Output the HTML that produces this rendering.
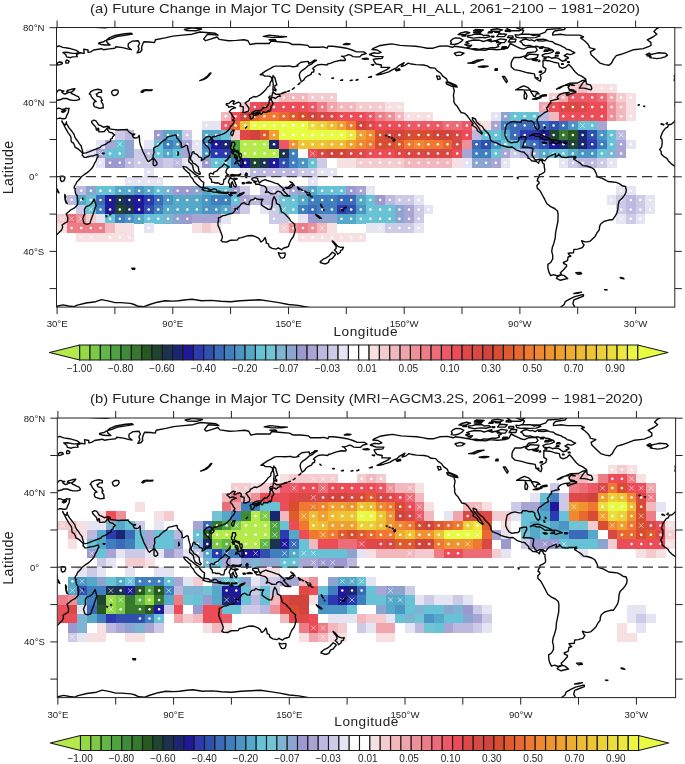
<!DOCTYPE html>
<html><head><meta charset="utf-8"><title>Future Change in Major TC Density</title>
<style>html,body{margin:0;padding:0;background:#fff}svg{display:block;font-family:"Liberation Sans",sans-serif}</style></head><body>
<svg width="685" height="764" viewBox="0 0 685 764">
<defs><clipPath id="clip"><rect x="56.5" y="27.5" width="618.3" height="279.6"/></clipPath>
<path id="coast" d="M53.2 108.6 L55.6 109.3 L58.3 108.2 L60 108.4 L61.9 109.5 L63.8 109.3 L66 108.2 L67.9 108.6 L69.1 108.2 L68.7 109.7 L68.5 111.2 L68.3 112.5 L67.7 113.6 L66.9 115.1 L66.5 116.2 L66 117.7 L65.2 118.5 L63.8 118.8 L62.1 118.8 L61 118.3 L59.4 118.1 L57.7 118.6 L55.2 119.2 L51.3 118.5M61.5 111.6 L62.9 111 L65.8 110.3 L64.8 111.6 L62.9 112.3 L61.5 111.6M56.5 92.5 L58.4 90.1 L60 89.9 L61 90.3 L61.9 90.9 L64 90.9 L61.9 92.2 L63.8 93.7 L65.2 94 L67.5 92.9 L69.6 92.4 L66.7 91.8 L67.3 90.5 L69.6 89.8 L72.5 89 L75 88.8 L73.5 90.7 L72.1 91.6 L70.6 92.4 L71.6 93.5 L74.5 94.8 L75.8 95.7 L78.3 96.6 L79.5 98.5 L79.5 99.3 L76.4 100.4 L72.5 100.4 L69.6 99.8 L66.7 98.5 L62.9 98.5 L60 99.8 L57.1 100.2 L55.2 100 L53.2 98.5 L52.7 96.6 L54.4 95.3 L54.6 94.2 L56.5 92.5M90.5 92.4 L90.8 91.6 L93.7 90.1 L97.6 89.2 L100.5 89.8 L101.5 90.1 L101.5 92.4 L98.6 92.4 L97.6 93.9 L96.2 93.9 L97.2 96.3 L98.6 96.6 L100.9 97.2 L101.3 98.9 L102.4 100.4 L101.1 100.6 L101.5 102.2 L103 104.1 L103.2 106.9 L103.4 107.8 L99.5 108.4 L96.6 107.3 L94.7 106.9 L93.7 105.4 L93.5 103.7 L94.5 101.9 L96.2 101.5 L94.7 100.4 L92.8 98.5 L91.2 96.6 L90.8 94.8 L89.3 93.9 L90.5 92.4M111.5 92 L113 90.5 L114.9 89.8 L117.8 90.1 L118.4 92 L117.5 93.9 L115.9 95.3 L113.6 95.5 L112.2 94.4 L111.5 92M141 92 L142.9 90.1 L145.8 89.8 L149.7 89.9 L152.2 89.8 L151.6 90.5 L147.7 90.5 L144.8 90.5 L142.5 92.4 L141 92M199.8 80.6 L202.7 79.9 L206.5 78 L209.4 75.2 L211 73 L209.8 73.2 L207.5 76.1 L203.7 78.8 L199.8 80.6M57.7 65 L60 64.6 L62.5 63.5 L61.9 62.2 L59 62 L57.1 63.5 L57.7 65M65.8 63.1 L68.3 63.1 L69.1 61.2 L66.7 59.9 L65.8 61.2 L65.8 63.1M60.4 176.2 L62.9 176.1 L64.8 177.2 L64.8 178.7 L63.8 180.9 L61.9 181.6 L60.6 180.5 L60.4 178.3 L60.4 176.2M55.8 183.1 L56.5 185.2 L56.3 188 L58.1 190.8 L59 193 L58.1 192.3 L56.1 188.9 L55.6 186.1 L55.8 183.1M64.8 194.5 L65.8 196.4 L65.4 199.2 L66.4 202 L67.1 203.5 L66 202.9 L65.2 200.1 L64.8 197.3 L64.8 194.5M52.3 238.7 L55.2 236.1 L58.8 232.7 L59.2 232.3 L61.7 229.9 L62.7 226.9 L62.1 225.1 L63.8 223.8 L67.5 221.5 L67.7 217.8 L67.1 215.9 L66.2 213.7 L68.7 211.8 L70.6 210 L74.5 207.9 L77.5 204.8 L77.7 201 L77.3 197.3 L77.2 196 L75.6 193.6 L75 189.8 L75.4 188.9 L74.1 188 L74.5 186.1 L75.8 184.3 L76.8 182 L78.3 180.5 L79.5 179.2 L81.4 176.8 L84.1 174.7 L86.8 172.9 L88.9 171.2 L91.4 168.8 L93.4 166 L94.5 163.4 L96.1 160.6 L97.2 157.8 L98 157 L97.8 154.8 L96.6 154.6 L93.7 155.7 L90.8 156.1 L88 156.7 L86 157.4 L84.1 157.2 L82.7 155.6 L82.2 155.2 L82.7 153.5 L82.2 152.9 L81 151.6 L78.7 149.4 L76.4 147.9 L75.2 147.5 L74.8 146 L73.5 143.2 L71.4 141.8 L71 139.5 L71 137.7 L70.4 135.8 L67.9 132.3 L66.7 130.2 L65.6 128.3 L64.6 126.5 L63.8 124.6 L62.1 121.8 L61.9 120.9 L62.9 123.1 L64 124.2 L65.2 125 L65.8 123.7 L66.5 121.8 L66.4 123.7 L67.1 124.6 L68.7 127.4 L71 130.2 L72.5 132.1 L74.1 134.3 L74.6 136.7 L76 139 L77.7 141 L79.3 143.6 L81.2 146 L81.8 148.5 L82.6 151.1 L83.1 153.1 L85.1 153.1 L86 152.9 L88.9 151.8 L91.8 150.7 L93.9 149.8 L97.6 148.5 L99.9 147.7 L101.5 145.9 L103.6 145.1 L105.9 144.2 L108.2 142.3 L110.5 141.4 L110.5 139.1 L112.1 138.6 L112.6 136.7 L114.6 134.9 L113 133.9 L112.1 132.8 L109.2 132.1 L107.8 130.2 L108 127.8 L107.2 128.3 L105.9 129.6 L104.3 131.5 L100.7 131.9 L98.8 131.7 L98.8 130.2 L98.6 128.3 L98 128.1 L97.2 129.3 L97.2 130.6 L96.2 129.3 L95.9 127.4 L94.7 125.9 L93.4 124.6 L91.8 122.7 L91.6 121.1 L92.8 120.9 L93.7 120.1 L95.7 120.7 L97.2 122.7 L98.6 124.8 L100.7 125.7 L103.4 127.2 L106.3 126.5 L107.8 126.3 L109.2 126.8 L109.7 128.9 L112.1 129.3 L114.9 129.6 L117.8 130 L120.7 129.8 L123.6 129.8 L127.5 129.5 L127.9 130.6 L129.4 132.4 L131.3 133.6 L132.3 134.3 L134.8 133.9 L134.2 134.9 L132.3 135.2 L133.3 137.3 L135 138 L137.1 137.8 L138.5 136.7 L139.2 135.4 L139.4 137.3 L139.6 141.4 L140.4 145.1 L141.6 147.9 L142.9 151.6 L144.5 154.8 L146.2 158.3 L147.5 160.8 L148.7 161.7 L150 160.4 L151.6 159.5 L153.1 157.6 L153.1 155.4 L154.1 152.4 L153.7 149.8 L153.9 147.9 L155.8 146.6 L158 145.9 L159.9 143.8 L163.2 140.8 L166 139.1 L167 137.3 L168.9 136.4 L170.9 136.2 L173.8 135.4 L175.7 134.9 L176.3 135.2 L176.7 137.7 L178.2 139.3 L179.9 141.4 L181.1 143.2 L181.5 146 L181.1 147 L183 147.3 L184.8 146 L186.3 145.1 L187.5 146 L187.8 148.8 L188.6 151.6 L189.4 154.4 L189.4 157.2 L188.8 160 L188.8 161.9 L190.2 162.8 L191.5 164.1 L192.7 165.6 L192.9 167.5 L193.4 169.3 L194.6 171.6 L196.3 172.7 L198.6 174 L199.8 174.4 L200.4 173.1 L198.8 171.2 L198.6 169 L198.3 166.9 L196.5 165.2 L195 163.9 L193.2 163.4 L192.1 161 L190.7 159.7 L190.5 157.2 L191.7 154.8 L192.1 152.6 L193 151.6 L194 152 L194 153.3 L196.3 154.1 L197.7 155.2 L198.8 157 L200.8 157.4 L201.7 158.3 L201.3 160.6 L202.3 160.2 L204.6 158.7 L205.2 157.4 L206.2 157.2 L207.5 156.7 L209.4 155.4 L209.8 153.5 L210 151.6 L209.4 149.2 L208.1 147 L206.2 145.5 L204.6 143.6 L203.3 141.8 L203.3 139.9 L204.8 138.6 L205.6 137.7 L207.5 136.7 L208.7 136.4 L210.4 136.7 L211 138.8 L212.3 139 L211.9 137.3 L213.3 136.7 L216.2 136.2 L218.1 135.4 L219.5 135.2 L222 134.3 L224.3 133.4 L226.4 132.1 L227.2 131.1 L228.7 129.8 L229.9 128.3 L230.6 126.5 L232.6 124.6 L233.7 122.7 L234.5 120.9 L232.6 120.3 L233.5 119.2 L234.3 118.1 L232.6 116.2 L231.2 113.4 L229.3 111.6 L231.2 109.5 L232.6 108.6 L235.5 107.8 L233.5 106.9 L231.6 106.3 L228.7 107.3 L228.3 106 L226.2 104.8 L226.4 103.7 L228.7 103.5 L230.3 102.2 L232.6 100.7 L234.5 101.1 L233 103.5 L233.9 104.3 L236.4 103 L238.9 102.2 L240.3 103.2 L240.7 104.7 L239.9 106 L241.8 106.5 L243.4 106.9 L243.2 108.8 L243.2 110.6 L242.8 112.3 L244.7 112.5 L247 111.7 L248.4 111.2 L249 109.7 L248.8 107.8 L247.4 106 L246.1 104.1 L245.1 103.2 L246.1 102.1 L249 100.7 L249.5 98.9 L251.3 98 L253.6 96.5 L256.1 97 L259.6 95.2 L262.5 92.9 L265.4 90.1 L267.3 87.3 L269.8 85.5 L270.2 82.7 L271.9 79.9 L271.5 77.4 L269.2 76.1 L266.3 76.1 L264.4 76.1 L263 74.8 L260.1 74.8 L264.4 71.9 L266.3 70.6 L270.2 68.7 L273.1 66.8 L275.4 66.1 L279.8 66.1 L284.6 66.3 L290 65.9 L292.4 66.8 L295.2 66.5 L298.1 65.9 L297.2 65 L301 62.2 L305.9 61.6 L308.4 61.4 L308.7 63.7 L311.6 62.2 L314.1 60.3 L316.5 60.3 L313.6 62.2 L311.4 64.2 L307.8 65.9 L304.9 68.7 L302 70.6 L300.1 72.4 L299.3 75.2 L299.9 78 L301 80.8 L301.4 81.7 L303.9 79.9 L304.9 78 L307.8 75.8 L311.1 74.3 L311.6 72.4 L313.6 72 L314.1 69.6 L312.6 68.7 L314.5 66.8 L317.4 65 L321.3 64.4 L327.1 65 L327.6 64 L330.9 63.1 L334.8 61.6 L340.6 60.3 L345 60.5 L345.4 59.4 L343.5 56.9 L341.5 56.2 L343.5 56.4 L346.3 55.6 L348.3 54.7 L350.2 54.9 L353.1 56.6 L356 56.9 L359.8 56.8 L361.8 54.7 L366.2 53.6 L363.7 51.9 L356 51.7 L352.1 50 L346.3 48.2 L340.6 47.3 L332.8 46.3 L328 46.3 L327.1 48.2 L323.2 46.9 L319.3 47.3 L309.7 47.3 L307.8 45.4 L300.1 44.5 L292.4 44.5 L288.5 42.6 L280.8 42 L271.1 41.1 L269.2 43.5 L263.4 43.5 L255.7 43.5 L249.9 44.5 L248 40.7 L244.1 39.8 L236.4 40.4 L228.7 40.7 L219.1 39.4 L217.1 37 L211.4 38.9 L205.6 40.7 L203.7 38.9 L207.5 34.2 L218.1 35.1 L215.2 33.3 L199.8 32 L192.1 34.2 L182.4 35.1 L172.8 36.1 L165.1 37.9 L155.4 39.8 L154.5 42.6 L149.7 42 L143.9 41.7 L142.9 43.5 L141.6 47.3 L141.9 50 L140 52.3 L137.1 52.8 L139.1 49.1 L138.1 46.3 L139.6 43.5 L138.1 40.7 L132.3 41.1 L128.4 43.5 L128.1 45.4 L128.4 47.3 L131.3 49.5 L128.4 49.1 L122.7 47.6 L115.9 46.7 L114.9 48.2 L109.2 48.9 L103.4 49.7 L101.5 48.7 L93.7 50 L90.8 51.9 L88 52.3 L88 50 L83.7 49.1 L84.1 51.9 L84.1 53.4 L80.2 52.8 L76.4 54.7 L77.3 56.6 L72.5 56.9 L70.6 57.7 L66.7 56.9 L65.8 54.7 L62.9 52.5 L66.7 52.3 L72.5 53.4 L76.4 53.4 L78.9 52.3 L76.4 50.4 L68.7 48.2 L62.9 47.4 L59 45.8 L57.1 46.7 L53.2 44.5 L47.5 44.5M98.6 43.5 L101.5 44.5 L105.3 45 L110.1 45 L107.2 42.6 L106.3 40.2 L109.2 37.9 L114.9 35.5 L124.6 33.8 L131.3 33.3 L132.3 34 L126.5 35.1 L116.9 36.6 L111.1 38.9 L105.3 40.7 L103.4 42 L99.5 42.6 L98.6 43.5M273.1 75.6 L275 78 L275.6 80.8 L276.9 84.9 L275 85.5 L274.6 88.3 L276 89.6 L275.8 90.9 L274 89.8 L273.1 91.1 L272.9 88.3 L273.3 85.5 L273.1 82.7 L272.5 79.9 L272.7 77.3 L273.1 75.6M269.8 99.6 L269.2 98.9 L269.8 98 L268.8 97.4 L269.8 96.1 L271.9 96.1 L272.5 93.9 L272.5 92.2 L274 92.9 L276 94.4 L279.4 94.2 L279.2 95.5 L280.4 96.1 L277.7 96.6 L275.4 98.5 L273.1 97.4 L271.1 97.6 L270.9 98.5 L271.5 98.9 L269.8 99.6M270.9 99.4 L272.1 101.3 L273.1 103.2 L272.1 105.4 L271.1 106 L271.1 107.8 L270.4 109.7 L270.8 110.3 L269.2 111.6 L268.8 110.4 L267.7 111.2 L266.9 112.3 L265.7 112.3 L263.4 112.3 L263.2 111.6 L262.5 112.9 L261.5 114.4 L261.1 114.4 L259.8 112.9 L260.1 112.1 L257.6 112.1 L255.7 112.9 L253.8 113.4 L251.9 113.4 L251.9 112.7 L253.8 111.6 L255.7 110.6 L258.6 110.4 L260.5 110.6 L261.5 109.7 L262.8 108.2 L264 106.9 L263.4 108.2 L266.3 107.3 L267.3 106 L268.8 104.1 L269.2 102.2 L269 101.1 L269.8 100 L270.9 99.4M254.8 115.3 L255.7 113.6 L258.6 113.1 L259 113.8 L258 114.7 L256.7 114.4 L255.7 115.7 L254.8 115.3M251.7 113.6 L253.2 114.2 L253.8 115.7 L252.6 118.3 L251.3 119 L250.3 118.5 L250.3 116.6 L249.5 115.8 L249.4 114.7 L250.7 114.2 L251.7 113.6M232.6 130.2 L234.3 130.2 L233.5 132.1 L233.2 133.9 L232.2 135.8 L231 134.7 L230.8 133 L232 131.1 L232.6 130.2M208.9 140.8 L210.4 139.5 L212.3 139.3 L213.3 140.3 L212.3 141.8 L210.4 142.9 L208.9 142.3 L208.9 140.8M153.1 158.7 L153.9 158.5 L155.8 161 L157 162.8 L156.8 164.7 L154.7 165.8 L153.5 165.2 L153.1 163.8 L153.3 161 L153.1 158.7M231.8 142.3 L234.5 142.3 L235.1 144.6 L233.7 147 L233.7 148.8 L234.5 150.3 L236.4 150.7 L238.4 151.1 L238.4 153.3 L237 152.2 L235.5 151.4 L233.5 151.3 L231.8 150.3 L232.4 149.6 L231 149.2 L230.5 146.6 L231.4 146 L231.4 144.2 L231.8 142.3M234.5 163.8 L235.5 161.9 L237.4 160.8 L239.3 161 L241.3 158.5 L242.8 161 L243.2 163.8 L242.6 165.1 L241.3 165.6 L241.1 166.4 L239.3 165.6 L238.4 163.8 L237 162.8 L234.5 163.8M238.9 153.5 L240.9 153.5 L241.6 155.9 L240.7 157.8 L239.9 157.8 L239.1 155.7 L238.9 153.5M234.5 154.6 L236.6 155.4 L235.9 157.2 L234.5 157.2 L234.5 154.6M237 156.5 L237.4 158.2 L236.8 159.8 L235.5 158.5 L236.2 156.7 L237 156.5M231.2 151.6 L233.3 151.8 L233.5 153.9 L232.4 153.9 L231.2 151.6M225.2 161.1 L226.8 159.7 L228.7 157.6 L229.7 155.7 L229.1 157.6 L227.4 159.7 L225.6 161.3 L225.2 161.1M209.4 174 L210.6 173.1 L213.3 174 L213.9 172.1 L217.1 170.8 L219.1 168.4 L222 166.5 L224.3 163.8 L226.2 165.2 L229.1 167.1 L227.2 168.4 L226.4 170.3 L225.8 172.1 L226.8 174 L228.7 174.9 L226.2 175.9 L225.8 178.3 L223.9 179.6 L223.5 182.4 L222.9 184.3 L220.2 184.4 L219.1 183.1 L217.1 182.8 L215.2 183.1 L214.3 182.4 L211.7 182.2 L211.4 179.6 L209.6 177.7 L209.4 175.9 L209.4 174M183 166.4 L186.3 167.1 L188.2 168.8 L189.6 169.9 L192.1 171.8 L193.6 173.1 L195.9 174.9 L197.9 175.9 L199.2 178.3 L200.8 180.2 L201.7 181.1 L203.7 182.4 L203.5 185.2 L203.3 187.6 L202.1 187.6 L200.8 187.4 L198.8 185.9 L196.5 184.1 L194 181.5 L192.7 178.7 L190.2 176.2 L189.6 173.6 L187.5 172.1 L185.3 169.9 L183.4 167.9 L183 166.4M202.1 189.5 L203.7 187.8 L205.2 188 L208.1 188.5 L208.9 189.5 L212.3 189.7 L213.3 188.7 L216.4 189.7 L217.1 191.2 L219.8 191.2 L220 193 L217.1 192.3 L213.3 192.1 L210.4 191.2 L208.5 191.3 L204.6 190.6 L202.1 189.5M221 192.1 L222.4 192.5 L221.4 193.2 L221 192.1M222.9 192.3 L224.3 192.5 L223.9 193.4 L222.9 193.2 L222.9 192.3M224.5 192.6 L226.8 192.1 L228.7 192.5 L227.8 193.2 L224.9 193.6 L224.5 192.6M230.5 192.5 L232.6 192.6 L236 192.1 L236 193 L232.6 193.4 L230.5 193.2 L230.5 192.5M228.7 194.5 L230.6 194.3 L232.2 195.4 L230.6 195.8 L228.7 194.5M237.4 196 L240.3 193.6 L244.1 192.5 L243.2 193.6 L239.3 195.8 L237.4 196M230.3 175.3 L232.2 174.4 L235.5 174.9 L238.4 174.9 L240.7 173.8 L239.3 176.1 L236.4 175.9 L233.5 175.9 L231.2 175.9 L230.6 178.3 L232.6 179.2 L234.5 178.5 L237 178.5 L237.2 178.9 L234.5 179.8 L233.9 180.3 L235.5 182.8 L235.1 183.3 L236.4 185.2 L235.5 187.1 L233.7 185.7 L232.6 183.3 L232.4 181.8 L231.2 183.3 L231.4 187.1 L229.7 187.1 L229.7 184.3 L228.3 182 L229.3 179.6 L230.3 177.2 L230.3 175.3M245.1 174.9 L246.1 172.9 L247.4 174 L246.5 175.3 L247.4 176.2 L246.1 177.7 L245.7 176.2 L245.1 174.9M246.1 182.6 L249 182 L251.5 183 L249 183.1 L246.1 183.1 L246.1 182.6M242.2 182.8 L244.1 182.6 L244.5 183.5 L242.8 183.9 L242.2 182.8M251.9 178.3 L254.8 177.5 L257.6 178.3 L258 180.5 L259.6 183 L261.5 181.1 L265 179.6 L267.3 180.5 L271.1 181.6 L275 183.1 L277.9 183.9 L280.4 186.1 L282.7 188 L284.3 189.3 L282.7 189.8 L284.6 192.1 L286.6 193.9 L288.5 195.8 L290 196 L287.5 196 L284.6 195.8 L282.7 194.5 L280.8 192.1 L277.9 191.2 L276 192.3 L275.6 193.6 L273.1 193.9 L271.1 193.8 L268.2 191.9 L265.4 192.5 L266.9 190.2 L266.3 188 L264.4 186.1 L261.5 185.4 L258.6 184.3 L255.7 184.3 L255.3 183 L253.8 182.2 L256.7 181.5 L253.8 180.9 L251.9 179.6 L251.9 178.3M285.2 187.4 L288.5 187.1 L291.4 184.6 L292.9 184.8 L292.4 186.7 L289.5 188.4 L286.6 188.5 L285.2 187.4M290 181.6 L292.4 182.8 L294.3 185.6 L293.5 184.3 L291.4 182.8 L290 181.6M297.6 187.1 L299.9 188.9 L299.1 189.7 L297.6 187.8 L297.6 187.1M301 189.3 L303 190.4 L302 190.4 L301 189.3M304.9 191 L307.4 192.5 L305.9 192.3 L304.9 191M307 194.1 L309.3 195.1 L307.8 195.3 L307 194.1M309.1 192.5 L310.3 194.5 L309.3 193.6 L309.1 192.5M310.3 196 L312.2 196.9 L311.2 196.9 L310.3 196M320.5 204.2 L321.7 205.7 L320.9 205.9 L320.5 204.2M321.7 206.6 L322.8 207.6 L322 207.6 L321.7 206.6M323.6 209.6 L324.2 210 L323.6 210.2 L323.6 209.6M315.5 214.3 L318.4 215.9 L321.3 218.4 L319.9 218.4 L317 216.3 L315.5 214.3M341.1 209.4 L343.6 209.6 L343.5 210.7 L341.3 210.5 L341.1 209.4M343.8 208.1 L346.3 207 L346 207.9 L343.8 208.1M393 140.1 L394.4 139.1 L394.9 140.5 L393.4 141.4 L393 140.1M391.3 137.8 L392.6 138 L392 138.4 L391.3 137.8M388.4 136.7 L389.3 136.7 L389 137.1 L388.4 136.7M385.5 135.6 L386.3 135.4 L385.9 136 L385.5 135.6M218.5 217.8 L220.2 217.4 L222.9 215.6 L225.8 215.2 L228.7 214.1 L232.6 213.3 L235.1 210.4 L234.9 208.5 L237.4 209 L237.6 207.6 L239.3 206.6 L241.3 203.8 L244.1 202.7 L246.5 204.4 L249 204.6 L249.4 202 L251.1 199.9 L253.8 199.5 L254.9 197.9 L256.7 199 L259.6 199.5 L263 199.2 L261.5 201.6 L261.3 204.8 L263.4 206.4 L266.3 208.1 L268.2 209.4 L270.8 209.4 L272.1 205.7 L272.3 202 L272.7 200.1 L274 196.7 L276 200.1 L276.5 203.5 L279.4 204.8 L280.8 208.5 L281.4 211.8 L283.7 213 L285.6 214.5 L287 216.3 L289.5 218.7 L290.4 220.8 L293.3 223 L294.7 224.3 L294.5 227.1 L295.4 229.9 L294.3 233.7 L293.3 236.8 L291 239.8 L289.5 243 L288.5 246.3 L286.6 247.3 L283.7 248 L281.6 249.7 L278.9 248.4 L278.3 247.8 L276 249.1 L272.1 248.4 L269.2 246.7 L268.4 243.9 L266.3 243.2 L266.3 241.7 L265.4 238.3 L265 237.6 L263.4 240.2 L261.5 241.7 L260.7 241.9 L259.6 239.2 L257.6 237.6 L254.8 236.4 L251.9 235.5 L248 235.7 L244.1 236.8 L241.3 237.6 L238.4 238.3 L237.4 240 L230.6 240.2 L226.8 242 L222.9 241.9 L221 240.7 L222.2 238.3 L222.4 236.4 L221.4 233.7 L220.2 230.5 L219.1 227.7 L218.1 225.6 L217.9 223 L218.5 220.6 L218.5 217.8M278.3 252.7 L280.8 253.4 L285 252.9 L285.2 255.1 L284.4 257.3 L282.7 258.1 L280.8 257.9 L279.4 255.6 L278.3 252.7M332.3 240.9 L333.8 242 L335.7 243.9 L336.7 245.4 L338.4 246.7 L340.6 247.4 L343.5 247.1 L342.3 249.9 L340.6 250.4 L340.4 252.3 L337.7 254.3 L336.7 252.3 L334.4 250.1 L336.1 248.6 L336.1 246.3 L334.8 244.5 L332.8 242 L332.3 240.9M332.3 252.3 L334.8 253.6 L335.4 254.7 L333.8 256.6 L332.5 258.3 L329.6 259.6 L328.4 262.4 L326.1 263.7 L323.8 263.7 L320.3 262.5 L320.3 261.6 L323.2 259.2 L326.1 257.9 L329 256 L330.5 254.2 L332.3 252.3M94.3 199.2 L96.1 205.7 L95.3 207.6 L94.3 210.4 L92.8 215 L90.8 220.6 L89.9 223.4 L87 224.3 L84.1 223.4 L82.7 218.7 L83.7 215.9 L84.7 214.1 L84.5 209.4 L86 206.6 L88.9 205.7 L91.4 203.8 L92.8 201.6 L94.3 199.2M343.5 44.5 L346.3 43.5 L350.2 43.9 L348.3 44.6 L343.5 44.5M263.4 36.4 L269.2 35.1 L278.9 36.1 L286.6 36.6 L280.8 37.4 L271.1 37.4 L263.4 36.4M269.2 39.8 L275 39.4 L276 40.4 L271.1 40.4 L269.2 39.8M184.4 29.5 L192.1 27.7 L201.7 29 L195.9 30.8 L186.3 30.5 L184.4 29.5M89.9 27.1 L99.5 26.2 L111.1 26.7 L105.3 27.7 L89.9 27.1M369.5 54.5 L373.3 52.8 L378.2 53.4 L381.1 52.3 L377.2 50 L372 49.5 L373.3 48.4 L379.1 45.8 L384.9 44.8 L391.7 43.9 L400.3 45.4 L408.1 45.9 L415.8 46.3 L421.5 47.1 L427.3 48.2 L433.1 48.2 L438.9 46.3 L446.6 45.9 L452.4 47.3 L454.3 46.3 L462 47.3 L471.7 49.1 L475.5 50 L481.3 50 L485.2 50.4 L489 49.1 L496.8 49.7 L504.5 49.1 L508.3 47.3 L510.3 43.5 L516 46.3 L519.9 48.2 L523.7 49.1 L527.6 47.3 L535.3 46.7 L537.2 50 L535.3 51.9 L527.6 52.8 L525.7 55.6 L519.9 57.5 L514.1 57.5 L512.2 60.3 L511.2 63.1 L511.2 66.8 L514.1 69.6 L519.9 70.6 L527.6 72.8 L534.4 73.9 L535.3 78 L539.2 80.8 L540.1 81.2 L541.1 78 L540.1 74.8 L545 72 L545.9 68.7 L543 66.8 L543 63.1 L543 60.3 L548.8 60.7 L553.6 62.2 L558.5 63.1 L559.4 66.8 L562.3 68.3 L566.2 66.8 L568.7 64.2 L572 67.8 L574.8 71.5 L577.7 74.3 L581.6 76.1 L585.5 78.9 L586 79.9 L581.6 80.8 L577.7 83 L570 83.2 L565.2 85.1 L560.4 86.8 L556.5 89.2 L559.4 88.3 L564.2 85.5 L569.1 85.1 L569.4 85.8 L568.1 87.3 L569.1 89.2 L570 90.7 L573.9 91.4 L575.8 91.1 L575.8 92.4 L571 93.7 L567.1 95.5 L566.2 93.9 L569.1 92.4 L564.2 92.9 L560.4 94.2 L558.5 95.3 L557.1 97.6 L558.5 99.1 L554.6 99.8 L550.7 100.9 L550.7 103.2 L548.8 104.5 L547.9 106.9 L546.5 107.8 L547.9 111 L545 112.3 L543 113.8 L541.1 115.3 L538.2 117.2 L536.9 119.9 L538.2 123.7 L539.2 126.5 L538.8 128.7 L537.2 129.8 L535.9 128.3 L534 125 L534 122.7 L531.5 120.9 L528.6 121.3 L525.7 120.1 L521.8 120.3 L520.9 122.4 L518 122.4 L514.1 121.4 L510.6 122.2 L506.4 124.6 L505.6 128.3 L505 132.1 L504.9 135.2 L506.4 138.6 L508.3 141.4 L511.2 142.9 L514.1 142.3 L517 142.1 L518.9 140.5 L518.9 137.7 L522.8 136.7 L525.7 136.7 L526.1 138.6 L524.7 141.4 L523.7 143.2 L523.4 145.1 L522.2 147 L523.7 147.3 L527.6 147.2 L531.5 147.9 L533 148.8 L532.4 152.6 L532 155.4 L533.4 157.2 L534.4 159.1 L536.3 160 L539.2 159.1 L542.1 159.1 L544.4 161 L545 160.6 L547.9 156.9 L550.4 155.9 L553.6 154.4 L555.2 153.7 L555.6 155.4 L555.2 157.2 L558.5 155.4 L558.5 154.1 L561.4 157 L566.2 157.6 L568.1 157 L572.9 156.9 L573.9 156.9 L573.9 159.1 L576.8 161 L579.7 162.8 L582.6 165.6 L586.4 166 L591.2 167.5 L594.1 169.3 L596.1 173.1 L597 175.9 L597 176.8 L599.9 177.7 L601.8 178.1 L604.7 179.6 L608 181.5 L612.5 182 L616.3 182.4 L619.2 183.7 L622.1 185.7 L625.4 186.5 L626.3 189.8 L625.9 192.6 L624.4 195.4 L622.1 198.2 L619.2 201 L618.2 204.8 L617.8 209.4 L616.9 213.1 L615.3 215.9 L613.4 218.7 L612.5 219.7 L610.1 219.7 L606.7 220.6 L603.8 221.5 L600.5 224.3 L599.5 227.1 L599.3 229.9 L597 232.7 L595.1 236.4 L592.2 239.2 L590.3 241.1 L587.4 241.9 L585.1 241.9 L581.6 240.7 L583.1 243.9 L584.1 244.8 L582.4 247.6 L577.7 249.1 L573.9 249.5 L573.5 252.7 L568.1 253.2 L569.4 255.1 L571 256 L568.1 257 L567.5 260.7 L563.3 262.5 L563.7 263.5 L566.6 264.8 L566.6 266.3 L563.3 270 L560.4 272.8 L561.4 274.3 L557.5 276 L553.6 274.7 L550.7 275.6 L548.8 271.9 L547.9 268.1 L547.9 264.4 L550.7 262.5 L552.7 258.8 L552.7 255.1 L551.7 251.4 L552.3 247.6 L553.6 243.9 L555.2 238.3 L555.6 232.7 L556.5 228.1 L557.9 221.5 L558.1 214.1 L557.5 211.1 L554.6 208.5 L550.7 206.6 L546.9 203.8 L544.6 199.2 L542.1 194.5 L540.1 190.8 L537.2 188 L536.9 185.4 L539.2 183.1 L538.6 181.5 L537.2 180.9 L537.8 178.7 L539.2 176.4 L539.2 174.9 L541.7 173.8 L544.6 172 L544.8 169.5 L544.2 166.5 L544.2 164.1 L542.6 163.2 L542.1 161 L540.1 160 L539.2 161 L538.6 163.2 L536.3 161.5 L533.8 161 L532 161.1 L529.1 158.2 L528 158.2 L528 156.3 L524.7 152.9 L524.3 152.2 L520.9 151.6 L516 149.8 L512.2 147 L508.3 147.3 L503.5 146 L500.6 145.1 L496.8 143.2 L491.9 141.4 L490 138.8 L490 136.7 L488.3 133.6 L484.2 129.6 L482.3 126.5 L479.6 124.8 L476.5 121.8 L475.5 119 L472.3 117.7 L472.6 119.9 L475.5 123.7 L478.4 127.4 L480.4 130.6 L482.3 133 L481.9 134.1 L480.4 133 L477.5 130.8 L476.5 128.3 L474.2 126.5 L471.7 125 L473.2 123.7 L471.7 121.8 L469.8 119.4 L468.2 117.2 L467.4 116 L464.9 113.4 L461.1 112.5 L459.2 109.7 L457.2 106.3 L454.9 104.1 L453.8 101.5 L453.9 98.5 L453.4 95.7 L454.3 90.7 L453 86.6 L457.2 87 L456.3 85.5 L452.4 83.6 L447.6 81.7 L446.6 78.9 L442.8 76.1 L440.8 73.3 L437 70.6 L435 68.1 L430.2 67.8 L427.3 65.9 L423.5 65 L415.8 64.6 L410 63.7 L408.1 63.1 L405.2 65.3 L401.3 66.5 L404.2 62.7 L398.4 65.9 L396.5 67.8 L392.6 69.6 L388.8 71.9 L383 73.7 L378.2 74.7 L376.2 74.8 L381.1 72.4 L386.8 69.6 L389.7 67.4 L386.8 67.4 L381.1 67.4 L381.4 65 L376.2 64 L374.3 61.8 L373.3 59.4 L375.3 59 L382 58.4 L383 56.6 L375.3 56.6 L369.5 54.5M561.4 274.8 L564.2 275.6 L567.7 278.6 L564.2 279.3 L560.4 280.3 L556.5 278.4 L557.5 276.5 L561.4 274.8M575.8 272.8 L580.6 272.4 L581.6 273.7 L577.7 274.3 L575.8 272.8M446 82.1 L449.5 83.2 L453.4 85.5 L455.5 86.6 L451.4 86.2 L446.6 84 L446 82.1M436.6 76 L439.5 76.1 L440.4 78.9 L437.9 79.5 L436.6 76M395.5 70 L399.4 68.7 L400 70 L396.5 70.9 L395.5 70M362.3 58.8 L366.6 58.2 L368.5 59 L364.7 59.4 L362.3 58.8M371.4 64.6 L373.9 64.4 L373.3 65.3 L371.4 64.6M537.2 39.4 L545 39.4 L548.8 41.1 L552.7 41.7 L554.6 43.5 L560.4 45.4 L562.3 46.7 L564.2 47.3 L566.2 49.1 L570 50 L572 51.4 L574.8 52.7 L572 54.1 L570 54.7 L567.1 53.8 L564.2 55.6 L568.1 57.5 L568.1 58.4 L565.2 59.4 L566.2 60.3 L562.3 61.2 L560.4 59.9 L558.5 58.4 L554.6 57.5 L551.7 58.2 L548.8 56.8 L545.9 57.3 L543 56.6 L542.1 55.1 L545 53.8 L548.8 53.4 L550.7 52.8 L553.6 51.4 L552.7 50 L549.8 48.9 L548.8 48.2 L545 47.8 L543 46.7 L539.2 47.1 L537.2 46.3 L533.4 46.7 L529.5 45.4 L525.7 45.8 L522.8 44.5 L521.8 42.6 L519.9 41.7 L522.8 39.8 L525.7 39.2 L529.5 40.4 L531.5 39.8 L534.4 41.1 L537.2 39.4M466.9 47.8 L469.8 48.9 L475.5 48.7 L479.4 49.5 L483.3 48.4 L487.1 48.7 L491 47.6 L494.8 47.8 L498.7 46.5 L497.7 44.8 L500.6 43.5 L498.7 41.7 L494.8 40.7 L491 41.7 L487.1 40.4 L483.3 41.5 L479.4 40.2 L473.6 40 L468.8 41.1 L465.9 42.2 L468.8 43.5 L464.9 44.5 L467.8 45.8 L471.7 45.2 L469.8 47.1 L466.9 47.8M450.5 44.1 L454.3 44.5 L458.2 43.5 L461.1 41.7 L463 39.8 L460.1 38.3 L455.3 37.9 L452.4 39.2 L450.5 41.1 L451.4 42.6 L450.5 44.1M467.8 37 L473.6 38.1 L479.4 37.4 L485.2 37.7 L490 36.6 L488.1 35.1 L483.3 35.5 L481.3 34.2 L475.5 34 L471.7 35.1 L467.8 35.5 L467.8 37M496.8 42.6 L504.5 42.6 L506.4 39.8 L500.6 38.9 L495.8 40.7 L496.8 42.6M508.3 42 L515.1 42 L516 39.2 L510.3 38.9 L508.3 42M501.6 48.2 L507.4 48.2 L506.4 46.7 L502.5 46.7 L501.6 48.2M516 37 L519.9 37.9 L523.7 37.6 L529.5 37.9 L535.3 37.6 L540.1 35.9 L537.2 34.8 L533.4 35.5 L529.5 34.2 L521.8 34 L518 35.1 L515.1 34.6 L516 37M521.8 34.2 L539.2 34.4 L545 32.3 L546.9 29.5 L558.5 28.6 L568.1 25.8 L577.7 23 L558.5 22.1 L529.5 24 L516 27.7 L523.7 30.5 L521.8 34.2M510.3 30.8 L519.9 30.8 L523.7 27.7 L514.1 25.8 L506.4 27.7 L510.3 30.8M496.8 36.6 L504.5 36.6 L506.4 34.2 L498.7 33.8 L496.8 36.6M524.7 57.5 L529.5 54.1 L538.2 54.7 L537.2 57.5 L533.4 58.8 L527.6 59.4 L524.7 57.5M586 80.6 L586.4 83.6 L588.3 84.5 L590.3 84.9 L591.2 86.4 L591.8 88.3 L591.2 89.8 L588.3 89.2 L586.4 88.6 L583.5 88.1 L579.3 88.1 L580.6 86.4 L581.6 84.5 L583.5 82.1 L586 80.6M569.1 83.8 L574.5 85.3 L572 85.3 L569.1 83.8M570 89.4 L573.9 90.3 L572 91.1 L570 89.4M529.5 136 L533.4 133.9 L537.2 133.6 L541.1 134.9 L545 136.7 L548.8 138.2 L550.4 139.1 L547.9 139.7 L544 139.7 L542.1 138.2 L539.2 136.5 L535.3 136.4 L534.4 135.4 L531.5 135.4 L529.5 136M549.8 139.9 L551.7 139.7 L555.6 139.9 L558.5 140.8 L561.5 142.3 L558.5 142.7 L555.6 143.8 L552.7 142.9 L549.8 142.7 L553.6 142.1 L553.3 140.8 L549.8 139.9M542.3 142.5 L545 142.3 L546.5 143.2 L544 143.6 L542.3 142.5M563.9 142.3 L566.9 142.5 L566.6 143.2 L563.9 143.2 L563.9 142.3M574.3 156.7 L575.8 156.7 L575.8 158 L574.3 158 L574.3 156.7M543 130 L544.2 131.5 L543.4 131.7 L543 130M544.4 126.8 L545.3 127.6 L544.6 128.3 L544.4 126.8M552.7 35.1 L560.4 34.2 L566.2 35.1 L579.7 35.1 L583.5 37 L580.6 37.9 L584.5 40.7 L587.4 43.5 L589.3 46.3 L589.3 47.6 L595.1 49.1 L590.3 51.9 L591.2 54.7 L594.1 57.5 L597 60.3 L599.9 63.1 L604.7 64.6 L609 65.3 L611.5 63.1 L613.4 59.4 L616.3 55.6 L621.1 54.3 L627.9 51.9 L633.7 49.7 L643.3 48.6 L649.1 46.3 L651 45.4 L651 42.6 L647.2 39.8 L652.9 37 L656.8 34.2 L653.9 31.4 L656.8 28.6 L660.7 26.7 L635.6 22.1 L597 22.1 L568.1 24.9 L564.2 29.5 L554.6 31 L552.7 33.3 L552.7 35.1M646.2 54.7 L649.1 53 L651 54.5 L654.9 53.6 L658.7 52.8 L661.6 53 L665.5 53.2 L667.4 55.1 L665.1 56.9 L660.7 58.1 L656.8 58.6 L652 57.9 L649.7 57.5 L651 56.6 L647.2 55.8 L650.4 55.3 L646.2 54.7M678 118.1 L674.7 120.9 L674.2 121.8 L671.3 124.2 L668.6 124.8 L667.4 127.4 L665.5 128.1 L662.6 132.1 L660.7 137.1 L660.7 138 L662 139.5 L662.2 143.2 L661.6 147 L659.7 149.4 L661.2 151.6 L661.2 153.9 L663.6 156.3 L666.4 158.2 L667.4 159.1 L668.4 161 L671.3 163.8 L673.2 165.1 L675.1 166.5 L678 168.2M674.2 80.6 L677 80.8 L679.9 79.9 L681.9 77.1 L680.9 74.3 L678 73.7 L674.2 75.8 L674.7 77.3 L674.2 80.6M676.1 96.1 L675.5 96.6 L676.1 98.5 L676.7 100.4 L675.1 104.7 L676.1 107.8 L679.9 107.8M661 124 L662.2 123.7 L661.8 124.6 L661 124M663.2 124.4 L663.9 124.6 L663.4 125 L663.2 124.4M666.1 123.7 L667.4 122.6 L667 124.2 L666.1 123.7M643.7 106.3 L644.8 106.3 L644.3 106.5 L643.7 106.3M638.1 105 L639.4 104.8 L638.9 105.2 L638.1 105M454.3 53.2 L459.2 51.9 L464 53.2 L461.1 55.1 L456.3 55.6 L454.3 53.2M467.8 63.1 L471.7 62.5 L476.5 60.3 L483.3 59.7 L477.5 61.6 L473.6 63.3 L467.8 63.1M502.5 76.5 L504.5 76.5 L507.4 80.8 L506.4 82.7 L504.5 79.9 L502.5 76.5M478.4 66.8 L483.3 65.9 L488.1 66.3 L483.3 67.2 L478.4 66.8M515.8 89.8 L519.9 87.5 L523.7 85.8 L527.6 87.3 L530.5 90.1 L525.7 90.1 L521.8 89.6 L518 89.8 L515.8 89.8M524.3 91.2 L525.7 92.9 L527 95.7 L526.1 99.1 L524.3 98.5 L524.1 95.7 L524.7 92.9 L524.3 91.2M530.5 91.1 L533.4 91.2 L537.2 92 L539.2 93.9 L536.3 93.7 L535.3 96.6 L533.8 96.3 L532.4 94.2 L530.5 91.1M532.4 99.1 L536.3 98 L541.1 97 L541.1 97.6 L536.3 99.4 L532.4 99.1M539.8 96.1 L543 95 L546.3 94.8 L546.3 95.7 L542.1 96.3 L539.8 96.1M-0.7 306.3 L18.5 307.3 L37.8 307.3 L51.3 307.3 L57.1 306.3 L62.9 304.9 L68.7 306 L74.5 306.7 L76.4 305.4 L86 303 L95.7 301.7 L101.5 299.6 L109.2 301.1 L114.9 302.6 L120.7 302.6 L130.4 303.4 L134.2 304.5 L138.1 306.3 L143.9 306.7 L149.7 304.5 L157.4 302.2 L165.1 300.8 L172.8 301.1 L178.6 300.8 L186.3 299.8 L192.1 299.3 L201.7 300.8 L211.4 300.4 L221 301.3 L230.6 301.7 L240.3 300.8 L249.9 300.2 L259.6 299.8 L269.2 301.1 L278.9 302.6 L288.5 304.5 L298.1 305.4 L307.8 307.3 L317.4 308.6 L327.1 310.1M575.8 309.1 L572.9 303.6 L573.9 299.8 L578.7 298 L583.5 296.1 L583.5 294.6 L581.6 294.8 L574.8 296.7 L570 298.9 L565.2 301.7 L564.2 304.5 L560.4 307.3 L554.6 311M620.2 277.5 L623.1 278 L624 278.9 L621.1 278.4 L620.2 277.5M131.9 268.1 L134.8 268.3 L134.6 269.4 L132.3 269.3 L131.9 268.1M102.2 153.3 L104.3 153.3 L103.4 153.9 L102.2 153.3M178 151.6 L178.6 154.4 L177.8 155.2 L178 151.6M105.9 215.8 L106.9 216.1 L106.3 216.7 L105.9 215.8M109.9 214.1 L110.7 214.5 L110.1 215 L109.9 214.1M82.6 198.2 L83.1 198.8 L82.7 199.2 L82.6 198.2M245.5 128.1 L246.7 126.8 L245.9 127.8 L245.5 128.1M280.8 93.9 L283.7 92.4 L286.2 92 L283.7 92.9 L280.8 93.9M287.5 91.4 L289.5 90.7 L288.5 91.4 L287.5 91.4M292.4 89.2 L294.3 87.7 L293.3 88.8 L292.4 89.2M298.1 84.5 L300.1 82.7 L299.1 84 L298.1 84.5M371.4 77.1 L368.5 77.4 L371.4 76.3 L371.4 77.1M357.9 79.9 L356 80.2 L357.9 79.3 L357.9 79.9M352.1 80.4 L350.2 80.6 L352.1 79.9 L352.1 80.4M342.5 80.2 L340.6 80.4 L342.5 79.7 L342.5 80.2M332.8 78.4 L331.9 78.2 L333.6 78 L332.8 78.4M319.3 73.9 L320.3 74.7 L319 73.7 L319.3 73.9M517.2 177.4 L518.3 177.5 L518 178.7 L517.2 177.4M604.7 289.6 L607.1 289.8 L605.9 290.1 L604.7 289.6M573.9 293.5 L577.7 292.7 L581.6 292.2 L577.7 293.3 L573.9 293.5M458.2 34.6 L464 34.8 L469.8 32.7 L465.9 31.8 L460.1 33.3 L458.2 34.6M491 31 L498.7 31.4 L502.5 29.9 L496.8 28.8 L491 29.7 L491 31M505.4 31.4 L510.3 31.6 L510.3 29.9 L505.4 30.3 L505.4 31.4M473.6 30.8 L481.3 31.2 L483.3 29.9 L475.5 29.5 L473.6 30.8M507.7 37.6 L513.1 37.6 L512.8 35.9 L508.3 35.9 L507.7 37.6M537.8 40.7 L543 41.1 L546.9 40.2 L543 39.1 L538.2 39.4 L537.8 40.7M544 51.4 L547.9 51.2 L547.5 50 L544.6 50 L544 51.4M532.4 60.1 L536.3 60.9 L537.8 59.7 L534.4 59.2 L532.4 60.1M538.4 61.6 L539.9 61.2 L539.6 60.3 L538.4 61.6M535.3 78 L538.2 78.4 L537.8 77.6 L535.3 78M539.2 72.2 L541.1 72.4 L541.7 71.1 L539.8 71.3 L539.2 72.2M494.8 32.2 L499.6 32.2 L498.7 31.6 L494.8 32.2M487.1 40.2 L491 40.4 L491 39.2 L487.1 40.2M488.1 32.9 L491.9 32.9 L492.5 31.8 L489 31.8 L488.1 32.9M473.6 32.5 L480.4 32.7 L481.3 31.4 L475.5 31.2 L473.6 32.5M462 35.9 L465.9 36.1 L465.9 35.1 L463 35.1 L462 35.9M491.5 37 L493.9 37 L493.9 36.1 L491.5 36.3 L491.5 37M547.9 50.4 L550.7 50.6 L550.7 49.7 L547.9 49.7 L547.9 50.4M539.8 48.2 L542.6 48.2 L542.1 47.3 L539.8 47.4 L539.8 48.2M544 58.6 L545.9 58.8 L545.9 58.1 L544 58.1 L544 58.6M561.7 64.4 L563.3 64.4 L563.1 63.7 L561.7 63.8 L561.7 64.4M567.5 62.4 L569.4 62.4 L569.1 61.6 L567.5 61.8 L567.5 62.4M494.8 70.2 L497.3 70.2 L497.3 68.7 L495.4 68.7 L494.8 70.2M555.6 53.4 L559.4 53.2 L559 52.3 L556.5 52.3 L555.6 53.4M555.2 56 L558.1 56 L558.1 55.3 L555.6 55.3 L555.2 56" fill="none" stroke="#0a0a0a" stroke-width="1.4" stroke-linejoin="round" stroke-linecap="round"/></defs>
<rect width="685" height="764" fill="#fff"/>
<g transform="translate(0,0)">
<g clip-path="url(#clip)">
<g shape-rendering="crispEdges"><rect x="568.1" y="83.6" width="9.8" height="9.5" fill="#F4CCD0"/><rect x="577.7" y="83.6" width="9.8" height="9.5" fill="#F2B8BE"/><rect x="587.4" y="83.6" width="9.8" height="9.5" fill="#F6E0E2"/><rect x="597" y="83.6" width="9.8" height="9.5" fill="#F6E0E2"/><rect x="606.7" y="83.6" width="9.8" height="9.5" fill="#F6E0E2"/><rect x="269.2" y="92.9" width="9.8" height="9.5" fill="#F6E0E2"/><rect x="278.9" y="92.9" width="9.8" height="9.5" fill="#F2B8BE"/><rect x="288.5" y="92.9" width="9.8" height="9.5" fill="#F2B8BE"/><rect x="298.1" y="92.9" width="9.8" height="9.5" fill="#F2B8BE"/><rect x="307.8" y="92.9" width="9.8" height="9.5" fill="#F4CCD0"/><rect x="317.4" y="92.9" width="9.8" height="9.5" fill="#F4CCD0"/><rect x="327.1" y="92.9" width="9.8" height="9.5" fill="#F4CCD0"/><rect x="548.8" y="92.9" width="9.8" height="9.5" fill="#F4CCD0"/><rect x="558.5" y="92.9" width="9.8" height="9.5" fill="#F0A4AC"/><rect x="568.1" y="92.9" width="9.8" height="9.5" fill="#EC5866"/><rect x="577.7" y="92.9" width="9.8" height="9.5" fill="#EC5866"/><rect x="587.4" y="92.9" width="9.8" height="9.5" fill="#EC5866"/><rect x="597" y="92.9" width="9.8" height="9.5" fill="#EC6C78"/><rect x="606.7" y="92.9" width="9.8" height="9.5" fill="#F0A4AC"/><rect x="616.3" y="92.9" width="9.8" height="9.5" fill="#F4CCD0"/><rect x="625.9" y="92.9" width="9.8" height="9.5" fill="#F6E0E2"/><rect x="240.3" y="102.2" width="9.8" height="9.5" fill="#F4CCD0"/><rect x="249.9" y="102.2" width="9.8" height="9.5" fill="#EC4C58"/><rect x="259.6" y="102.2" width="9.8" height="9.5" fill="#E04848"/><rect x="269.2" y="102.2" width="9.8" height="9.5" fill="#EC4C58"/><rect x="278.9" y="102.2" width="9.8" height="9.5" fill="#EC4C58"/><rect x="288.5" y="102.2" width="9.8" height="9.5" fill="#EC4C58"/><rect x="298.1" y="102.2" width="9.8" height="9.5" fill="#EC4C58"/><rect x="307.8" y="102.2" width="9.8" height="9.5" fill="#EC5866"/><rect x="317.4" y="102.2" width="9.8" height="9.5" fill="#EE7C86"/><rect x="327.1" y="102.2" width="9.8" height="9.5" fill="#F0A4AC"/><rect x="336.7" y="102.2" width="9.8" height="9.5" fill="#F2B8BE"/><rect x="346.3" y="102.2" width="9.8" height="9.5" fill="#F2B8BE"/><rect x="356" y="102.2" width="9.8" height="9.5" fill="#F4CCD0"/><rect x="365.6" y="102.2" width="9.8" height="9.5" fill="#F4CCD0"/><rect x="375.3" y="102.2" width="9.8" height="9.5" fill="#F4CCD0"/><rect x="384.9" y="102.2" width="9.8" height="9.5" fill="#F6E0E2"/><rect x="394.6" y="102.2" width="9.8" height="9.5" fill="#F6E0E2"/><rect x="539.2" y="102.2" width="9.8" height="9.5" fill="#F0A4AC"/><rect x="548.8" y="102.2" width="9.8" height="9.5" fill="#EC4C58"/><rect x="558.5" y="102.2" width="9.8" height="9.5" fill="#E04848"/><rect x="568.1" y="102.2" width="9.8" height="9.5" fill="#D84844"/><rect x="577.7" y="102.2" width="9.8" height="9.5" fill="#E04848"/><rect x="587.4" y="102.2" width="9.8" height="9.5" fill="#EC4C58"/><rect x="597" y="102.2" width="9.8" height="9.5" fill="#EC4C58"/><rect x="606.7" y="102.2" width="9.8" height="9.5" fill="#EE9098"/><rect x="616.3" y="102.2" width="9.8" height="9.5" fill="#F2B8BE"/><rect x="625.9" y="102.2" width="9.8" height="9.5" fill="#F6E0E2"/><rect x="221" y="111.6" width="9.8" height="9.5" fill="#F2B8BE"/><rect x="230.6" y="111.6" width="9.8" height="9.5" fill="#EC4C58"/><rect x="240.3" y="111.6" width="9.8" height="9.5" fill="#D0443C"/><rect x="249.9" y="111.6" width="9.8" height="9.5" fill="#E86830"/><rect x="259.6" y="111.6" width="9.8" height="9.5" fill="#F07830"/><rect x="269.2" y="111.6" width="9.8" height="9.5" fill="#F07830"/><rect x="278.9" y="111.6" width="9.8" height="9.5" fill="#E86830"/><rect x="288.5" y="111.6" width="9.8" height="9.5" fill="#E05A30"/><rect x="298.1" y="111.6" width="9.8" height="9.5" fill="#D84C30"/><rect x="307.8" y="111.6" width="9.8" height="9.5" fill="#D0443C"/><rect x="317.4" y="111.6" width="9.8" height="9.5" fill="#D84844"/><rect x="327.1" y="111.6" width="9.8" height="9.5" fill="#E04848"/><rect x="336.7" y="111.6" width="9.8" height="9.5" fill="#EC4C58"/><rect x="346.3" y="111.6" width="9.8" height="9.5" fill="#EC4C58"/><rect x="356" y="111.6" width="9.8" height="9.5" fill="#EC4C58"/><rect x="365.6" y="111.6" width="9.8" height="9.5" fill="#EC5866"/><rect x="375.3" y="111.6" width="9.8" height="9.5" fill="#EE7C86"/><rect x="384.9" y="111.6" width="9.8" height="9.5" fill="#EE9098"/><rect x="394.6" y="111.6" width="9.8" height="9.5" fill="#F2B8BE"/><rect x="404.2" y="111.6" width="9.8" height="9.5" fill="#F6E0E2"/><rect x="413.8" y="111.6" width="9.8" height="9.5" fill="#F6E0E2"/><rect x="423.5" y="111.6" width="9.8" height="9.5" fill="#F6E0E2"/><rect x="491" y="111.6" width="9.8" height="9.5" fill="#E4E4F2"/><rect x="500.6" y="111.6" width="9.8" height="9.5" fill="#8CA4D0"/><rect x="510.3" y="111.6" width="9.8" height="9.5" fill="#66C2D4"/><rect x="519.9" y="111.6" width="9.8" height="9.5" fill="#66C2D4"/><rect x="529.5" y="111.6" width="9.8" height="9.5" fill="#66C2D4"/><rect x="539.2" y="111.6" width="9.8" height="9.5" fill="#BCB8E0"/><rect x="548.8" y="111.6" width="9.8" height="9.5" fill="#F2B8BE"/><rect x="558.5" y="111.6" width="9.8" height="9.5" fill="#EC4C58"/><rect x="568.1" y="111.6" width="9.8" height="9.5" fill="#EC4C58"/><rect x="577.7" y="111.6" width="9.8" height="9.5" fill="#EC4C58"/><rect x="587.4" y="111.6" width="9.8" height="9.5" fill="#EC4C58"/><rect x="597" y="111.6" width="9.8" height="9.5" fill="#EC4C58"/><rect x="606.7" y="111.6" width="9.8" height="9.5" fill="#EE9098"/><rect x="616.3" y="111.6" width="9.8" height="9.5" fill="#F2B8BE"/><rect x="625.9" y="111.6" width="9.8" height="9.5" fill="#F6E0E2"/><rect x="201.7" y="120.9" width="9.8" height="9.5" fill="#E4E4F2"/><rect x="211.4" y="120.9" width="9.8" height="9.5" fill="#E4E4F2"/><rect x="221" y="120.9" width="9.8" height="9.5" fill="#EC5866"/><rect x="230.6" y="120.9" width="9.8" height="9.5" fill="#E86830"/><rect x="240.3" y="120.9" width="9.8" height="9.5" fill="#ECC434"/><rect x="249.9" y="120.9" width="9.8" height="9.5" fill="#E8FC44"/><rect x="259.6" y="120.9" width="9.8" height="9.5" fill="#E8FC44"/><rect x="269.2" y="120.9" width="9.8" height="9.5" fill="#E8FC44"/><rect x="278.9" y="120.9" width="9.8" height="9.5" fill="#E8FC44"/><rect x="288.5" y="120.9" width="9.8" height="9.5" fill="#E8FC44"/><rect x="298.1" y="120.9" width="9.8" height="9.5" fill="#E8FC44"/><rect x="307.8" y="120.9" width="9.8" height="9.5" fill="#ECDC3C"/><rect x="317.4" y="120.9" width="9.8" height="9.5" fill="#ECD038"/><rect x="327.1" y="120.9" width="9.8" height="9.5" fill="#EEBC34"/><rect x="336.7" y="120.9" width="9.8" height="9.5" fill="#F0A030"/><rect x="346.3" y="120.9" width="9.8" height="9.5" fill="#F07830"/><rect x="356" y="120.9" width="9.8" height="9.5" fill="#D0443C"/><rect x="365.6" y="120.9" width="9.8" height="9.5" fill="#E04848"/><rect x="375.3" y="120.9" width="9.8" height="9.5" fill="#EC4C58"/><rect x="384.9" y="120.9" width="9.8" height="9.5" fill="#EC4C58"/><rect x="394.6" y="120.9" width="9.8" height="9.5" fill="#EC4C58"/><rect x="404.2" y="120.9" width="9.8" height="9.5" fill="#EC5866"/><rect x="413.8" y="120.9" width="9.8" height="9.5" fill="#EC5866"/><rect x="423.5" y="120.9" width="9.8" height="9.5" fill="#EC5866"/><rect x="433.1" y="120.9" width="9.8" height="9.5" fill="#EC5866"/><rect x="442.8" y="120.9" width="9.8" height="9.5" fill="#EC6C78"/><rect x="452.4" y="120.9" width="9.8" height="9.5" fill="#EC6C78"/><rect x="462" y="120.9" width="9.8" height="9.5" fill="#EC5866"/><rect x="471.7" y="120.9" width="9.8" height="9.5" fill="#F4CCD0"/><rect x="481.3" y="120.9" width="9.8" height="9.5" fill="#F6E0E2"/><rect x="491" y="120.9" width="9.8" height="9.5" fill="#A8A4D4"/><rect x="500.6" y="120.9" width="9.8" height="9.5" fill="#3F7FBE"/><rect x="510.3" y="120.9" width="9.8" height="9.5" fill="#3A6AB8"/><rect x="519.9" y="120.9" width="9.8" height="9.5" fill="#3A6AB8"/><rect x="529.5" y="120.9" width="9.8" height="9.5" fill="#3A6AB8"/><rect x="539.2" y="120.9" width="9.8" height="9.5" fill="#3A6AB8"/><rect x="548.8" y="120.9" width="9.8" height="9.5" fill="#2F50AE"/><rect x="558.5" y="120.9" width="9.8" height="9.5" fill="#3A6AB8"/><rect x="568.1" y="120.9" width="9.8" height="9.5" fill="#4A95C4"/><rect x="577.7" y="120.9" width="9.8" height="9.5" fill="#66C2D4"/><rect x="587.4" y="120.9" width="9.8" height="9.5" fill="#66C2D4"/><rect x="597" y="120.9" width="9.8" height="9.5" fill="#A8A4D4"/><rect x="114.9" y="130.2" width="9.8" height="9.5" fill="#CCCAE6"/><rect x="124.6" y="130.2" width="9.8" height="9.5" fill="#BCB8E0"/><rect x="153.5" y="130.2" width="9.8" height="9.5" fill="#9C98D0"/><rect x="163.2" y="130.2" width="9.8" height="9.5" fill="#55A8C8"/><rect x="172.8" y="130.2" width="9.8" height="9.5" fill="#55A8C8"/><rect x="182.4" y="130.2" width="9.8" height="9.5" fill="#CCCAE6"/><rect x="201.7" y="130.2" width="9.8" height="9.5" fill="#55A8C8"/><rect x="211.4" y="130.2" width="9.8" height="9.5" fill="#55A8C8"/><rect x="221" y="130.2" width="9.8" height="9.5" fill="#66C2D4"/><rect x="230.6" y="130.2" width="9.8" height="9.5" fill="#F4CCD0"/><rect x="240.3" y="130.2" width="9.8" height="9.5" fill="#E04848"/><rect x="249.9" y="130.2" width="9.8" height="9.5" fill="#D0443C"/><rect x="259.6" y="130.2" width="9.8" height="9.5" fill="#E05A30"/><rect x="269.2" y="130.2" width="9.8" height="9.5" fill="#F0A030"/><rect x="278.9" y="130.2" width="9.8" height="9.5" fill="#E8FC44"/><rect x="288.5" y="130.2" width="9.8" height="9.5" fill="#E8FC44"/><rect x="298.1" y="130.2" width="9.8" height="9.5" fill="#E8FC44"/><rect x="307.8" y="130.2" width="9.8" height="9.5" fill="#E8FC44"/><rect x="317.4" y="130.2" width="9.8" height="9.5" fill="#E8FC44"/><rect x="327.1" y="130.2" width="9.8" height="9.5" fill="#E8FC44"/><rect x="336.7" y="130.2" width="9.8" height="9.5" fill="#E8FC44"/><rect x="346.3" y="130.2" width="9.8" height="9.5" fill="#ECE840"/><rect x="356" y="130.2" width="9.8" height="9.5" fill="#F0A030"/><rect x="365.6" y="130.2" width="9.8" height="9.5" fill="#F08830"/><rect x="375.3" y="130.2" width="9.8" height="9.5" fill="#D84C30"/><rect x="384.9" y="130.2" width="9.8" height="9.5" fill="#D0443C"/><rect x="394.6" y="130.2" width="9.8" height="9.5" fill="#D0443C"/><rect x="404.2" y="130.2" width="9.8" height="9.5" fill="#D84C30"/><rect x="413.8" y="130.2" width="9.8" height="9.5" fill="#D84C30"/><rect x="423.5" y="130.2" width="9.8" height="9.5" fill="#D84C30"/><rect x="433.1" y="130.2" width="9.8" height="9.5" fill="#D0443C"/><rect x="442.8" y="130.2" width="9.8" height="9.5" fill="#D0443C"/><rect x="452.4" y="130.2" width="9.8" height="9.5" fill="#D84844"/><rect x="462" y="130.2" width="9.8" height="9.5" fill="#EC4C58"/><rect x="471.7" y="130.2" width="9.8" height="9.5" fill="#BCB8E0"/><rect x="481.3" y="130.2" width="9.8" height="9.5" fill="#66C2D4"/><rect x="491" y="130.2" width="9.8" height="9.5" fill="#66C2D4"/><rect x="500.6" y="130.2" width="9.8" height="9.5" fill="#55A8C8"/><rect x="510.3" y="130.2" width="9.8" height="9.5" fill="#3A6AB8"/><rect x="519.9" y="130.2" width="9.8" height="9.5" fill="#2B3AB0"/><rect x="529.5" y="130.2" width="9.8" height="9.5" fill="#2B3AB0"/><rect x="539.2" y="130.2" width="9.8" height="9.5" fill="#1F189A"/><rect x="548.8" y="130.2" width="9.8" height="9.5" fill="#1F4432"/><rect x="558.5" y="130.2" width="9.8" height="9.5" fill="#36782E"/><rect x="568.1" y="130.2" width="9.8" height="9.5" fill="#27581F"/><rect x="577.7" y="130.2" width="9.8" height="9.5" fill="#1B2672"/><rect x="587.4" y="130.2" width="9.8" height="9.5" fill="#2F50AE"/><rect x="597" y="130.2" width="9.8" height="9.5" fill="#4A95C4"/><rect x="606.7" y="130.2" width="9.8" height="9.5" fill="#66C2D4"/><rect x="616.3" y="130.2" width="9.8" height="9.5" fill="#BCB8E0"/><rect x="95.7" y="139.5" width="9.8" height="9.5" fill="#E4E4F2"/><rect x="105.3" y="139.5" width="9.8" height="9.5" fill="#A8A4D4"/><rect x="114.9" y="139.5" width="9.8" height="9.5" fill="#66C2D4"/><rect x="124.6" y="139.5" width="9.8" height="9.5" fill="#8CA4D0"/><rect x="143.9" y="139.5" width="9.8" height="9.5" fill="#E4E4F2"/><rect x="153.5" y="139.5" width="9.8" height="9.5" fill="#66C2D4"/><rect x="163.2" y="139.5" width="9.8" height="9.5" fill="#3F7FBE"/><rect x="172.8" y="139.5" width="9.8" height="9.5" fill="#4A95C4"/><rect x="182.4" y="139.5" width="9.8" height="9.5" fill="#A8A4D4"/><rect x="192.1" y="139.5" width="9.8" height="9.5" fill="#E4E4F2"/><rect x="201.7" y="139.5" width="9.8" height="9.5" fill="#3F7FBE"/><rect x="211.4" y="139.5" width="9.8" height="9.5" fill="#1F189A"/><rect x="221" y="139.5" width="9.8" height="9.5" fill="#1B2672"/><rect x="230.6" y="139.5" width="9.8" height="9.5" fill="#4FA240"/><rect x="240.3" y="139.5" width="9.8" height="9.5" fill="#B5EA4D"/><rect x="249.9" y="139.5" width="9.8" height="9.5" fill="#B5EA4D"/><rect x="259.6" y="139.5" width="9.8" height="9.5" fill="#B5EA4D"/><rect x="269.2" y="139.5" width="9.8" height="9.5" fill="#1B2672"/><rect x="278.9" y="139.5" width="9.8" height="9.5" fill="#EC5866"/><rect x="288.5" y="139.5" width="9.8" height="9.5" fill="#EE9430"/><rect x="298.1" y="139.5" width="9.8" height="9.5" fill="#ECC434"/><rect x="307.8" y="139.5" width="9.8" height="9.5" fill="#ECC434"/><rect x="317.4" y="139.5" width="9.8" height="9.5" fill="#ECC434"/><rect x="327.1" y="139.5" width="9.8" height="9.5" fill="#EEBC34"/><rect x="336.7" y="139.5" width="9.8" height="9.5" fill="#EEBC34"/><rect x="346.3" y="139.5" width="9.8" height="9.5" fill="#F0A030"/><rect x="356" y="139.5" width="9.8" height="9.5" fill="#F08830"/><rect x="365.6" y="139.5" width="9.8" height="9.5" fill="#F07830"/><rect x="375.3" y="139.5" width="9.8" height="9.5" fill="#D84C30"/><rect x="384.9" y="139.5" width="9.8" height="9.5" fill="#D84C30"/><rect x="394.6" y="139.5" width="9.8" height="9.5" fill="#E05A30"/><rect x="404.2" y="139.5" width="9.8" height="9.5" fill="#F07830"/><rect x="413.8" y="139.5" width="9.8" height="9.5" fill="#F08830"/><rect x="423.5" y="139.5" width="9.8" height="9.5" fill="#F07830"/><rect x="433.1" y="139.5" width="9.8" height="9.5" fill="#F07830"/><rect x="442.8" y="139.5" width="9.8" height="9.5" fill="#E86830"/><rect x="452.4" y="139.5" width="9.8" height="9.5" fill="#D84844"/><rect x="462" y="139.5" width="9.8" height="9.5" fill="#EE9098"/><rect x="471.7" y="139.5" width="9.8" height="9.5" fill="#3A6AB8"/><rect x="481.3" y="139.5" width="9.8" height="9.5" fill="#2F50AE"/><rect x="491" y="139.5" width="9.8" height="9.5" fill="#4A95C4"/><rect x="500.6" y="139.5" width="9.8" height="9.5" fill="#66C2D4"/><rect x="510.3" y="139.5" width="9.8" height="9.5" fill="#66C2D4"/><rect x="519.9" y="139.5" width="9.8" height="9.5" fill="#3F7FBE"/><rect x="529.5" y="139.5" width="9.8" height="9.5" fill="#3A6AB8"/><rect x="539.2" y="139.5" width="9.8" height="9.5" fill="#2F50AE"/><rect x="548.8" y="139.5" width="9.8" height="9.5" fill="#1F189A"/><rect x="558.5" y="139.5" width="9.8" height="9.5" fill="#1B2672"/><rect x="568.1" y="139.5" width="9.8" height="9.5" fill="#1F4432"/><rect x="577.7" y="139.5" width="9.8" height="9.5" fill="#1B2672"/><rect x="587.4" y="139.5" width="9.8" height="9.5" fill="#2B3AB0"/><rect x="597" y="139.5" width="9.8" height="9.5" fill="#3F7FBE"/><rect x="606.7" y="139.5" width="9.8" height="9.5" fill="#66C2D4"/><rect x="616.3" y="139.5" width="9.8" height="9.5" fill="#A8A4D4"/><rect x="625.9" y="139.5" width="9.8" height="9.5" fill="#E4E4F2"/><rect x="86" y="148.8" width="9.8" height="9.5" fill="#E4E4F2"/><rect x="95.7" y="148.8" width="9.8" height="9.5" fill="#A8A4D4"/><rect x="105.3" y="148.8" width="9.8" height="9.5" fill="#66C2D4"/><rect x="114.9" y="148.8" width="9.8" height="9.5" fill="#66C2D4"/><rect x="124.6" y="148.8" width="9.8" height="9.5" fill="#8CA4D0"/><rect x="134.2" y="148.8" width="9.8" height="9.5" fill="#CCCAE6"/><rect x="143.9" y="148.8" width="9.8" height="9.5" fill="#BCB8E0"/><rect x="153.5" y="148.8" width="9.8" height="9.5" fill="#66C2D4"/><rect x="163.2" y="148.8" width="9.8" height="9.5" fill="#55A8C8"/><rect x="172.8" y="148.8" width="9.8" height="9.5" fill="#66C2D4"/><rect x="182.4" y="148.8" width="9.8" height="9.5" fill="#A8A4D4"/><rect x="192.1" y="148.8" width="9.8" height="9.5" fill="#E4E4F2"/><rect x="201.7" y="148.8" width="9.8" height="9.5" fill="#4A95C4"/><rect x="211.4" y="148.8" width="9.8" height="9.5" fill="#2B3AB0"/><rect x="221" y="148.8" width="9.8" height="9.5" fill="#2B3AB0"/><rect x="230.6" y="148.8" width="9.8" height="9.5" fill="#3F8B3A"/><rect x="240.3" y="148.8" width="9.8" height="9.5" fill="#B5EA4D"/><rect x="249.9" y="148.8" width="9.8" height="9.5" fill="#B5EA4D"/><rect x="259.6" y="148.8" width="9.8" height="9.5" fill="#B5EA4D"/><rect x="269.2" y="148.8" width="9.8" height="9.5" fill="#B5EA4D"/><rect x="278.9" y="148.8" width="9.8" height="9.5" fill="#1B3350"/><rect x="288.5" y="148.8" width="9.8" height="9.5" fill="#3F7FBE"/><rect x="307.8" y="148.8" width="9.8" height="9.5" fill="#EC4C58"/><rect x="317.4" y="148.8" width="9.8" height="9.5" fill="#D84844"/><rect x="327.1" y="148.8" width="9.8" height="9.5" fill="#D0443C"/><rect x="336.7" y="148.8" width="9.8" height="9.5" fill="#D0443C"/><rect x="346.3" y="148.8" width="9.8" height="9.5" fill="#D84844"/><rect x="356" y="148.8" width="9.8" height="9.5" fill="#E04848"/><rect x="365.6" y="148.8" width="9.8" height="9.5" fill="#EC4C58"/><rect x="375.3" y="148.8" width="9.8" height="9.5" fill="#EC4C58"/><rect x="384.9" y="148.8" width="9.8" height="9.5" fill="#EC4C58"/><rect x="394.6" y="148.8" width="9.8" height="9.5" fill="#E04848"/><rect x="404.2" y="148.8" width="9.8" height="9.5" fill="#D84844"/><rect x="413.8" y="148.8" width="9.8" height="9.5" fill="#D84844"/><rect x="423.5" y="148.8" width="9.8" height="9.5" fill="#D84844"/><rect x="433.1" y="148.8" width="9.8" height="9.5" fill="#D84844"/><rect x="442.8" y="148.8" width="9.8" height="9.5" fill="#D84844"/><rect x="452.4" y="148.8" width="9.8" height="9.5" fill="#EC4C58"/><rect x="462" y="148.8" width="9.8" height="9.5" fill="#A8A4D4"/><rect x="471.7" y="148.8" width="9.8" height="9.5" fill="#3F7FBE"/><rect x="481.3" y="148.8" width="9.8" height="9.5" fill="#3F7FBE"/><rect x="491" y="148.8" width="9.8" height="9.5" fill="#66C2D4"/><rect x="500.6" y="148.8" width="9.8" height="9.5" fill="#A8A4D4"/><rect x="510.3" y="148.8" width="9.8" height="9.5" fill="#CCCAE6"/><rect x="519.9" y="148.8" width="9.8" height="9.5" fill="#BCB8E0"/><rect x="529.5" y="148.8" width="9.8" height="9.5" fill="#8CA4D0"/><rect x="539.2" y="148.8" width="9.8" height="9.5" fill="#55A8C8"/><rect x="548.8" y="148.8" width="9.8" height="9.5" fill="#66C2D4"/><rect x="558.5" y="148.8" width="9.8" height="9.5" fill="#66C2D4"/><rect x="568.1" y="148.8" width="9.8" height="9.5" fill="#55A8C8"/><rect x="577.7" y="148.8" width="9.8" height="9.5" fill="#4A95C4"/><rect x="587.4" y="148.8" width="9.8" height="9.5" fill="#4A95C4"/><rect x="597" y="148.8" width="9.8" height="9.5" fill="#66C2D4"/><rect x="606.7" y="148.8" width="9.8" height="9.5" fill="#7CB4D2"/><rect x="616.3" y="148.8" width="9.8" height="9.5" fill="#A8A4D4"/><rect x="95.7" y="158.2" width="9.8" height="9.5" fill="#E4E4F2"/><rect x="105.3" y="158.2" width="9.8" height="9.5" fill="#9C98D0"/><rect x="114.9" y="158.2" width="9.8" height="9.5" fill="#9C98D0"/><rect x="124.6" y="158.2" width="9.8" height="9.5" fill="#BCB8E0"/><rect x="134.2" y="158.2" width="9.8" height="9.5" fill="#CCCAE6"/><rect x="143.9" y="158.2" width="9.8" height="9.5" fill="#CCCAE6"/><rect x="153.5" y="158.2" width="9.8" height="9.5" fill="#BCB8E0"/><rect x="163.2" y="158.2" width="9.8" height="9.5" fill="#CCCAE6"/><rect x="172.8" y="158.2" width="9.8" height="9.5" fill="#BCB8E0"/><rect x="182.4" y="158.2" width="9.8" height="9.5" fill="#E4E4F2"/><rect x="192.1" y="158.2" width="9.8" height="9.5" fill="#E4E4F2"/><rect x="201.7" y="158.2" width="9.8" height="9.5" fill="#9C98D0"/><rect x="211.4" y="158.2" width="9.8" height="9.5" fill="#66C2D4"/><rect x="221" y="158.2" width="9.8" height="9.5" fill="#66C2D4"/><rect x="230.6" y="158.2" width="9.8" height="9.5" fill="#3F7FBE"/><rect x="240.3" y="158.2" width="9.8" height="9.5" fill="#1F189A"/><rect x="249.9" y="158.2" width="9.8" height="9.5" fill="#1F4432"/><rect x="259.6" y="158.2" width="9.8" height="9.5" fill="#1B3350"/><rect x="269.2" y="158.2" width="9.8" height="9.5" fill="#1F189A"/><rect x="278.9" y="158.2" width="9.8" height="9.5" fill="#2F50AE"/><rect x="288.5" y="158.2" width="9.8" height="9.5" fill="#3F7FBE"/><rect x="298.1" y="158.2" width="9.8" height="9.5" fill="#4A95C4"/><rect x="307.8" y="158.2" width="9.8" height="9.5" fill="#66C2D4"/><rect x="317.4" y="158.2" width="9.8" height="9.5" fill="#CCCAE6"/><rect x="336.7" y="158.2" width="9.8" height="9.5" fill="#F6E0E2"/><rect x="346.3" y="158.2" width="9.8" height="9.5" fill="#F6E0E2"/><rect x="356" y="158.2" width="9.8" height="9.5" fill="#F4CCD0"/><rect x="365.6" y="158.2" width="9.8" height="9.5" fill="#F4CCD0"/><rect x="375.3" y="158.2" width="9.8" height="9.5" fill="#F4CCD0"/><rect x="384.9" y="158.2" width="9.8" height="9.5" fill="#F4CCD0"/><rect x="394.6" y="158.2" width="9.8" height="9.5" fill="#F4CCD0"/><rect x="404.2" y="158.2" width="9.8" height="9.5" fill="#F2B8BE"/><rect x="413.8" y="158.2" width="9.8" height="9.5" fill="#F2B8BE"/><rect x="423.5" y="158.2" width="9.8" height="9.5" fill="#F2B8BE"/><rect x="433.1" y="158.2" width="9.8" height="9.5" fill="#F2B8BE"/><rect x="442.8" y="158.2" width="9.8" height="9.5" fill="#F2B8BE"/><rect x="452.4" y="158.2" width="9.8" height="9.5" fill="#F6E0E2"/><rect x="462" y="158.2" width="9.8" height="9.5" fill="#E4E4F2"/><rect x="471.7" y="158.2" width="9.8" height="9.5" fill="#8CA4D0"/><rect x="481.3" y="158.2" width="9.8" height="9.5" fill="#8CA4D0"/><rect x="491" y="158.2" width="9.8" height="9.5" fill="#A8A4D4"/><rect x="500.6" y="158.2" width="9.8" height="9.5" fill="#E4E4F2"/><rect x="558.5" y="158.2" width="9.8" height="9.5" fill="#E4E4F2"/><rect x="568.1" y="158.2" width="9.8" height="9.5" fill="#CCCAE6"/><rect x="577.7" y="158.2" width="9.8" height="9.5" fill="#BCB8E0"/><rect x="587.4" y="158.2" width="9.8" height="9.5" fill="#BCB8E0"/><rect x="597" y="158.2" width="9.8" height="9.5" fill="#CCCAE6"/><rect x="606.7" y="158.2" width="9.8" height="9.5" fill="#E4E4F2"/><rect x="143.9" y="167.5" width="9.8" height="9.5" fill="#E4E4F2"/><rect x="240.3" y="167.5" width="9.8" height="9.5" fill="#E4E4F2"/><rect x="249.9" y="167.5" width="9.8" height="9.5" fill="#BCB8E0"/><rect x="259.6" y="167.5" width="9.8" height="9.5" fill="#BCB8E0"/><rect x="269.2" y="167.5" width="9.8" height="9.5" fill="#BCB8E0"/><rect x="278.9" y="167.5" width="9.8" height="9.5" fill="#BCB8E0"/><rect x="288.5" y="167.5" width="9.8" height="9.5" fill="#BCB8E0"/><rect x="298.1" y="167.5" width="9.8" height="9.5" fill="#CCCAE6"/><rect x="307.8" y="167.5" width="9.8" height="9.5" fill="#CCCAE6"/><rect x="317.4" y="167.5" width="9.8" height="9.5" fill="#E4E4F2"/><rect x="327.1" y="167.5" width="9.8" height="9.5" fill="#E4E4F2"/><rect x="124.6" y="176.8" width="9.8" height="9.5" fill="#E4E4F2"/><rect x="134.2" y="176.8" width="9.8" height="9.5" fill="#E4E4F2"/><rect x="143.9" y="176.8" width="9.8" height="9.5" fill="#E4E4F2"/><rect x="153.5" y="176.8" width="9.8" height="9.5" fill="#E4E4F2"/><rect x="307.8" y="176.8" width="9.8" height="9.5" fill="#E4E4F2"/><rect x="76.4" y="186.1" width="9.8" height="9.5" fill="#BCB8E0"/><rect x="86" y="186.1" width="9.8" height="9.5" fill="#8CA4D0"/><rect x="95.7" y="186.1" width="9.8" height="9.5" fill="#66C2D4"/><rect x="105.3" y="186.1" width="9.8" height="9.5" fill="#66C2D4"/><rect x="114.9" y="186.1" width="9.8" height="9.5" fill="#55A8C8"/><rect x="124.6" y="186.1" width="9.8" height="9.5" fill="#55A8C8"/><rect x="134.2" y="186.1" width="9.8" height="9.5" fill="#4A95C4"/><rect x="143.9" y="186.1" width="9.8" height="9.5" fill="#55A8C8"/><rect x="153.5" y="186.1" width="9.8" height="9.5" fill="#66C2D4"/><rect x="163.2" y="186.1" width="9.8" height="9.5" fill="#7CB4D2"/><rect x="172.8" y="186.1" width="9.8" height="9.5" fill="#9C98D0"/><rect x="182.4" y="186.1" width="9.8" height="9.5" fill="#9C98D0"/><rect x="192.1" y="186.1" width="9.8" height="9.5" fill="#8CA4D0"/><rect x="201.7" y="186.1" width="9.8" height="9.5" fill="#55A8C8"/><rect x="211.4" y="186.1" width="9.8" height="9.5" fill="#66C2D4"/><rect x="221" y="186.1" width="9.8" height="9.5" fill="#66C2D4"/><rect x="230.6" y="186.1" width="9.8" height="9.5" fill="#9C98D0"/><rect x="240.3" y="186.1" width="9.8" height="9.5" fill="#CCCAE6"/><rect x="259.6" y="186.1" width="9.8" height="9.5" fill="#CCCAE6"/><rect x="269.2" y="186.1" width="9.8" height="9.5" fill="#CCCAE6"/><rect x="278.9" y="186.1" width="9.8" height="9.5" fill="#CCCAE6"/><rect x="288.5" y="186.1" width="9.8" height="9.5" fill="#A8A4D4"/><rect x="298.1" y="186.1" width="9.8" height="9.5" fill="#8CA4D0"/><rect x="307.8" y="186.1" width="9.8" height="9.5" fill="#55A8C8"/><rect x="317.4" y="186.1" width="9.8" height="9.5" fill="#66C2D4"/><rect x="327.1" y="186.1" width="9.8" height="9.5" fill="#66C2D4"/><rect x="336.7" y="186.1" width="9.8" height="9.5" fill="#66C2D4"/><rect x="346.3" y="186.1" width="9.8" height="9.5" fill="#9C98D0"/><rect x="356" y="186.1" width="9.8" height="9.5" fill="#A8A4D4"/><rect x="365.6" y="186.1" width="9.8" height="9.5" fill="#E4E4F2"/><rect x="616.3" y="186.1" width="9.8" height="9.5" fill="#E4E4F2"/><rect x="625.9" y="186.1" width="9.8" height="9.5" fill="#E4E4F2"/><rect x="66.7" y="195.4" width="9.8" height="9.5" fill="#BCB8E0"/><rect x="76.4" y="195.4" width="9.8" height="9.5" fill="#55A8C8"/><rect x="86" y="195.4" width="9.8" height="9.5" fill="#66C2D4"/><rect x="95.7" y="195.4" width="9.8" height="9.5" fill="#3A6AB8"/><rect x="105.3" y="195.4" width="9.8" height="9.5" fill="#1F189A"/><rect x="114.9" y="195.4" width="9.8" height="9.5" fill="#1B3350"/><rect x="124.6" y="195.4" width="9.8" height="9.5" fill="#1B2672"/><rect x="134.2" y="195.4" width="9.8" height="9.5" fill="#1F189A"/><rect x="143.9" y="195.4" width="9.8" height="9.5" fill="#2B3AB0"/><rect x="153.5" y="195.4" width="9.8" height="9.5" fill="#3A6AB8"/><rect x="163.2" y="195.4" width="9.8" height="9.5" fill="#4A95C4"/><rect x="172.8" y="195.4" width="9.8" height="9.5" fill="#55A8C8"/><rect x="182.4" y="195.4" width="9.8" height="9.5" fill="#55A8C8"/><rect x="192.1" y="195.4" width="9.8" height="9.5" fill="#55A8C8"/><rect x="201.7" y="195.4" width="9.8" height="9.5" fill="#4A95C4"/><rect x="211.4" y="195.4" width="9.8" height="9.5" fill="#3F7FBE"/><rect x="221" y="195.4" width="9.8" height="9.5" fill="#3F7FBE"/><rect x="230.6" y="195.4" width="9.8" height="9.5" fill="#66C2D4"/><rect x="240.3" y="195.4" width="9.8" height="9.5" fill="#A8A4D4"/><rect x="249.9" y="195.4" width="9.8" height="9.5" fill="#BCB8E0"/><rect x="259.6" y="195.4" width="9.8" height="9.5" fill="#BCB8E0"/><rect x="269.2" y="195.4" width="9.8" height="9.5" fill="#BCB8E0"/><rect x="278.9" y="195.4" width="9.8" height="9.5" fill="#70C4D4"/><rect x="288.5" y="195.4" width="9.8" height="9.5" fill="#66C2D4"/><rect x="298.1" y="195.4" width="9.8" height="9.5" fill="#55A8C8"/><rect x="307.8" y="195.4" width="9.8" height="9.5" fill="#3F7FBE"/><rect x="317.4" y="195.4" width="9.8" height="9.5" fill="#3F7FBE"/><rect x="327.1" y="195.4" width="9.8" height="9.5" fill="#3F7FBE"/><rect x="336.7" y="195.4" width="9.8" height="9.5" fill="#3A6AB8"/><rect x="346.3" y="195.4" width="9.8" height="9.5" fill="#3A6AB8"/><rect x="356" y="195.4" width="9.8" height="9.5" fill="#55A8C8"/><rect x="365.6" y="195.4" width="9.8" height="9.5" fill="#66C2D4"/><rect x="375.3" y="195.4" width="9.8" height="9.5" fill="#9C98D0"/><rect x="384.9" y="195.4" width="9.8" height="9.5" fill="#BCB8E0"/><rect x="394.6" y="195.4" width="9.8" height="9.5" fill="#CCCAE6"/><rect x="404.2" y="195.4" width="9.8" height="9.5" fill="#CCCAE6"/><rect x="413.8" y="195.4" width="9.8" height="9.5" fill="#E4E4F2"/><rect x="606.7" y="195.4" width="9.8" height="9.5" fill="#E4E4F2"/><rect x="616.3" y="195.4" width="9.8" height="9.5" fill="#CCCAE6"/><rect x="625.9" y="195.4" width="9.8" height="9.5" fill="#BCB8E0"/><rect x="635.6" y="195.4" width="9.8" height="9.5" fill="#CCCAE6"/><rect x="645.2" y="195.4" width="9.8" height="9.5" fill="#E4E4F2"/><rect x="76.4" y="204.8" width="9.8" height="9.5" fill="#CCCAE6"/><rect x="86" y="204.8" width="9.8" height="9.5" fill="#66C2D4"/><rect x="95.7" y="204.8" width="9.8" height="9.5" fill="#3F7FBE"/><rect x="105.3" y="204.8" width="9.8" height="9.5" fill="#1F189A"/><rect x="114.9" y="204.8" width="9.8" height="9.5" fill="#1F4432"/><rect x="124.6" y="204.8" width="9.8" height="9.5" fill="#1B3350"/><rect x="134.2" y="204.8" width="9.8" height="9.5" fill="#1F189A"/><rect x="143.9" y="204.8" width="9.8" height="9.5" fill="#2F50AE"/><rect x="153.5" y="204.8" width="9.8" height="9.5" fill="#3F7FBE"/><rect x="163.2" y="204.8" width="9.8" height="9.5" fill="#55A8C8"/><rect x="172.8" y="204.8" width="9.8" height="9.5" fill="#55A8C8"/><rect x="182.4" y="204.8" width="9.8" height="9.5" fill="#55A8C8"/><rect x="192.1" y="204.8" width="9.8" height="9.5" fill="#55A8C8"/><rect x="201.7" y="204.8" width="9.8" height="9.5" fill="#4A95C4"/><rect x="211.4" y="204.8" width="9.8" height="9.5" fill="#4A95C4"/><rect x="221" y="204.8" width="9.8" height="9.5" fill="#55A8C8"/><rect x="230.6" y="204.8" width="9.8" height="9.5" fill="#9C98D0"/><rect x="240.3" y="204.8" width="9.8" height="9.5" fill="#CCCAE6"/><rect x="259.6" y="204.8" width="9.8" height="9.5" fill="#E4E4F2"/><rect x="269.2" y="204.8" width="9.8" height="9.5" fill="#CCCAE6"/><rect x="278.9" y="204.8" width="9.8" height="9.5" fill="#70C4D4"/><rect x="288.5" y="204.8" width="9.8" height="9.5" fill="#66C2D4"/><rect x="298.1" y="204.8" width="9.8" height="9.5" fill="#3F7FBE"/><rect x="307.8" y="204.8" width="9.8" height="9.5" fill="#3A6AB8"/><rect x="317.4" y="204.8" width="9.8" height="9.5" fill="#3F7FBE"/><rect x="327.1" y="204.8" width="9.8" height="9.5" fill="#3F7FBE"/><rect x="336.7" y="204.8" width="9.8" height="9.5" fill="#2B3AB0"/><rect x="346.3" y="204.8" width="9.8" height="9.5" fill="#2F50AE"/><rect x="356" y="204.8" width="9.8" height="9.5" fill="#4A95C4"/><rect x="365.6" y="204.8" width="9.8" height="9.5" fill="#66C2D4"/><rect x="375.3" y="204.8" width="9.8" height="9.5" fill="#66C2D4"/><rect x="384.9" y="204.8" width="9.8" height="9.5" fill="#66C2D4"/><rect x="394.6" y="204.8" width="9.8" height="9.5" fill="#8CA4D0"/><rect x="404.2" y="204.8" width="9.8" height="9.5" fill="#A8A4D4"/><rect x="413.8" y="204.8" width="9.8" height="9.5" fill="#CCCAE6"/><rect x="423.5" y="204.8" width="9.8" height="9.5" fill="#E4E4F2"/><rect x="616.3" y="204.8" width="9.8" height="9.5" fill="#CCCAE6"/><rect x="625.9" y="204.8" width="9.8" height="9.5" fill="#BCB8E0"/><rect x="635.6" y="204.8" width="9.8" height="9.5" fill="#CCCAE6"/><rect x="645.2" y="204.8" width="9.8" height="9.5" fill="#E4E4F2"/><rect x="57.1" y="214.1" width="9.8" height="9.5" fill="#F4CCD0"/><rect x="66.7" y="214.1" width="9.8" height="9.5" fill="#EC6C78"/><rect x="76.4" y="214.1" width="9.8" height="9.5" fill="#EE9098"/><rect x="86" y="214.1" width="9.8" height="9.5" fill="#F4CCD0"/><rect x="95.7" y="214.1" width="9.8" height="9.5" fill="#E4E4F2"/><rect x="105.3" y="214.1" width="9.8" height="9.5" fill="#66C2D4"/><rect x="114.9" y="214.1" width="9.8" height="9.5" fill="#3F7FBE"/><rect x="124.6" y="214.1" width="9.8" height="9.5" fill="#4A95C4"/><rect x="134.2" y="214.1" width="9.8" height="9.5" fill="#55A8C8"/><rect x="143.9" y="214.1" width="9.8" height="9.5" fill="#66C2D4"/><rect x="153.5" y="214.1" width="9.8" height="9.5" fill="#66C2D4"/><rect x="163.2" y="214.1" width="9.8" height="9.5" fill="#7CB4D2"/><rect x="172.8" y="214.1" width="9.8" height="9.5" fill="#8CA4D0"/><rect x="182.4" y="214.1" width="9.8" height="9.5" fill="#9C98D0"/><rect x="192.1" y="214.1" width="9.8" height="9.5" fill="#A8A4D4"/><rect x="201.7" y="214.1" width="9.8" height="9.5" fill="#A8A4D4"/><rect x="211.4" y="214.1" width="9.8" height="9.5" fill="#A8A4D4"/><rect x="221" y="214.1" width="9.8" height="9.5" fill="#E4E4F2"/><rect x="269.2" y="214.1" width="9.8" height="9.5" fill="#CCCAE6"/><rect x="278.9" y="214.1" width="9.8" height="9.5" fill="#CCCAE6"/><rect x="298.1" y="214.1" width="9.8" height="9.5" fill="#E4E4F2"/><rect x="307.8" y="214.1" width="9.8" height="9.5" fill="#9C98D0"/><rect x="317.4" y="214.1" width="9.8" height="9.5" fill="#8CA4D0"/><rect x="327.1" y="214.1" width="9.8" height="9.5" fill="#8CA4D0"/><rect x="336.7" y="214.1" width="9.8" height="9.5" fill="#55A8C8"/><rect x="346.3" y="214.1" width="9.8" height="9.5" fill="#55A8C8"/><rect x="356" y="214.1" width="9.8" height="9.5" fill="#66C2D4"/><rect x="365.6" y="214.1" width="9.8" height="9.5" fill="#66C2D4"/><rect x="375.3" y="214.1" width="9.8" height="9.5" fill="#66C2D4"/><rect x="384.9" y="214.1" width="9.8" height="9.5" fill="#66C2D4"/><rect x="394.6" y="214.1" width="9.8" height="9.5" fill="#8CA4D0"/><rect x="404.2" y="214.1" width="9.8" height="9.5" fill="#A8A4D4"/><rect x="413.8" y="214.1" width="9.8" height="9.5" fill="#CCCAE6"/><rect x="616.3" y="214.1" width="9.8" height="9.5" fill="#E4E4F2"/><rect x="625.9" y="214.1" width="9.8" height="9.5" fill="#CCCAE6"/><rect x="635.6" y="214.1" width="9.8" height="9.5" fill="#E4E4F2"/><rect x="57.1" y="223.4" width="9.8" height="9.5" fill="#F6E0E2"/><rect x="66.7" y="223.4" width="9.8" height="9.5" fill="#EE7C86"/><rect x="76.4" y="223.4" width="9.8" height="9.5" fill="#EE7C86"/><rect x="86" y="223.4" width="9.8" height="9.5" fill="#EE7C86"/><rect x="95.7" y="223.4" width="9.8" height="9.5" fill="#EE7C86"/><rect x="105.3" y="223.4" width="9.8" height="9.5" fill="#F2B8BE"/><rect x="114.9" y="223.4" width="9.8" height="9.5" fill="#F6E0E2"/><rect x="124.6" y="223.4" width="9.8" height="9.5" fill="#F6E0E2"/><rect x="143.9" y="223.4" width="9.8" height="9.5" fill="#E4E4F2"/><rect x="192.1" y="223.4" width="9.8" height="9.5" fill="#F6E0E2"/><rect x="201.7" y="223.4" width="9.8" height="9.5" fill="#F4CCD0"/><rect x="211.4" y="223.4" width="9.8" height="9.5" fill="#F6E0E2"/><rect x="278.9" y="223.4" width="9.8" height="9.5" fill="#F4CCD0"/><rect x="288.5" y="223.4" width="9.8" height="9.5" fill="#EE9098"/><rect x="298.1" y="223.4" width="9.8" height="9.5" fill="#EE7C86"/><rect x="307.8" y="223.4" width="9.8" height="9.5" fill="#EE9098"/><rect x="317.4" y="223.4" width="9.8" height="9.5" fill="#F2B8BE"/><rect x="327.1" y="223.4" width="9.8" height="9.5" fill="#F6E0E2"/><rect x="365.6" y="223.4" width="9.8" height="9.5" fill="#E4E4F2"/><rect x="375.3" y="223.4" width="9.8" height="9.5" fill="#E4E4F2"/><rect x="384.9" y="223.4" width="9.8" height="9.5" fill="#CCCAE6"/><rect x="394.6" y="223.4" width="9.8" height="9.5" fill="#CCCAE6"/><rect x="404.2" y="223.4" width="9.8" height="9.5" fill="#CCCAE6"/><rect x="413.8" y="223.4" width="9.8" height="9.5" fill="#E4E4F2"/><rect x="76.4" y="232.7" width="9.8" height="9.5" fill="#F6E0E2"/><rect x="86" y="232.7" width="9.8" height="9.5" fill="#F6E0E2"/><rect x="95.7" y="232.7" width="9.8" height="9.5" fill="#F6E0E2"/><rect x="105.3" y="232.7" width="9.8" height="9.5" fill="#F6E0E2"/><rect x="114.9" y="232.7" width="9.8" height="9.5" fill="#F6E0E2"/><rect x="124.6" y="232.7" width="9.8" height="9.5" fill="#F6E0E2"/><rect x="298.1" y="232.7" width="9.8" height="9.5" fill="#F6E0E2"/><rect x="307.8" y="232.7" width="9.8" height="9.5" fill="#F6E0E2"/><rect x="317.4" y="232.7" width="9.8" height="9.5" fill="#F6E0E2"/><rect x="327.1" y="232.7" width="9.8" height="9.5" fill="#F6E0E2"/><rect x="336.7" y="232.7" width="9.8" height="9.5" fill="#F6E0E2"/><rect x="346.3" y="232.7" width="9.8" height="9.5" fill="#F6E0E2"/><rect x="356" y="232.7" width="9.8" height="9.5" fill="#F6E0E2"/></g>
<g fill="#fff"><circle cx="601.8" cy="88.3" r="1.25"/><circle cx="611.5" cy="88.3" r="1.25"/><circle cx="283.7" cy="97.6" r="1.25"/><circle cx="293.3" cy="97.6" r="1.25"/><circle cx="303" cy="97.6" r="1.25"/><circle cx="312.6" cy="97.6" r="1.25"/><circle cx="322.2" cy="97.6" r="1.25"/><circle cx="331.9" cy="97.6" r="1.25"/><circle cx="553.6" cy="97.6" r="1.25"/><circle cx="563.3" cy="97.6" r="1.25"/><circle cx="572.9" cy="97.6" r="1.25"/><circle cx="582.6" cy="97.6" r="1.25"/><circle cx="592.2" cy="97.6" r="1.25"/><circle cx="601.8" cy="97.6" r="1.25"/><circle cx="611.5" cy="97.6" r="1.25"/><circle cx="621.1" cy="97.6" r="1.25"/><circle cx="630.8" cy="97.6" r="1.25"/><circle cx="254.8" cy="106.9" r="1.25"/><circle cx="264.4" cy="106.9" r="1.25"/><circle cx="274" cy="106.9" r="1.25"/><circle cx="283.7" cy="106.9" r="1.25"/><circle cx="293.3" cy="106.9" r="1.25"/><circle cx="303" cy="106.9" r="1.25"/><circle cx="312.6" cy="106.9" r="1.25"/><circle cx="322.2" cy="106.9" r="1.25"/><circle cx="331.9" cy="106.9" r="1.25"/><circle cx="341.5" cy="106.9" r="1.25"/><circle cx="351.2" cy="106.9" r="1.25"/><circle cx="360.8" cy="106.9" r="1.25"/><circle cx="370.4" cy="106.9" r="1.25"/><circle cx="380.1" cy="106.9" r="1.25"/><circle cx="389.7" cy="106.9" r="1.25"/><circle cx="399.4" cy="106.9" r="1.25"/><circle cx="553.6" cy="106.9" r="1.25"/><circle cx="563.3" cy="106.9" r="1.25"/><circle cx="572.9" cy="106.9" r="1.25"/><circle cx="582.6" cy="106.9" r="1.25"/><circle cx="592.2" cy="106.9" r="1.25"/><circle cx="601.8" cy="106.9" r="1.25"/><circle cx="611.5" cy="106.9" r="1.25"/><circle cx="621.1" cy="106.9" r="1.25"/><circle cx="225.8" cy="116.2" r="1.25"/><circle cx="235.5" cy="116.2" r="1.25"/><circle cx="245.1" cy="116.2" r="1.25"/><circle cx="254.8" cy="116.2" r="1.25"/><circle cx="264.4" cy="116.2" r="1.25"/><circle cx="274" cy="116.2" r="1.25"/><circle cx="283.7" cy="116.2" r="1.25"/><circle cx="293.3" cy="116.2" r="1.25"/><circle cx="303" cy="116.2" r="1.25"/><circle cx="312.6" cy="116.2" r="1.25"/><circle cx="322.2" cy="116.2" r="1.25"/><circle cx="331.9" cy="116.2" r="1.25"/><circle cx="341.5" cy="116.2" r="1.25"/><circle cx="351.2" cy="116.2" r="1.25"/><circle cx="360.8" cy="116.2" r="1.25"/><circle cx="370.4" cy="116.2" r="1.25"/><circle cx="380.1" cy="116.2" r="1.25"/><circle cx="389.7" cy="116.2" r="1.25"/><circle cx="399.4" cy="116.2" r="1.25"/><circle cx="409" cy="116.2" r="1.25"/><circle cx="418.7" cy="116.2" r="1.25"/><circle cx="428.3" cy="116.2" r="1.25"/><circle cx="495.8" cy="116.2" r="1.25"/><circle cx="505.4" cy="116.2" r="1.25"/><circle cx="515.1" cy="116.2" r="1.25"/><circle cx="524.7" cy="116.2" r="1.25"/><circle cx="534.4" cy="116.2" r="1.25"/><circle cx="563.3" cy="116.2" r="1.25"/><circle cx="572.9" cy="116.2" r="1.25"/><circle cx="582.6" cy="116.2" r="1.25"/><circle cx="592.2" cy="116.2" r="1.25"/><circle cx="601.8" cy="116.2" r="1.25"/><circle cx="611.5" cy="116.2" r="1.25"/><circle cx="621.1" cy="116.2" r="1.25"/><circle cx="630.8" cy="116.2" r="1.25"/><circle cx="206.5" cy="125.5" r="1.25"/><circle cx="225.8" cy="125.5" r="1.25"/><circle cx="235.5" cy="125.5" r="1.25"/><circle cx="245.1" cy="125.5" r="1.25"/><circle cx="254.8" cy="125.5" r="1.25"/><circle cx="264.4" cy="125.5" r="1.25"/><circle cx="274" cy="125.5" r="1.25"/><circle cx="283.7" cy="125.5" r="1.25"/><circle cx="293.3" cy="125.5" r="1.25"/><circle cx="303" cy="125.5" r="1.25"/><circle cx="312.6" cy="125.5" r="1.25"/><circle cx="322.2" cy="125.5" r="1.25"/><circle cx="331.9" cy="125.5" r="1.25"/><circle cx="341.5" cy="125.5" r="1.25"/><circle cx="351.2" cy="125.5" r="1.25"/><circle cx="360.8" cy="125.5" r="1.25"/><circle cx="370.4" cy="125.5" r="1.25"/><circle cx="380.1" cy="125.5" r="1.25"/><circle cx="389.7" cy="125.5" r="1.25"/><circle cx="399.4" cy="125.5" r="1.25"/><circle cx="409" cy="125.5" r="1.25"/><circle cx="418.7" cy="125.5" r="1.25"/><circle cx="428.3" cy="125.5" r="1.25"/><circle cx="437.9" cy="125.5" r="1.25"/><circle cx="447.6" cy="125.5" r="1.25"/><circle cx="457.2" cy="125.5" r="1.25"/><circle cx="466.9" cy="125.5" r="1.25"/><circle cx="495.8" cy="125.5" r="1.25"/><circle cx="505.4" cy="125.5" r="1.25"/><circle cx="515.1" cy="125.5" r="1.25"/><circle cx="524.7" cy="125.5" r="1.25"/><circle cx="534.4" cy="125.5" r="1.25"/><circle cx="544" cy="125.5" r="1.25"/><circle cx="553.6" cy="125.5" r="1.25"/><circle cx="563.3" cy="125.5" r="1.25"/><circle cx="572.9" cy="125.5" r="1.25"/><circle cx="592.2" cy="125.5" r="1.25"/><circle cx="158.3" cy="134.9" r="1.25"/><circle cx="168" cy="134.9" r="1.25"/><circle cx="177.6" cy="134.9" r="1.25"/><circle cx="187.3" cy="134.9" r="1.25"/><circle cx="206.5" cy="134.9" r="1.25"/><circle cx="216.2" cy="134.9" r="1.25"/><circle cx="264.4" cy="134.9" r="1.25"/><circle cx="274" cy="134.9" r="1.25"/><circle cx="283.7" cy="134.9" r="1.25"/><circle cx="293.3" cy="134.9" r="1.25"/><circle cx="303" cy="134.9" r="1.25"/><circle cx="312.6" cy="134.9" r="1.25"/><circle cx="322.2" cy="134.9" r="1.25"/><circle cx="331.9" cy="134.9" r="1.25"/><circle cx="341.5" cy="134.9" r="1.25"/><circle cx="351.2" cy="134.9" r="1.25"/><circle cx="360.8" cy="134.9" r="1.25"/><circle cx="370.4" cy="134.9" r="1.25"/><circle cx="380.1" cy="134.9" r="1.25"/><circle cx="389.7" cy="134.9" r="1.25"/><circle cx="399.4" cy="134.9" r="1.25"/><circle cx="409" cy="134.9" r="1.25"/><circle cx="418.7" cy="134.9" r="1.25"/><circle cx="428.3" cy="134.9" r="1.25"/><circle cx="437.9" cy="134.9" r="1.25"/><circle cx="447.6" cy="134.9" r="1.25"/><circle cx="457.2" cy="134.9" r="1.25"/><circle cx="466.9" cy="134.9" r="1.25"/><circle cx="486.1" cy="134.9" r="1.25"/><circle cx="495.8" cy="134.9" r="1.25"/><circle cx="505.4" cy="134.9" r="1.25"/><circle cx="515.1" cy="134.9" r="1.25"/><circle cx="524.7" cy="134.9" r="1.25"/><circle cx="544" cy="134.9" r="1.25"/><circle cx="553.6" cy="134.9" r="1.25"/><circle cx="563.3" cy="134.9" r="1.25"/><circle cx="572.9" cy="134.9" r="1.25"/><circle cx="582.6" cy="134.9" r="1.25"/><circle cx="592.2" cy="134.9" r="1.25"/><circle cx="601.8" cy="134.9" r="1.25"/><circle cx="611.5" cy="134.9" r="1.25"/><circle cx="158.3" cy="144.2" r="1.25"/><circle cx="168" cy="144.2" r="1.25"/><circle cx="177.6" cy="144.2" r="1.25"/><circle cx="187.3" cy="144.2" r="1.25"/><circle cx="196.9" cy="144.2" r="1.25"/><circle cx="206.5" cy="144.2" r="1.25"/><circle cx="216.2" cy="144.2" r="1.25"/><circle cx="225.8" cy="144.2" r="1.25"/><circle cx="245.1" cy="144.2" r="1.25"/><circle cx="254.8" cy="144.2" r="1.25"/><circle cx="264.4" cy="144.2" r="1.25"/><circle cx="274" cy="144.2" r="1.25"/><circle cx="293.3" cy="144.2" r="1.25"/><circle cx="303" cy="144.2" r="1.25"/><circle cx="312.6" cy="144.2" r="1.25"/><circle cx="322.2" cy="144.2" r="1.25"/><circle cx="331.9" cy="144.2" r="1.25"/><circle cx="341.5" cy="144.2" r="1.25"/><circle cx="351.2" cy="144.2" r="1.25"/><circle cx="360.8" cy="144.2" r="1.25"/><circle cx="370.4" cy="144.2" r="1.25"/><circle cx="380.1" cy="144.2" r="1.25"/><circle cx="389.7" cy="144.2" r="1.25"/><circle cx="399.4" cy="144.2" r="1.25"/><circle cx="409" cy="144.2" r="1.25"/><circle cx="418.7" cy="144.2" r="1.25"/><circle cx="428.3" cy="144.2" r="1.25"/><circle cx="437.9" cy="144.2" r="1.25"/><circle cx="447.6" cy="144.2" r="1.25"/><circle cx="457.2" cy="144.2" r="1.25"/><circle cx="476.5" cy="144.2" r="1.25"/><circle cx="486.1" cy="144.2" r="1.25"/><circle cx="495.8" cy="144.2" r="1.25"/><circle cx="505.4" cy="144.2" r="1.25"/><circle cx="524.7" cy="144.2" r="1.25"/><circle cx="534.4" cy="144.2" r="1.25"/><circle cx="544" cy="144.2" r="1.25"/><circle cx="553.6" cy="144.2" r="1.25"/><circle cx="563.3" cy="144.2" r="1.25"/><circle cx="572.9" cy="144.2" r="1.25"/><circle cx="582.6" cy="144.2" r="1.25"/><circle cx="592.2" cy="144.2" r="1.25"/><circle cx="601.8" cy="144.2" r="1.25"/><circle cx="611.5" cy="144.2" r="1.25"/><circle cx="621.1" cy="144.2" r="1.25"/><circle cx="630.8" cy="144.2" r="1.25"/><circle cx="110.1" cy="153.5" r="1.25"/><circle cx="119.8" cy="153.5" r="1.25"/><circle cx="148.7" cy="153.5" r="1.25"/><circle cx="158.3" cy="153.5" r="1.25"/><circle cx="168" cy="153.5" r="1.25"/><circle cx="177.6" cy="153.5" r="1.25"/><circle cx="206.5" cy="153.5" r="1.25"/><circle cx="216.2" cy="153.5" r="1.25"/><circle cx="225.8" cy="153.5" r="1.25"/><circle cx="245.1" cy="153.5" r="1.25"/><circle cx="254.8" cy="153.5" r="1.25"/><circle cx="264.4" cy="153.5" r="1.25"/><circle cx="274" cy="153.5" r="1.25"/><circle cx="283.7" cy="153.5" r="1.25"/><circle cx="293.3" cy="153.5" r="1.25"/><circle cx="322.2" cy="153.5" r="1.25"/><circle cx="331.9" cy="153.5" r="1.25"/><circle cx="341.5" cy="153.5" r="1.25"/><circle cx="351.2" cy="153.5" r="1.25"/><circle cx="360.8" cy="153.5" r="1.25"/><circle cx="370.4" cy="153.5" r="1.25"/><circle cx="380.1" cy="153.5" r="1.25"/><circle cx="389.7" cy="153.5" r="1.25"/><circle cx="399.4" cy="153.5" r="1.25"/><circle cx="409" cy="153.5" r="1.25"/><circle cx="418.7" cy="153.5" r="1.25"/><circle cx="428.3" cy="153.5" r="1.25"/><circle cx="437.9" cy="153.5" r="1.25"/><circle cx="447.6" cy="153.5" r="1.25"/><circle cx="457.2" cy="153.5" r="1.25"/><circle cx="476.5" cy="153.5" r="1.25"/><circle cx="486.1" cy="153.5" r="1.25"/><circle cx="495.8" cy="153.5" r="1.25"/><circle cx="505.4" cy="153.5" r="1.25"/><circle cx="515.1" cy="153.5" r="1.25"/><circle cx="534.4" cy="153.5" r="1.25"/><circle cx="544" cy="153.5" r="1.25"/><circle cx="553.6" cy="153.5" r="1.25"/><circle cx="563.3" cy="153.5" r="1.25"/><circle cx="572.9" cy="153.5" r="1.25"/><circle cx="582.6" cy="153.5" r="1.25"/><circle cx="592.2" cy="153.5" r="1.25"/><circle cx="601.8" cy="153.5" r="1.25"/><circle cx="611.5" cy="153.5" r="1.25"/><circle cx="621.1" cy="153.5" r="1.25"/><circle cx="100.5" cy="162.8" r="1.25"/><circle cx="110.1" cy="162.8" r="1.25"/><circle cx="119.8" cy="162.8" r="1.25"/><circle cx="129.4" cy="162.8" r="1.25"/><circle cx="139.1" cy="162.8" r="1.25"/><circle cx="148.7" cy="162.8" r="1.25"/><circle cx="187.3" cy="162.8" r="1.25"/><circle cx="206.5" cy="162.8" r="1.25"/><circle cx="216.2" cy="162.8" r="1.25"/><circle cx="225.8" cy="162.8" r="1.25"/><circle cx="235.5" cy="162.8" r="1.25"/><circle cx="245.1" cy="162.8" r="1.25"/><circle cx="254.8" cy="162.8" r="1.25"/><circle cx="264.4" cy="162.8" r="1.25"/><circle cx="274" cy="162.8" r="1.25"/><circle cx="283.7" cy="162.8" r="1.25"/><circle cx="293.3" cy="162.8" r="1.25"/><circle cx="303" cy="162.8" r="1.25"/><circle cx="312.6" cy="162.8" r="1.25"/><circle cx="360.8" cy="162.8" r="1.25"/><circle cx="370.4" cy="162.8" r="1.25"/><circle cx="380.1" cy="162.8" r="1.25"/><circle cx="389.7" cy="162.8" r="1.25"/><circle cx="399.4" cy="162.8" r="1.25"/><circle cx="409" cy="162.8" r="1.25"/><circle cx="418.7" cy="162.8" r="1.25"/><circle cx="428.3" cy="162.8" r="1.25"/><circle cx="437.9" cy="162.8" r="1.25"/><circle cx="447.6" cy="162.8" r="1.25"/><circle cx="466.9" cy="162.8" r="1.25"/><circle cx="476.5" cy="162.8" r="1.25"/><circle cx="486.1" cy="162.8" r="1.25"/><circle cx="495.8" cy="162.8" r="1.25"/><circle cx="505.4" cy="162.8" r="1.25"/><circle cx="563.3" cy="162.8" r="1.25"/><circle cx="572.9" cy="162.8" r="1.25"/><circle cx="582.6" cy="162.8" r="1.25"/><circle cx="592.2" cy="162.8" r="1.25"/><circle cx="601.8" cy="162.8" r="1.25"/><circle cx="611.5" cy="162.8" r="1.25"/><circle cx="148.7" cy="172.1" r="1.25"/><circle cx="245.1" cy="172.1" r="1.25"/><circle cx="254.8" cy="172.1" r="1.25"/><circle cx="264.4" cy="172.1" r="1.25"/><circle cx="274" cy="172.1" r="1.25"/><circle cx="283.7" cy="172.1" r="1.25"/><circle cx="293.3" cy="172.1" r="1.25"/><circle cx="303" cy="172.1" r="1.25"/><circle cx="312.6" cy="172.1" r="1.25"/><circle cx="322.2" cy="172.1" r="1.25"/><circle cx="331.9" cy="172.1" r="1.25"/><circle cx="129.4" cy="181.5" r="1.25"/><circle cx="139.1" cy="181.5" r="1.25"/><circle cx="148.7" cy="181.5" r="1.25"/><circle cx="158.3" cy="181.5" r="1.25"/><circle cx="312.6" cy="181.5" r="1.25"/><circle cx="81.2" cy="190.8" r="1.25"/><circle cx="90.8" cy="190.8" r="1.25"/><circle cx="100.5" cy="190.8" r="1.25"/><circle cx="110.1" cy="190.8" r="1.25"/><circle cx="119.8" cy="190.8" r="1.25"/><circle cx="129.4" cy="190.8" r="1.25"/><circle cx="139.1" cy="190.8" r="1.25"/><circle cx="148.7" cy="190.8" r="1.25"/><circle cx="158.3" cy="190.8" r="1.25"/><circle cx="168" cy="190.8" r="1.25"/><circle cx="177.6" cy="190.8" r="1.25"/><circle cx="187.3" cy="190.8" r="1.25"/><circle cx="196.9" cy="190.8" r="1.25"/><circle cx="206.5" cy="190.8" r="1.25"/><circle cx="225.8" cy="190.8" r="1.25"/><circle cx="235.5" cy="190.8" r="1.25"/><circle cx="274" cy="190.8" r="1.25"/><circle cx="293.3" cy="190.8" r="1.25"/><circle cx="303" cy="190.8" r="1.25"/><circle cx="312.6" cy="190.8" r="1.25"/><circle cx="322.2" cy="190.8" r="1.25"/><circle cx="331.9" cy="190.8" r="1.25"/><circle cx="341.5" cy="190.8" r="1.25"/><circle cx="351.2" cy="190.8" r="1.25"/><circle cx="360.8" cy="190.8" r="1.25"/><circle cx="621.1" cy="190.8" r="1.25"/><circle cx="630.8" cy="190.8" r="1.25"/><circle cx="71.6" cy="200.1" r="1.25"/><circle cx="81.2" cy="200.1" r="1.25"/><circle cx="90.8" cy="200.1" r="1.25"/><circle cx="100.5" cy="200.1" r="1.25"/><circle cx="110.1" cy="200.1" r="1.25"/><circle cx="119.8" cy="200.1" r="1.25"/><circle cx="129.4" cy="200.1" r="1.25"/><circle cx="139.1" cy="200.1" r="1.25"/><circle cx="148.7" cy="200.1" r="1.25"/><circle cx="158.3" cy="200.1" r="1.25"/><circle cx="168" cy="200.1" r="1.25"/><circle cx="177.6" cy="200.1" r="1.25"/><circle cx="187.3" cy="200.1" r="1.25"/><circle cx="196.9" cy="200.1" r="1.25"/><circle cx="206.5" cy="200.1" r="1.25"/><circle cx="216.2" cy="200.1" r="1.25"/><circle cx="225.8" cy="200.1" r="1.25"/><circle cx="235.5" cy="200.1" r="1.25"/><circle cx="245.1" cy="200.1" r="1.25"/><circle cx="254.8" cy="200.1" r="1.25"/><circle cx="283.7" cy="200.1" r="1.25"/><circle cx="293.3" cy="200.1" r="1.25"/><circle cx="303" cy="200.1" r="1.25"/><circle cx="312.6" cy="200.1" r="1.25"/><circle cx="322.2" cy="200.1" r="1.25"/><circle cx="331.9" cy="200.1" r="1.25"/><circle cx="341.5" cy="200.1" r="1.25"/><circle cx="351.2" cy="200.1" r="1.25"/><circle cx="360.8" cy="200.1" r="1.25"/><circle cx="370.4" cy="200.1" r="1.25"/><circle cx="380.1" cy="200.1" r="1.25"/><circle cx="389.7" cy="200.1" r="1.25"/><circle cx="399.4" cy="200.1" r="1.25"/><circle cx="409" cy="200.1" r="1.25"/><circle cx="418.7" cy="200.1" r="1.25"/><circle cx="611.5" cy="200.1" r="1.25"/><circle cx="621.1" cy="200.1" r="1.25"/><circle cx="630.8" cy="200.1" r="1.25"/><circle cx="640.4" cy="200.1" r="1.25"/><circle cx="650.1" cy="200.1" r="1.25"/><circle cx="100.5" cy="209.4" r="1.25"/><circle cx="110.1" cy="209.4" r="1.25"/><circle cx="119.8" cy="209.4" r="1.25"/><circle cx="129.4" cy="209.4" r="1.25"/><circle cx="139.1" cy="209.4" r="1.25"/><circle cx="148.7" cy="209.4" r="1.25"/><circle cx="158.3" cy="209.4" r="1.25"/><circle cx="168" cy="209.4" r="1.25"/><circle cx="177.6" cy="209.4" r="1.25"/><circle cx="187.3" cy="209.4" r="1.25"/><circle cx="196.9" cy="209.4" r="1.25"/><circle cx="206.5" cy="209.4" r="1.25"/><circle cx="216.2" cy="209.4" r="1.25"/><circle cx="225.8" cy="209.4" r="1.25"/><circle cx="274" cy="209.4" r="1.25"/><circle cx="293.3" cy="209.4" r="1.25"/><circle cx="303" cy="209.4" r="1.25"/><circle cx="312.6" cy="209.4" r="1.25"/><circle cx="322.2" cy="209.4" r="1.25"/><circle cx="331.9" cy="209.4" r="1.25"/><circle cx="341.5" cy="209.4" r="1.25"/><circle cx="351.2" cy="209.4" r="1.25"/><circle cx="360.8" cy="209.4" r="1.25"/><circle cx="370.4" cy="209.4" r="1.25"/><circle cx="380.1" cy="209.4" r="1.25"/><circle cx="389.7" cy="209.4" r="1.25"/><circle cx="399.4" cy="209.4" r="1.25"/><circle cx="409" cy="209.4" r="1.25"/><circle cx="418.7" cy="209.4" r="1.25"/><circle cx="428.3" cy="209.4" r="1.25"/><circle cx="621.1" cy="209.4" r="1.25"/><circle cx="630.8" cy="209.4" r="1.25"/><circle cx="640.4" cy="209.4" r="1.25"/><circle cx="650.1" cy="209.4" r="1.25"/><circle cx="110.1" cy="218.7" r="1.25"/><circle cx="119.8" cy="218.7" r="1.25"/><circle cx="129.4" cy="218.7" r="1.25"/><circle cx="139.1" cy="218.7" r="1.25"/><circle cx="148.7" cy="218.7" r="1.25"/><circle cx="158.3" cy="218.7" r="1.25"/><circle cx="168" cy="218.7" r="1.25"/><circle cx="177.6" cy="218.7" r="1.25"/><circle cx="187.3" cy="218.7" r="1.25"/><circle cx="274" cy="218.7" r="1.25"/><circle cx="341.5" cy="218.7" r="1.25"/><circle cx="351.2" cy="218.7" r="1.25"/><circle cx="360.8" cy="218.7" r="1.25"/><circle cx="370.4" cy="218.7" r="1.25"/><circle cx="380.1" cy="218.7" r="1.25"/><circle cx="389.7" cy="218.7" r="1.25"/><circle cx="399.4" cy="218.7" r="1.25"/><circle cx="409" cy="218.7" r="1.25"/><circle cx="418.7" cy="218.7" r="1.25"/><circle cx="630.8" cy="218.7" r="1.25"/><circle cx="640.4" cy="218.7" r="1.25"/><circle cx="71.6" cy="228.1" r="1.25"/><circle cx="81.2" cy="228.1" r="1.25"/><circle cx="90.8" cy="228.1" r="1.25"/><circle cx="100.5" cy="228.1" r="1.25"/><circle cx="148.7" cy="228.1" r="1.25"/><circle cx="293.3" cy="228.1" r="1.25"/><circle cx="303" cy="228.1" r="1.25"/><circle cx="312.6" cy="228.1" r="1.25"/><circle cx="389.7" cy="228.1" r="1.25"/><circle cx="399.4" cy="228.1" r="1.25"/><circle cx="409" cy="228.1" r="1.25"/><circle cx="418.7" cy="228.1" r="1.25"/><circle cx="110.1" cy="237.4" r="1.25"/><circle cx="119.8" cy="237.4" r="1.25"/><circle cx="129.4" cy="237.4" r="1.25"/><circle cx="303" cy="237.4" r="1.25"/><circle cx="312.6" cy="237.4" r="1.25"/><circle cx="322.2" cy="237.4" r="1.25"/><circle cx="331.9" cy="237.4" r="1.25"/><circle cx="341.5" cy="237.4" r="1.25"/><circle cx="351.2" cy="237.4" r="1.25"/><circle cx="360.8" cy="237.4" r="1.25"/></g>
<path d="M580.3 86l4.6 4.6M580.3 90.6l4.6 -4.6M541.7 104.6l4.6 4.6M541.7 109.2l4.6 -4.6M580.3 123.2l4.6 4.6M580.3 127.8l4.6 -4.6M618.8 132.6l4.6 4.6M618.8 137.2l4.6 -4.6M117.5 141.9l4.6 4.6M117.5 146.5l4.6 -4.6M98.2 151.2l4.6 4.6M98.2 155.8l4.6 -4.6M310.3 151.2l4.6 4.6M310.3 155.8l4.6 -4.6M175.3 160.5l4.6 4.6M175.3 165.1l4.6 -4.6M368.1 188.5l4.6 4.6M368.1 193.1l4.6 -4.6M88.5 207.1l4.6 4.6M88.5 211.7l4.6 -4.6M233.2 207.1l4.6 4.6M233.2 211.7l4.6 -4.6M281.4 207.1l4.6 4.6M281.4 211.7l4.6 -4.6M59.6 216.4l4.6 4.6M59.6 221l4.6 -4.6M69.3 216.4l4.6 4.6M69.3 221l4.6 -4.6M78.9 216.4l4.6 4.6M78.9 221l4.6 -4.6M618.8 216.4l4.6 4.6M618.8 221l4.6 -4.6M281.4 225.8l4.6 4.6M281.4 230.4l4.6 -4.6M319.9 225.8l4.6 4.6M319.9 230.4l4.6 -4.6M377.8 225.8l4.6 4.6M377.8 230.4l4.6 -4.6M78.9 235.1l4.6 4.6M78.9 239.7l4.6 -4.6M88.5 235.1l4.6 4.6M88.5 239.7l4.6 -4.6" stroke="#fff" stroke-width="0.7" fill="none" opacity="0.85"/>
<use href="#coast"/>
<path d="M54.85 176.6H674.8" stroke="#333" stroke-width="1.35" stroke-dasharray="10.3 5.15" fill="none"/>
</g>
<rect x="56.5" y="27.5" width="618.3" height="279.6" fill="none" stroke="#222" stroke-width="1"/>
<path d="M57.1 27.5v-7M57.1 307.1v7M114.9 27.5v-7M114.9 307.1v7M172.8 27.5v-7M172.8 307.1v7M230.6 27.5v-7M230.6 307.1v7M288.5 27.5v-7M288.5 307.1v7M346.3 27.5v-7M346.3 307.1v7M404.2 27.5v-7M404.2 307.1v7M462 27.5v-7M462 307.1v7M519.9 27.5v-7M519.9 307.1v7M577.7 27.5v-7M577.7 307.1v7M635.6 27.5v-7M635.6 307.1v7M56.5 288.6h-7M674.8 288.6h7M56.5 251.4h-7M674.8 251.4h7M56.5 214.1h-7M674.8 214.1h7M56.5 176.8h-7M674.8 176.8h7M56.5 139.5h-7M674.8 139.5h7M56.5 102.2h-7M674.8 102.2h7M56.5 65h-7M674.8 65h7M56.5 27.7h-7M674.8 27.7h7" stroke="#222" stroke-width="1" fill="none"/>
<g font-size="9.6" text-anchor="middle" fill="#222">
<text x="57.1" y="327.3">30°E</text>
<text x="172.8" y="327.3">90°E</text>
<text x="288.5" y="327.3">150°E</text>
<text x="404.2" y="327.3">150°W</text>
<text x="519.9" y="327.3">90°W</text>
<text x="635.6" y="327.3">30°W</text>
<text x="33.7" y="31.1">80°N</text>
<text x="33.7" y="105.6">40°N</text>
<text x="33.7" y="180.2">0°</text>
<text x="33.7" y="254.8">40°S</text>
</g>
<text x="365.5" y="335.7" font-size="13.6" text-anchor="middle" fill="#222" textLength="64" lengthAdjust="spacing">Longitude</text>
<text transform="translate(12.6,167.5) rotate(-90)" font-size="14.2" text-anchor="middle" fill="#222" textLength="53.4" lengthAdjust="spacing">Latitude</text>
<text x="365" y="12.9" font-size="12.6" text-anchor="middle" fill="#222" textLength="550" lengthAdjust="spacingAndGlyphs">(a) Future Change in Major TC Density (SPEAR_HI_ALL, 2061−2100 − 1981−2020)</text>
<g stroke="#1a1a1a" stroke-width="1.1" stroke-linejoin="round">
<path d="M79.7 345L49.5 352.5L79.7 360Z" fill="#B5EA4D"/>
<rect x="79.7" y="345" width="10.3" height="15" fill="#95D944"/>
<rect x="90" y="345" width="10.3" height="15" fill="#7CC946"/>
<rect x="100.4" y="345" width="10.3" height="15" fill="#62B646"/>
<rect x="110.7" y="345" width="10.3" height="15" fill="#4FA240"/>
<rect x="121" y="345" width="10.3" height="15" fill="#3F8B3A"/>
<rect x="131.4" y="345" width="10.3" height="15" fill="#36782E"/>
<rect x="141.7" y="345" width="10.3" height="15" fill="#27581F"/>
<rect x="152" y="345" width="10.3" height="15" fill="#1F4432"/>
<rect x="162.4" y="345" width="10.3" height="15" fill="#1B3350"/>
<rect x="172.7" y="345" width="10.3" height="15" fill="#1B2672"/>
<rect x="183.1" y="345" width="10.3" height="15" fill="#1F189A"/>
<rect x="193.4" y="345" width="10.3" height="15" fill="#2B3AB0"/>
<rect x="203.7" y="345" width="10.3" height="15" fill="#2F50AE"/>
<rect x="214.1" y="345" width="10.3" height="15" fill="#3A6AB8"/>
<rect x="224.4" y="345" width="10.3" height="15" fill="#3F7FBE"/>
<rect x="234.7" y="345" width="10.3" height="15" fill="#4A95C4"/>
<rect x="245.1" y="345" width="10.3" height="15" fill="#55A8C8"/>
<rect x="255.4" y="345" width="10.3" height="15" fill="#66C2D4"/>
<rect x="265.7" y="345" width="10.3" height="15" fill="#70C4D4"/>
<rect x="276.1" y="345" width="10.3" height="15" fill="#7CB4D2"/>
<rect x="286.4" y="345" width="10.3" height="15" fill="#8CA4D0"/>
<rect x="296.7" y="345" width="10.3" height="15" fill="#9C98D0"/>
<rect x="307.1" y="345" width="10.3" height="15" fill="#A8A4D4"/>
<rect x="317.4" y="345" width="10.3" height="15" fill="#BCB8E0"/>
<rect x="327.7" y="345" width="10.3" height="15" fill="#CCCAE6"/>
<rect x="338.1" y="345" width="10.3" height="15" fill="#E4E4F2"/>
<rect x="348.4" y="345" width="10.3" height="15" fill="#FFFFFF"/>
<rect x="358.7" y="345" width="10.3" height="15" fill="#FFFFFF"/>
<rect x="369.1" y="345" width="10.3" height="15" fill="#F6E0E2"/>
<rect x="379.4" y="345" width="10.3" height="15" fill="#F4CCD0"/>
<rect x="389.8" y="345" width="10.3" height="15" fill="#F2B8BE"/>
<rect x="400.1" y="345" width="10.3" height="15" fill="#F0A4AC"/>
<rect x="410.4" y="345" width="10.3" height="15" fill="#EE9098"/>
<rect x="420.8" y="345" width="10.3" height="15" fill="#EE7C86"/>
<rect x="431.1" y="345" width="10.3" height="15" fill="#EC6C78"/>
<rect x="441.4" y="345" width="10.3" height="15" fill="#EC5866"/>
<rect x="451.8" y="345" width="10.3" height="15" fill="#EC4C58"/>
<rect x="462.1" y="345" width="10.3" height="15" fill="#E04848"/>
<rect x="472.4" y="345" width="10.3" height="15" fill="#D84844"/>
<rect x="482.8" y="345" width="10.3" height="15" fill="#D0443C"/>
<rect x="493.1" y="345" width="10.3" height="15" fill="#D84C30"/>
<rect x="503.4" y="345" width="10.3" height="15" fill="#E05A30"/>
<rect x="513.8" y="345" width="10.3" height="15" fill="#E86830"/>
<rect x="524.1" y="345" width="10.3" height="15" fill="#F07830"/>
<rect x="534.4" y="345" width="10.3" height="15" fill="#F08830"/>
<rect x="544.8" y="345" width="10.3" height="15" fill="#EE9430"/>
<rect x="555.1" y="345" width="10.3" height="15" fill="#F0A030"/>
<rect x="565.5" y="345" width="10.3" height="15" fill="#EEAC30"/>
<rect x="575.8" y="345" width="10.3" height="15" fill="#EEBC34"/>
<rect x="586.1" y="345" width="10.3" height="15" fill="#ECC434"/>
<rect x="596.5" y="345" width="10.3" height="15" fill="#ECD038"/>
<rect x="606.8" y="345" width="10.3" height="15" fill="#ECDC3C"/>
<rect x="617.1" y="345" width="10.3" height="15" fill="#ECE840"/>
<rect x="627.5" y="345" width="10.3" height="15" fill="#ECF444"/>
<path d="M637.8 345L667.9 352.5L637.8 360Z" fill="#E8FC44"/>
</g>
<g font-size="10" text-anchor="middle" fill="#222">
<text x="79.3" y="371.6">−1.00</text>
<text x="120.6" y="371.6">−0.80</text>
<text x="162" y="371.6">−0.60</text>
<text x="203.3" y="371.6">−0.40</text>
<text x="244.7" y="371.6">−0.20</text>
<text x="286" y="371.6">−0.07</text>
<text x="327.3" y="371.6">−0.03</text>
<text x="367" y="371.6">0.01</text>
<text x="408.3" y="371.6">0.05</text>
<text x="449.7" y="371.6">0.10</text>
<text x="491" y="371.6">0.30</text>
<text x="532.3" y="371.6">0.50</text>
<text x="573.7" y="371.6">0.70</text>
<text x="615" y="371.6">0.90</text>
</g>
</g>
<g transform="translate(0.8,390.5)">
<g clip-path="url(#clip)">
<g shape-rendering="crispEdges"><rect x="606.7" y="74.3" width="9.8" height="9.5" fill="#F6E0E2"/><rect x="616.3" y="74.3" width="9.8" height="9.5" fill="#F4CCD0"/><rect x="625.9" y="74.3" width="9.8" height="9.5" fill="#F6E0E2"/><rect x="278.9" y="83.6" width="9.8" height="9.5" fill="#F6E0E2"/><rect x="288.5" y="83.6" width="9.8" height="9.5" fill="#F4CCD0"/><rect x="298.1" y="83.6" width="9.8" height="9.5" fill="#F4CCD0"/><rect x="307.8" y="83.6" width="9.8" height="9.5" fill="#F4CCD0"/><rect x="317.4" y="83.6" width="9.8" height="9.5" fill="#F4CCD0"/><rect x="327.1" y="83.6" width="9.8" height="9.5" fill="#F4CCD0"/><rect x="356" y="83.6" width="9.8" height="9.5" fill="#F4CCD0"/><rect x="365.6" y="83.6" width="9.8" height="9.5" fill="#F2B8BE"/><rect x="375.3" y="83.6" width="9.8" height="9.5" fill="#F4CCD0"/><rect x="568.1" y="83.6" width="9.8" height="9.5" fill="#F2B8BE"/><rect x="577.7" y="83.6" width="9.8" height="9.5" fill="#F2B8BE"/><rect x="587.4" y="83.6" width="9.8" height="9.5" fill="#F6E0E2"/><rect x="597" y="83.6" width="9.8" height="9.5" fill="#EE7C86"/><rect x="606.7" y="83.6" width="9.8" height="9.5" fill="#EC4C58"/><rect x="616.3" y="83.6" width="9.8" height="9.5" fill="#EC4C58"/><rect x="625.9" y="83.6" width="9.8" height="9.5" fill="#EE7C86"/><rect x="635.6" y="83.6" width="9.8" height="9.5" fill="#F6E0E2"/><rect x="230.6" y="92.9" width="9.8" height="9.5" fill="#F4CCD0"/><rect x="240.3" y="92.9" width="9.8" height="9.5" fill="#F4CCD0"/><rect x="249.9" y="92.9" width="9.8" height="9.5" fill="#F6E0E2"/><rect x="259.6" y="92.9" width="9.8" height="9.5" fill="#F4CCD0"/><rect x="269.2" y="92.9" width="9.8" height="9.5" fill="#F0A4AC"/><rect x="278.9" y="92.9" width="9.8" height="9.5" fill="#EC5866"/><rect x="288.5" y="92.9" width="9.8" height="9.5" fill="#EC5866"/><rect x="298.1" y="92.9" width="9.8" height="9.5" fill="#EC4C58"/><rect x="307.8" y="92.9" width="9.8" height="9.5" fill="#EC4C58"/><rect x="317.4" y="92.9" width="9.8" height="9.5" fill="#EC6C78"/><rect x="327.1" y="92.9" width="9.8" height="9.5" fill="#EC4C58"/><rect x="336.7" y="92.9" width="9.8" height="9.5" fill="#EC4C58"/><rect x="346.3" y="92.9" width="9.8" height="9.5" fill="#EC4C58"/><rect x="356" y="92.9" width="9.8" height="9.5" fill="#EC4C58"/><rect x="365.6" y="92.9" width="9.8" height="9.5" fill="#EC4C58"/><rect x="375.3" y="92.9" width="9.8" height="9.5" fill="#EC5866"/><rect x="384.9" y="92.9" width="9.8" height="9.5" fill="#EE9098"/><rect x="394.6" y="92.9" width="9.8" height="9.5" fill="#F2B8BE"/><rect x="404.2" y="92.9" width="9.8" height="9.5" fill="#F2B8BE"/><rect x="413.8" y="92.9" width="9.8" height="9.5" fill="#F6E0E2"/><rect x="548.8" y="92.9" width="9.8" height="9.5" fill="#CCCAE6"/><rect x="568.1" y="92.9" width="9.8" height="9.5" fill="#EE7C86"/><rect x="577.7" y="92.9" width="9.8" height="9.5" fill="#EC6C78"/><rect x="587.4" y="92.9" width="9.8" height="9.5" fill="#EC5866"/><rect x="597" y="92.9" width="9.8" height="9.5" fill="#D84844"/><rect x="606.7" y="92.9" width="9.8" height="9.5" fill="#F07830"/><rect x="616.3" y="92.9" width="9.8" height="9.5" fill="#D84C30"/><rect x="625.9" y="92.9" width="9.8" height="9.5" fill="#EC4C58"/><rect x="635.6" y="92.9" width="9.8" height="9.5" fill="#EC4C58"/><rect x="645.2" y="92.9" width="9.8" height="9.5" fill="#F0A4AC"/><rect x="221" y="102.2" width="9.8" height="9.5" fill="#F2B8BE"/><rect x="230.6" y="102.2" width="9.8" height="9.5" fill="#EE7C86"/><rect x="240.3" y="102.2" width="9.8" height="9.5" fill="#F2B8BE"/><rect x="249.9" y="102.2" width="9.8" height="9.5" fill="#EE9098"/><rect x="259.6" y="102.2" width="9.8" height="9.5" fill="#EC4C58"/><rect x="269.2" y="102.2" width="9.8" height="9.5" fill="#EC4C58"/><rect x="278.9" y="102.2" width="9.8" height="9.5" fill="#EC4C58"/><rect x="288.5" y="102.2" width="9.8" height="9.5" fill="#E04848"/><rect x="298.1" y="102.2" width="9.8" height="9.5" fill="#D84844"/><rect x="307.8" y="102.2" width="9.8" height="9.5" fill="#E04848"/><rect x="317.4" y="102.2" width="9.8" height="9.5" fill="#D84844"/><rect x="327.1" y="102.2" width="9.8" height="9.5" fill="#D0443C"/><rect x="336.7" y="102.2" width="9.8" height="9.5" fill="#D0443C"/><rect x="346.3" y="102.2" width="9.8" height="9.5" fill="#D84844"/><rect x="356" y="102.2" width="9.8" height="9.5" fill="#D84C30"/><rect x="365.6" y="102.2" width="9.8" height="9.5" fill="#E05A30"/><rect x="375.3" y="102.2" width="9.8" height="9.5" fill="#D84844"/><rect x="384.9" y="102.2" width="9.8" height="9.5" fill="#E04848"/><rect x="394.6" y="102.2" width="9.8" height="9.5" fill="#EC4C58"/><rect x="404.2" y="102.2" width="9.8" height="9.5" fill="#EC6C78"/><rect x="413.8" y="102.2" width="9.8" height="9.5" fill="#F2B8BE"/><rect x="529.5" y="102.2" width="9.8" height="9.5" fill="#E4E4F2"/><rect x="539.2" y="102.2" width="9.8" height="9.5" fill="#66C2D4"/><rect x="548.8" y="102.2" width="9.8" height="9.5" fill="#3F7FBE"/><rect x="558.5" y="102.2" width="9.8" height="9.5" fill="#CCCAE6"/><rect x="568.1" y="102.2" width="9.8" height="9.5" fill="#E04848"/><rect x="577.7" y="102.2" width="9.8" height="9.5" fill="#D84844"/><rect x="587.4" y="102.2" width="9.8" height="9.5" fill="#D0443C"/><rect x="597" y="102.2" width="9.8" height="9.5" fill="#F0A030"/><rect x="606.7" y="102.2" width="9.8" height="9.5" fill="#ECD038"/><rect x="616.3" y="102.2" width="9.8" height="9.5" fill="#ECC434"/><rect x="625.9" y="102.2" width="9.8" height="9.5" fill="#F08830"/><rect x="635.6" y="102.2" width="9.8" height="9.5" fill="#D84844"/><rect x="645.2" y="102.2" width="9.8" height="9.5" fill="#EE7C86"/><rect x="134.2" y="111.6" width="9.8" height="9.5" fill="#F6E0E2"/><rect x="221" y="111.6" width="9.8" height="9.5" fill="#EC6C78"/><rect x="230.6" y="111.6" width="9.8" height="9.5" fill="#F0A4AC"/><rect x="240.3" y="111.6" width="9.8" height="9.5" fill="#3F7FBE"/><rect x="249.9" y="111.6" width="9.8" height="9.5" fill="#3F7FBE"/><rect x="259.6" y="111.6" width="9.8" height="9.5" fill="#66C2D4"/><rect x="269.2" y="111.6" width="9.8" height="9.5" fill="#66C2D4"/><rect x="278.9" y="111.6" width="9.8" height="9.5" fill="#EC4C58"/><rect x="288.5" y="111.6" width="9.8" height="9.5" fill="#D84C30"/><rect x="298.1" y="111.6" width="9.8" height="9.5" fill="#F07830"/><rect x="307.8" y="111.6" width="9.8" height="9.5" fill="#F07830"/><rect x="317.4" y="111.6" width="9.8" height="9.5" fill="#F08830"/><rect x="327.1" y="111.6" width="9.8" height="9.5" fill="#F0A030"/><rect x="336.7" y="111.6" width="9.8" height="9.5" fill="#F0A030"/><rect x="346.3" y="111.6" width="9.8" height="9.5" fill="#EE9430"/><rect x="356" y="111.6" width="9.8" height="9.5" fill="#ECC434"/><rect x="365.6" y="111.6" width="9.8" height="9.5" fill="#EEBC34"/><rect x="375.3" y="111.6" width="9.8" height="9.5" fill="#F08830"/><rect x="384.9" y="111.6" width="9.8" height="9.5" fill="#F07830"/><rect x="394.6" y="111.6" width="9.8" height="9.5" fill="#D84C30"/><rect x="404.2" y="111.6" width="9.8" height="9.5" fill="#EC4C58"/><rect x="413.8" y="111.6" width="9.8" height="9.5" fill="#EE7C86"/><rect x="423.5" y="111.6" width="9.8" height="9.5" fill="#F6E0E2"/><rect x="462" y="111.6" width="9.8" height="9.5" fill="#F2B8BE"/><rect x="471.7" y="111.6" width="9.8" height="9.5" fill="#F2B8BE"/><rect x="481.3" y="111.6" width="9.8" height="9.5" fill="#F6E0E2"/><rect x="510.3" y="111.6" width="9.8" height="9.5" fill="#CCCAE6"/><rect x="519.9" y="111.6" width="9.8" height="9.5" fill="#A8A4D4"/><rect x="529.5" y="111.6" width="9.8" height="9.5" fill="#A8A4D4"/><rect x="539.2" y="111.6" width="9.8" height="9.5" fill="#4A95C4"/><rect x="548.8" y="111.6" width="9.8" height="9.5" fill="#1F189A"/><rect x="558.5" y="111.6" width="9.8" height="9.5" fill="#CCCAE6"/><rect x="568.1" y="111.6" width="9.8" height="9.5" fill="#F0A030"/><rect x="577.7" y="111.6" width="9.8" height="9.5" fill="#EE9430"/><rect x="587.4" y="111.6" width="9.8" height="9.5" fill="#F07830"/><rect x="597" y="111.6" width="9.8" height="9.5" fill="#ECDC3C"/><rect x="606.7" y="111.6" width="9.8" height="9.5" fill="#E8FC44"/><rect x="616.3" y="111.6" width="9.8" height="9.5" fill="#E8FC44"/><rect x="625.9" y="111.6" width="9.8" height="9.5" fill="#EEBC34"/><rect x="635.6" y="111.6" width="9.8" height="9.5" fill="#D84C30"/><rect x="645.2" y="111.6" width="9.8" height="9.5" fill="#F2B8BE"/><rect x="654.9" y="111.6" width="9.8" height="9.5" fill="#E4E4F2"/><rect x="95.7" y="120.9" width="9.8" height="9.5" fill="#F6E0E2"/><rect x="105.3" y="120.9" width="9.8" height="9.5" fill="#EC4C58"/><rect x="114.9" y="120.9" width="9.8" height="9.5" fill="#EE9098"/><rect x="153.5" y="120.9" width="9.8" height="9.5" fill="#F6E0E2"/><rect x="163.2" y="120.9" width="9.8" height="9.5" fill="#F4CCD0"/><rect x="211.4" y="120.9" width="9.8" height="9.5" fill="#70C4D4"/><rect x="221" y="120.9" width="9.8" height="9.5" fill="#55A8C8"/><rect x="230.6" y="120.9" width="9.8" height="9.5" fill="#3F7FBE"/><rect x="240.3" y="120.9" width="9.8" height="9.5" fill="#3F8B3A"/><rect x="249.9" y="120.9" width="9.8" height="9.5" fill="#B5EA4D"/><rect x="259.6" y="120.9" width="9.8" height="9.5" fill="#7CC946"/><rect x="269.2" y="120.9" width="9.8" height="9.5" fill="#1B2672"/><rect x="278.9" y="120.9" width="9.8" height="9.5" fill="#F2B8BE"/><rect x="288.5" y="120.9" width="9.8" height="9.5" fill="#E05A30"/><rect x="298.1" y="120.9" width="9.8" height="9.5" fill="#EE9430"/><rect x="307.8" y="120.9" width="9.8" height="9.5" fill="#EEBC34"/><rect x="317.4" y="120.9" width="9.8" height="9.5" fill="#F0A030"/><rect x="327.1" y="120.9" width="9.8" height="9.5" fill="#EEBC34"/><rect x="336.7" y="120.9" width="9.8" height="9.5" fill="#ECC434"/><rect x="346.3" y="120.9" width="9.8" height="9.5" fill="#ECC434"/><rect x="356" y="120.9" width="9.8" height="9.5" fill="#E8FC44"/><rect x="365.6" y="120.9" width="9.8" height="9.5" fill="#ECF444"/><rect x="375.3" y="120.9" width="9.8" height="9.5" fill="#ECC434"/><rect x="384.9" y="120.9" width="9.8" height="9.5" fill="#EE9430"/><rect x="394.6" y="120.9" width="9.8" height="9.5" fill="#D0443C"/><rect x="404.2" y="120.9" width="9.8" height="9.5" fill="#D84844"/><rect x="413.8" y="120.9" width="9.8" height="9.5" fill="#EC5866"/><rect x="423.5" y="120.9" width="9.8" height="9.5" fill="#F2B8BE"/><rect x="442.8" y="120.9" width="9.8" height="9.5" fill="#E4E4F2"/><rect x="452.4" y="120.9" width="9.8" height="9.5" fill="#F0A4AC"/><rect x="462" y="120.9" width="9.8" height="9.5" fill="#D84844"/><rect x="471.7" y="120.9" width="9.8" height="9.5" fill="#D84844"/><rect x="481.3" y="120.9" width="9.8" height="9.5" fill="#E04848"/><rect x="491" y="120.9" width="9.8" height="9.5" fill="#F4CCD0"/><rect x="500.6" y="120.9" width="9.8" height="9.5" fill="#F4CCD0"/><rect x="510.3" y="120.9" width="9.8" height="9.5" fill="#E4E4F2"/><rect x="519.9" y="120.9" width="9.8" height="9.5" fill="#66C2D4"/><rect x="529.5" y="120.9" width="9.8" height="9.5" fill="#66C2D4"/><rect x="539.2" y="120.9" width="9.8" height="9.5" fill="#55A8C8"/><rect x="548.8" y="120.9" width="9.8" height="9.5" fill="#2B3AB0"/><rect x="558.5" y="120.9" width="9.8" height="9.5" fill="#66C2D4"/><rect x="568.1" y="120.9" width="9.8" height="9.5" fill="#F08830"/><rect x="577.7" y="120.9" width="9.8" height="9.5" fill="#E86830"/><rect x="587.4" y="120.9" width="9.8" height="9.5" fill="#D84C30"/><rect x="597" y="120.9" width="9.8" height="9.5" fill="#F0A030"/><rect x="606.7" y="120.9" width="9.8" height="9.5" fill="#ECDC3C"/><rect x="616.3" y="120.9" width="9.8" height="9.5" fill="#ECD038"/><rect x="625.9" y="120.9" width="9.8" height="9.5" fill="#EE9430"/><rect x="635.6" y="120.9" width="9.8" height="9.5" fill="#D84C30"/><rect x="645.2" y="120.9" width="9.8" height="9.5" fill="#EE7C86"/><rect x="57.1" y="130.2" width="9.8" height="9.5" fill="#F4CCD0"/><rect x="66.7" y="130.2" width="9.8" height="9.5" fill="#F4CCD0"/><rect x="76.4" y="130.2" width="9.8" height="9.5" fill="#F6E0E2"/><rect x="86" y="130.2" width="9.8" height="9.5" fill="#E4E4F2"/><rect x="95.7" y="130.2" width="9.8" height="9.5" fill="#E4E4F2"/><rect x="105.3" y="130.2" width="9.8" height="9.5" fill="#7CB4D2"/><rect x="114.9" y="130.2" width="9.8" height="9.5" fill="#55A8C8"/><rect x="124.6" y="130.2" width="9.8" height="9.5" fill="#66C2D4"/><rect x="134.2" y="130.2" width="9.8" height="9.5" fill="#CCCAE6"/><rect x="153.5" y="130.2" width="9.8" height="9.5" fill="#E4E4F2"/><rect x="192.1" y="130.2" width="9.8" height="9.5" fill="#A8A4D4"/><rect x="201.7" y="130.2" width="9.8" height="9.5" fill="#3A6AB8"/><rect x="211.4" y="130.2" width="9.8" height="9.5" fill="#36782E"/><rect x="221" y="130.2" width="9.8" height="9.5" fill="#4FA240"/><rect x="230.6" y="130.2" width="9.8" height="9.5" fill="#7CC946"/><rect x="240.3" y="130.2" width="9.8" height="9.5" fill="#B5EA4D"/><rect x="249.9" y="130.2" width="9.8" height="9.5" fill="#B5EA4D"/><rect x="259.6" y="130.2" width="9.8" height="9.5" fill="#B5EA4D"/><rect x="269.2" y="130.2" width="9.8" height="9.5" fill="#4FA240"/><rect x="278.9" y="130.2" width="9.8" height="9.5" fill="#66C2D4"/><rect x="288.5" y="130.2" width="9.8" height="9.5" fill="#EC4C58"/><rect x="298.1" y="130.2" width="9.8" height="9.5" fill="#F07830"/><rect x="307.8" y="130.2" width="9.8" height="9.5" fill="#ECC434"/><rect x="317.4" y="130.2" width="9.8" height="9.5" fill="#EEBC34"/><rect x="327.1" y="130.2" width="9.8" height="9.5" fill="#F0A030"/><rect x="336.7" y="130.2" width="9.8" height="9.5" fill="#F0A030"/><rect x="346.3" y="130.2" width="9.8" height="9.5" fill="#F0A030"/><rect x="356" y="130.2" width="9.8" height="9.5" fill="#ECD038"/><rect x="365.6" y="130.2" width="9.8" height="9.5" fill="#ECD038"/><rect x="375.3" y="130.2" width="9.8" height="9.5" fill="#EEBC34"/><rect x="384.9" y="130.2" width="9.8" height="9.5" fill="#EE9430"/><rect x="394.6" y="130.2" width="9.8" height="9.5" fill="#F08830"/><rect x="404.2" y="130.2" width="9.8" height="9.5" fill="#F07830"/><rect x="413.8" y="130.2" width="9.8" height="9.5" fill="#D84C30"/><rect x="423.5" y="130.2" width="9.8" height="9.5" fill="#D0443C"/><rect x="433.1" y="130.2" width="9.8" height="9.5" fill="#E05A30"/><rect x="442.8" y="130.2" width="9.8" height="9.5" fill="#E86830"/><rect x="452.4" y="130.2" width="9.8" height="9.5" fill="#F07830"/><rect x="462" y="130.2" width="9.8" height="9.5" fill="#ECD038"/><rect x="471.7" y="130.2" width="9.8" height="9.5" fill="#ECE840"/><rect x="481.3" y="130.2" width="9.8" height="9.5" fill="#E05A30"/><rect x="500.6" y="130.2" width="9.8" height="9.5" fill="#F6E0E2"/><rect x="519.9" y="130.2" width="9.8" height="9.5" fill="#66C2D4"/><rect x="529.5" y="130.2" width="9.8" height="9.5" fill="#55A8C8"/><rect x="539.2" y="130.2" width="9.8" height="9.5" fill="#66C2D4"/><rect x="548.8" y="130.2" width="9.8" height="9.5" fill="#55A8C8"/><rect x="558.5" y="130.2" width="9.8" height="9.5" fill="#4A95C4"/><rect x="568.1" y="130.2" width="9.8" height="9.5" fill="#70C4D4"/><rect x="577.7" y="130.2" width="9.8" height="9.5" fill="#70C4D4"/><rect x="587.4" y="130.2" width="9.8" height="9.5" fill="#F4CCD0"/><rect x="597" y="130.2" width="9.8" height="9.5" fill="#D84C30"/><rect x="606.7" y="130.2" width="9.8" height="9.5" fill="#F08830"/><rect x="616.3" y="130.2" width="9.8" height="9.5" fill="#F0A030"/><rect x="625.9" y="130.2" width="9.8" height="9.5" fill="#F07830"/><rect x="635.6" y="130.2" width="9.8" height="9.5" fill="#D84C30"/><rect x="645.2" y="130.2" width="9.8" height="9.5" fill="#D84844"/><rect x="654.9" y="130.2" width="9.8" height="9.5" fill="#EC4C58"/><rect x="664.5" y="130.2" width="9.8" height="9.5" fill="#F6E0E2"/><rect x="66.7" y="139.5" width="9.8" height="9.5" fill="#F2B8BE"/><rect x="76.4" y="139.5" width="9.8" height="9.5" fill="#F6E0E2"/><rect x="86" y="139.5" width="9.8" height="9.5" fill="#BCB8E0"/><rect x="95.7" y="139.5" width="9.8" height="9.5" fill="#55A8C8"/><rect x="105.3" y="139.5" width="9.8" height="9.5" fill="#2B3AB0"/><rect x="114.9" y="139.5" width="9.8" height="9.5" fill="#1B2672"/><rect x="124.6" y="139.5" width="9.8" height="9.5" fill="#3A6AB8"/><rect x="134.2" y="139.5" width="9.8" height="9.5" fill="#66C2D4"/><rect x="143.9" y="139.5" width="9.8" height="9.5" fill="#A8A4D4"/><rect x="153.5" y="139.5" width="9.8" height="9.5" fill="#66C2D4"/><rect x="163.2" y="139.5" width="9.8" height="9.5" fill="#66C2D4"/><rect x="172.8" y="139.5" width="9.8" height="9.5" fill="#BCB8E0"/><rect x="192.1" y="139.5" width="9.8" height="9.5" fill="#66C2D4"/><rect x="201.7" y="139.5" width="9.8" height="9.5" fill="#27581F"/><rect x="211.4" y="139.5" width="9.8" height="9.5" fill="#B5EA4D"/><rect x="221" y="139.5" width="9.8" height="9.5" fill="#B5EA4D"/><rect x="230.6" y="139.5" width="9.8" height="9.5" fill="#B5EA4D"/><rect x="240.3" y="139.5" width="9.8" height="9.5" fill="#B5EA4D"/><rect x="249.9" y="139.5" width="9.8" height="9.5" fill="#B5EA4D"/><rect x="259.6" y="139.5" width="9.8" height="9.5" fill="#B5EA4D"/><rect x="269.2" y="139.5" width="9.8" height="9.5" fill="#4FA240"/><rect x="278.9" y="139.5" width="9.8" height="9.5" fill="#2B3AB0"/><rect x="288.5" y="139.5" width="9.8" height="9.5" fill="#55A8C8"/><rect x="298.1" y="139.5" width="9.8" height="9.5" fill="#EC4C58"/><rect x="307.8" y="139.5" width="9.8" height="9.5" fill="#F07830"/><rect x="317.4" y="139.5" width="9.8" height="9.5" fill="#F08830"/><rect x="327.1" y="139.5" width="9.8" height="9.5" fill="#F07830"/><rect x="336.7" y="139.5" width="9.8" height="9.5" fill="#E05A30"/><rect x="346.3" y="139.5" width="9.8" height="9.5" fill="#D84C30"/><rect x="356" y="139.5" width="9.8" height="9.5" fill="#E05A30"/><rect x="365.6" y="139.5" width="9.8" height="9.5" fill="#E86830"/><rect x="375.3" y="139.5" width="9.8" height="9.5" fill="#F07830"/><rect x="384.9" y="139.5" width="9.8" height="9.5" fill="#F07830"/><rect x="394.6" y="139.5" width="9.8" height="9.5" fill="#EEAC30"/><rect x="404.2" y="139.5" width="9.8" height="9.5" fill="#ECC434"/><rect x="413.8" y="139.5" width="9.8" height="9.5" fill="#EE9430"/><rect x="423.5" y="139.5" width="9.8" height="9.5" fill="#EE9430"/><rect x="433.1" y="139.5" width="9.8" height="9.5" fill="#ECC434"/><rect x="442.8" y="139.5" width="9.8" height="9.5" fill="#E8FC44"/><rect x="452.4" y="139.5" width="9.8" height="9.5" fill="#E8FC44"/><rect x="462" y="139.5" width="9.8" height="9.5" fill="#E8FC44"/><rect x="471.7" y="139.5" width="9.8" height="9.5" fill="#ECF444"/><rect x="481.3" y="139.5" width="9.8" height="9.5" fill="#E86830"/><rect x="491" y="139.5" width="9.8" height="9.5" fill="#A8A4D4"/><rect x="500.6" y="139.5" width="9.8" height="9.5" fill="#E4E4F2"/><rect x="519.9" y="139.5" width="9.8" height="9.5" fill="#70C4D4"/><rect x="529.5" y="139.5" width="9.8" height="9.5" fill="#55A8C8"/><rect x="539.2" y="139.5" width="9.8" height="9.5" fill="#66C2D4"/><rect x="548.8" y="139.5" width="9.8" height="9.5" fill="#55A8C8"/><rect x="558.5" y="139.5" width="9.8" height="9.5" fill="#55A8C8"/><rect x="568.1" y="139.5" width="9.8" height="9.5" fill="#3A6AB8"/><rect x="577.7" y="139.5" width="9.8" height="9.5" fill="#3A6AB8"/><rect x="587.4" y="139.5" width="9.8" height="9.5" fill="#55A8C8"/><rect x="606.7" y="139.5" width="9.8" height="9.5" fill="#D84844"/><rect x="616.3" y="139.5" width="9.8" height="9.5" fill="#E86830"/><rect x="625.9" y="139.5" width="9.8" height="9.5" fill="#E86830"/><rect x="635.6" y="139.5" width="9.8" height="9.5" fill="#D84C30"/><rect x="645.2" y="139.5" width="9.8" height="9.5" fill="#E05A30"/><rect x="654.9" y="139.5" width="9.8" height="9.5" fill="#E04848"/><rect x="664.5" y="139.5" width="9.8" height="9.5" fill="#F4CCD0"/><rect x="66.7" y="148.8" width="9.8" height="9.5" fill="#F6E0E2"/><rect x="86" y="148.8" width="9.8" height="9.5" fill="#66C2D4"/><rect x="95.7" y="148.8" width="9.8" height="9.5" fill="#55A8C8"/><rect x="105.3" y="148.8" width="9.8" height="9.5" fill="#3F7FBE"/><rect x="114.9" y="148.8" width="9.8" height="9.5" fill="#3A6AB8"/><rect x="124.6" y="148.8" width="9.8" height="9.5" fill="#3F7FBE"/><rect x="134.2" y="148.8" width="9.8" height="9.5" fill="#66C2D4"/><rect x="143.9" y="148.8" width="9.8" height="9.5" fill="#A8A4D4"/><rect x="153.5" y="148.8" width="9.8" height="9.5" fill="#66C2D4"/><rect x="163.2" y="148.8" width="9.8" height="9.5" fill="#66C2D4"/><rect x="172.8" y="148.8" width="9.8" height="9.5" fill="#8CA4D0"/><rect x="192.1" y="148.8" width="9.8" height="9.5" fill="#7CB4D2"/><rect x="201.7" y="148.8" width="9.8" height="9.5" fill="#1B2672"/><rect x="211.4" y="148.8" width="9.8" height="9.5" fill="#7CC946"/><rect x="221" y="148.8" width="9.8" height="9.5" fill="#62B646"/><rect x="230.6" y="148.8" width="9.8" height="9.5" fill="#B5EA4D"/><rect x="240.3" y="148.8" width="9.8" height="9.5" fill="#B5EA4D"/><rect x="249.9" y="148.8" width="9.8" height="9.5" fill="#B5EA4D"/><rect x="259.6" y="148.8" width="9.8" height="9.5" fill="#62B646"/><rect x="269.2" y="148.8" width="9.8" height="9.5" fill="#1B3350"/><rect x="278.9" y="148.8" width="9.8" height="9.5" fill="#1F189A"/><rect x="288.5" y="148.8" width="9.8" height="9.5" fill="#3A6AB8"/><rect x="298.1" y="148.8" width="9.8" height="9.5" fill="#66C2D4"/><rect x="307.8" y="148.8" width="9.8" height="9.5" fill="#F2B8BE"/><rect x="317.4" y="148.8" width="9.8" height="9.5" fill="#EC4C58"/><rect x="327.1" y="148.8" width="9.8" height="9.5" fill="#EC4C58"/><rect x="336.7" y="148.8" width="9.8" height="9.5" fill="#EC6C78"/><rect x="346.3" y="148.8" width="9.8" height="9.5" fill="#EC6C78"/><rect x="356" y="148.8" width="9.8" height="9.5" fill="#EC4C58"/><rect x="365.6" y="148.8" width="9.8" height="9.5" fill="#E04848"/><rect x="375.3" y="148.8" width="9.8" height="9.5" fill="#E04848"/><rect x="384.9" y="148.8" width="9.8" height="9.5" fill="#D84844"/><rect x="394.6" y="148.8" width="9.8" height="9.5" fill="#E05A30"/><rect x="404.2" y="148.8" width="9.8" height="9.5" fill="#E05A30"/><rect x="413.8" y="148.8" width="9.8" height="9.5" fill="#D0443C"/><rect x="423.5" y="148.8" width="9.8" height="9.5" fill="#D0443C"/><rect x="433.1" y="148.8" width="9.8" height="9.5" fill="#F07830"/><rect x="442.8" y="148.8" width="9.8" height="9.5" fill="#EE9430"/><rect x="452.4" y="148.8" width="9.8" height="9.5" fill="#EE9430"/><rect x="462" y="148.8" width="9.8" height="9.5" fill="#EE9430"/><rect x="471.7" y="148.8" width="9.8" height="9.5" fill="#F07830"/><rect x="481.3" y="148.8" width="9.8" height="9.5" fill="#D84844"/><rect x="500.6" y="148.8" width="9.8" height="9.5" fill="#9C98D0"/><rect x="519.9" y="148.8" width="9.8" height="9.5" fill="#CCCAE6"/><rect x="529.5" y="148.8" width="9.8" height="9.5" fill="#9C98D0"/><rect x="539.2" y="148.8" width="9.8" height="9.5" fill="#9C98D0"/><rect x="548.8" y="148.8" width="9.8" height="9.5" fill="#9C98D0"/><rect x="558.5" y="148.8" width="9.8" height="9.5" fill="#66C2D4"/><rect x="568.1" y="148.8" width="9.8" height="9.5" fill="#66C2D4"/><rect x="577.7" y="148.8" width="9.8" height="9.5" fill="#66C2D4"/><rect x="587.4" y="148.8" width="9.8" height="9.5" fill="#66C2D4"/><rect x="597" y="148.8" width="9.8" height="9.5" fill="#8CA4D0"/><rect x="606.7" y="148.8" width="9.8" height="9.5" fill="#F4CCD0"/><rect x="616.3" y="148.8" width="9.8" height="9.5" fill="#EC4C58"/><rect x="625.9" y="148.8" width="9.8" height="9.5" fill="#EC4C58"/><rect x="635.6" y="148.8" width="9.8" height="9.5" fill="#EC4C58"/><rect x="645.2" y="148.8" width="9.8" height="9.5" fill="#EC4C58"/><rect x="654.9" y="148.8" width="9.8" height="9.5" fill="#EC4C58"/><rect x="664.5" y="148.8" width="9.8" height="9.5" fill="#F6E0E2"/><rect x="86" y="158.2" width="9.8" height="9.5" fill="#9C98D0"/><rect x="95.7" y="158.2" width="9.8" height="9.5" fill="#66C2D4"/><rect x="105.3" y="158.2" width="9.8" height="9.5" fill="#A8A4D4"/><rect x="114.9" y="158.2" width="9.8" height="9.5" fill="#E4E4F2"/><rect x="124.6" y="158.2" width="9.8" height="9.5" fill="#CCCAE6"/><rect x="134.2" y="158.2" width="9.8" height="9.5" fill="#CCCAE6"/><rect x="143.9" y="158.2" width="9.8" height="9.5" fill="#E4E4F2"/><rect x="153.5" y="158.2" width="9.8" height="9.5" fill="#E4E4F2"/><rect x="163.2" y="158.2" width="9.8" height="9.5" fill="#9C98D0"/><rect x="172.8" y="158.2" width="9.8" height="9.5" fill="#BCB8E0"/><rect x="182.4" y="158.2" width="9.8" height="9.5" fill="#E4E4F2"/><rect x="192.1" y="158.2" width="9.8" height="9.5" fill="#CCCAE6"/><rect x="201.7" y="158.2" width="9.8" height="9.5" fill="#55A8C8"/><rect x="211.4" y="158.2" width="9.8" height="9.5" fill="#2B3AB0"/><rect x="221" y="158.2" width="9.8" height="9.5" fill="#3F7FBE"/><rect x="230.6" y="158.2" width="9.8" height="9.5" fill="#3F7FBE"/><rect x="240.3" y="158.2" width="9.8" height="9.5" fill="#1F189A"/><rect x="249.9" y="158.2" width="9.8" height="9.5" fill="#1F189A"/><rect x="259.6" y="158.2" width="9.8" height="9.5" fill="#2F50AE"/><rect x="269.2" y="158.2" width="9.8" height="9.5" fill="#3F7FBE"/><rect x="278.9" y="158.2" width="9.8" height="9.5" fill="#3F7FBE"/><rect x="288.5" y="158.2" width="9.8" height="9.5" fill="#55A8C8"/><rect x="298.1" y="158.2" width="9.8" height="9.5" fill="#66C2D4"/><rect x="307.8" y="158.2" width="9.8" height="9.5" fill="#66C2D4"/><rect x="317.4" y="158.2" width="9.8" height="9.5" fill="#66C2D4"/><rect x="327.1" y="158.2" width="9.8" height="9.5" fill="#66C2D4"/><rect x="336.7" y="158.2" width="9.8" height="9.5" fill="#66C2D4"/><rect x="346.3" y="158.2" width="9.8" height="9.5" fill="#8CA4D0"/><rect x="356" y="158.2" width="9.8" height="9.5" fill="#E4E4F2"/><rect x="365.6" y="158.2" width="9.8" height="9.5" fill="#F6E0E2"/><rect x="375.3" y="158.2" width="9.8" height="9.5" fill="#F2B8BE"/><rect x="384.9" y="158.2" width="9.8" height="9.5" fill="#F2B8BE"/><rect x="394.6" y="158.2" width="9.8" height="9.5" fill="#F2B8BE"/><rect x="404.2" y="158.2" width="9.8" height="9.5" fill="#F2B8BE"/><rect x="413.8" y="158.2" width="9.8" height="9.5" fill="#F4CCD0"/><rect x="423.5" y="158.2" width="9.8" height="9.5" fill="#F4CCD0"/><rect x="433.1" y="158.2" width="9.8" height="9.5" fill="#EE7C86"/><rect x="442.8" y="158.2" width="9.8" height="9.5" fill="#EC4C58"/><rect x="452.4" y="158.2" width="9.8" height="9.5" fill="#EC4C58"/><rect x="462" y="158.2" width="9.8" height="9.5" fill="#EC6C78"/><rect x="471.7" y="158.2" width="9.8" height="9.5" fill="#EC6C78"/><rect x="481.3" y="158.2" width="9.8" height="9.5" fill="#EC6C78"/><rect x="491" y="158.2" width="9.8" height="9.5" fill="#F4CCD0"/><rect x="500.6" y="158.2" width="9.8" height="9.5" fill="#E4E4F2"/><rect x="577.7" y="158.2" width="9.8" height="9.5" fill="#E4E4F2"/><rect x="635.6" y="158.2" width="9.8" height="9.5" fill="#F6E0E2"/><rect x="645.2" y="158.2" width="9.8" height="9.5" fill="#F4CCD0"/><rect x="654.9" y="158.2" width="9.8" height="9.5" fill="#F6E0E2"/><rect x="95.7" y="167.5" width="9.8" height="9.5" fill="#CCCAE6"/><rect x="105.3" y="167.5" width="9.8" height="9.5" fill="#E4E4F2"/><rect x="124.6" y="167.5" width="9.8" height="9.5" fill="#F4CCD0"/><rect x="134.2" y="167.5" width="9.8" height="9.5" fill="#F4CCD0"/><rect x="143.9" y="167.5" width="9.8" height="9.5" fill="#F6E0E2"/><rect x="201.7" y="167.5" width="9.8" height="9.5" fill="#7CB4D2"/><rect x="211.4" y="167.5" width="9.8" height="9.5" fill="#66C2D4"/><rect x="221" y="167.5" width="9.8" height="9.5" fill="#A8A4D4"/><rect x="230.6" y="167.5" width="9.8" height="9.5" fill="#CCCAE6"/><rect x="240.3" y="167.5" width="9.8" height="9.5" fill="#8CA4D0"/><rect x="249.9" y="167.5" width="9.8" height="9.5" fill="#7CB4D2"/><rect x="259.6" y="167.5" width="9.8" height="9.5" fill="#8CA4D0"/><rect x="269.2" y="167.5" width="9.8" height="9.5" fill="#8CA4D0"/><rect x="278.9" y="167.5" width="9.8" height="9.5" fill="#66C2D4"/><rect x="288.5" y="167.5" width="9.8" height="9.5" fill="#66C2D4"/><rect x="298.1" y="167.5" width="9.8" height="9.5" fill="#A8A4D4"/><rect x="307.8" y="167.5" width="9.8" height="9.5" fill="#A8A4D4"/><rect x="317.4" y="167.5" width="9.8" height="9.5" fill="#9C98D0"/><rect x="327.1" y="167.5" width="9.8" height="9.5" fill="#9C98D0"/><rect x="336.7" y="167.5" width="9.8" height="9.5" fill="#9C98D0"/><rect x="346.3" y="167.5" width="9.8" height="9.5" fill="#BCB8E0"/><rect x="76.4" y="176.8" width="9.8" height="9.5" fill="#E4E4F2"/><rect x="86" y="176.8" width="9.8" height="9.5" fill="#CCCAE6"/><rect x="95.7" y="176.8" width="9.8" height="9.5" fill="#E4E4F2"/><rect x="124.6" y="176.8" width="9.8" height="9.5" fill="#E4E4F2"/><rect x="153.5" y="176.8" width="9.8" height="9.5" fill="#E4E4F2"/><rect x="163.2" y="176.8" width="9.8" height="9.5" fill="#E4E4F2"/><rect x="259.6" y="176.8" width="9.8" height="9.5" fill="#F6E0E2"/><rect x="269.2" y="176.8" width="9.8" height="9.5" fill="#F6E0E2"/><rect x="66.7" y="186.1" width="9.8" height="9.5" fill="#55A8C8"/><rect x="76.4" y="186.1" width="9.8" height="9.5" fill="#4A95C4"/><rect x="86" y="186.1" width="9.8" height="9.5" fill="#55A8C8"/><rect x="95.7" y="186.1" width="9.8" height="9.5" fill="#8CA4D0"/><rect x="105.3" y="186.1" width="9.8" height="9.5" fill="#66C2D4"/><rect x="114.9" y="186.1" width="9.8" height="9.5" fill="#55A8C8"/><rect x="124.6" y="186.1" width="9.8" height="9.5" fill="#66C2D4"/><rect x="134.2" y="186.1" width="9.8" height="9.5" fill="#3F7FBE"/><rect x="143.9" y="186.1" width="9.8" height="9.5" fill="#3F7FBE"/><rect x="153.5" y="186.1" width="9.8" height="9.5" fill="#3F7FBE"/><rect x="163.2" y="186.1" width="9.8" height="9.5" fill="#66C2D4"/><rect x="172.8" y="186.1" width="9.8" height="9.5" fill="#A8A4D4"/><rect x="182.4" y="186.1" width="9.8" height="9.5" fill="#E4E4F2"/><rect x="192.1" y="186.1" width="9.8" height="9.5" fill="#F4CCD0"/><rect x="211.4" y="186.1" width="9.8" height="9.5" fill="#8CA4D0"/><rect x="221" y="186.1" width="9.8" height="9.5" fill="#66C2D4"/><rect x="230.6" y="186.1" width="9.8" height="9.5" fill="#66C2D4"/><rect x="240.3" y="186.1" width="9.8" height="9.5" fill="#8CA4D0"/><rect x="249.9" y="186.1" width="9.8" height="9.5" fill="#E4E4F2"/><rect x="259.6" y="186.1" width="9.8" height="9.5" fill="#CCCAE6"/><rect x="269.2" y="186.1" width="9.8" height="9.5" fill="#CCCAE6"/><rect x="278.9" y="186.1" width="9.8" height="9.5" fill="#A8A4D4"/><rect x="288.5" y="186.1" width="9.8" height="9.5" fill="#A8A4D4"/><rect x="298.1" y="186.1" width="9.8" height="9.5" fill="#F2B8BE"/><rect x="307.8" y="186.1" width="9.8" height="9.5" fill="#EE9098"/><rect x="327.1" y="186.1" width="9.8" height="9.5" fill="#8CA4D0"/><rect x="336.7" y="186.1" width="9.8" height="9.5" fill="#55A8C8"/><rect x="346.3" y="186.1" width="9.8" height="9.5" fill="#55A8C8"/><rect x="356" y="186.1" width="9.8" height="9.5" fill="#66C2D4"/><rect x="365.6" y="186.1" width="9.8" height="9.5" fill="#E4E4F2"/><rect x="66.7" y="195.4" width="9.8" height="9.5" fill="#55A8C8"/><rect x="76.4" y="195.4" width="9.8" height="9.5" fill="#2F50AE"/><rect x="86" y="195.4" width="9.8" height="9.5" fill="#3F7FBE"/><rect x="95.7" y="195.4" width="9.8" height="9.5" fill="#3F7FBE"/><rect x="105.3" y="195.4" width="9.8" height="9.5" fill="#1B3350"/><rect x="114.9" y="195.4" width="9.8" height="9.5" fill="#1B3350"/><rect x="124.6" y="195.4" width="9.8" height="9.5" fill="#1F189A"/><rect x="134.2" y="195.4" width="9.8" height="9.5" fill="#27581F"/><rect x="143.9" y="195.4" width="9.8" height="9.5" fill="#4FA240"/><rect x="153.5" y="195.4" width="9.8" height="9.5" fill="#27581F"/><rect x="163.2" y="195.4" width="9.8" height="9.5" fill="#3F7FBE"/><rect x="172.8" y="195.4" width="9.8" height="9.5" fill="#BCB8E0"/><rect x="182.4" y="195.4" width="9.8" height="9.5" fill="#7CB4D2"/><rect x="192.1" y="195.4" width="9.8" height="9.5" fill="#7CB4D2"/><rect x="201.7" y="195.4" width="9.8" height="9.5" fill="#70C4D4"/><rect x="211.4" y="195.4" width="9.8" height="9.5" fill="#55A8C8"/><rect x="221" y="195.4" width="9.8" height="9.5" fill="#1F189A"/><rect x="230.6" y="195.4" width="9.8" height="9.5" fill="#1F189A"/><rect x="240.3" y="195.4" width="9.8" height="9.5" fill="#66C2D4"/><rect x="249.9" y="195.4" width="9.8" height="9.5" fill="#CCCAE6"/><rect x="259.6" y="195.4" width="9.8" height="9.5" fill="#66C2D4"/><rect x="269.2" y="195.4" width="9.8" height="9.5" fill="#CCCAE6"/><rect x="298.1" y="195.4" width="9.8" height="9.5" fill="#E04848"/><rect x="307.8" y="195.4" width="9.8" height="9.5" fill="#EC4C58"/><rect x="317.4" y="195.4" width="9.8" height="9.5" fill="#66C2D4"/><rect x="327.1" y="195.4" width="9.8" height="9.5" fill="#3F7FBE"/><rect x="336.7" y="195.4" width="9.8" height="9.5" fill="#1F189A"/><rect x="346.3" y="195.4" width="9.8" height="9.5" fill="#1B2672"/><rect x="356" y="195.4" width="9.8" height="9.5" fill="#3A6AB8"/><rect x="365.6" y="195.4" width="9.8" height="9.5" fill="#66C2D4"/><rect x="375.3" y="195.4" width="9.8" height="9.5" fill="#A8A4D4"/><rect x="384.9" y="195.4" width="9.8" height="9.5" fill="#8CA4D0"/><rect x="394.6" y="195.4" width="9.8" height="9.5" fill="#8CA4D0"/><rect x="404.2" y="195.4" width="9.8" height="9.5" fill="#CCCAE6"/><rect x="57.1" y="204.8" width="9.8" height="9.5" fill="#EE7C86"/><rect x="66.7" y="204.8" width="9.8" height="9.5" fill="#EE9098"/><rect x="76.4" y="204.8" width="9.8" height="9.5" fill="#55A8C8"/><rect x="86" y="204.8" width="9.8" height="9.5" fill="#3F7FBE"/><rect x="95.7" y="204.8" width="9.8" height="9.5" fill="#1F4432"/><rect x="105.3" y="204.8" width="9.8" height="9.5" fill="#95D944"/><rect x="114.9" y="204.8" width="9.8" height="9.5" fill="#7CC946"/><rect x="124.6" y="204.8" width="9.8" height="9.5" fill="#36782E"/><rect x="134.2" y="204.8" width="9.8" height="9.5" fill="#62B646"/><rect x="143.9" y="204.8" width="9.8" height="9.5" fill="#95D944"/><rect x="153.5" y="204.8" width="9.8" height="9.5" fill="#36782E"/><rect x="163.2" y="204.8" width="9.8" height="9.5" fill="#55A8C8"/><rect x="172.8" y="204.8" width="9.8" height="9.5" fill="#EE7C86"/><rect x="182.4" y="204.8" width="9.8" height="9.5" fill="#70C4D4"/><rect x="192.1" y="204.8" width="9.8" height="9.5" fill="#66C2D4"/><rect x="201.7" y="204.8" width="9.8" height="9.5" fill="#9C98D0"/><rect x="211.4" y="204.8" width="9.8" height="9.5" fill="#55A8C8"/><rect x="221" y="204.8" width="9.8" height="9.5" fill="#1B2672"/><rect x="230.6" y="204.8" width="9.8" height="9.5" fill="#1F189A"/><rect x="240.3" y="204.8" width="9.8" height="9.5" fill="#66C2D4"/><rect x="249.9" y="204.8" width="9.8" height="9.5" fill="#BCB8E0"/><rect x="259.6" y="204.8" width="9.8" height="9.5" fill="#66C2D4"/><rect x="269.2" y="204.8" width="9.8" height="9.5" fill="#F2B8BE"/><rect x="278.9" y="204.8" width="9.8" height="9.5" fill="#E04848"/><rect x="288.5" y="204.8" width="9.8" height="9.5" fill="#D0443C"/><rect x="298.1" y="204.8" width="9.8" height="9.5" fill="#D0443C"/><rect x="307.8" y="204.8" width="9.8" height="9.5" fill="#F6E0E2"/><rect x="317.4" y="204.8" width="9.8" height="9.5" fill="#3F7FBE"/><rect x="327.1" y="204.8" width="9.8" height="9.5" fill="#2B3AB0"/><rect x="336.7" y="204.8" width="9.8" height="9.5" fill="#1F189A"/><rect x="346.3" y="204.8" width="9.8" height="9.5" fill="#2B3AB0"/><rect x="356" y="204.8" width="9.8" height="9.5" fill="#3F7FBE"/><rect x="365.6" y="204.8" width="9.8" height="9.5" fill="#66C2D4"/><rect x="375.3" y="204.8" width="9.8" height="9.5" fill="#66C2D4"/><rect x="384.9" y="204.8" width="9.8" height="9.5" fill="#55A8C8"/><rect x="394.6" y="204.8" width="9.8" height="9.5" fill="#55A8C8"/><rect x="404.2" y="204.8" width="9.8" height="9.5" fill="#66C2D4"/><rect x="413.8" y="204.8" width="9.8" height="9.5" fill="#E4E4F2"/><rect x="423.5" y="204.8" width="9.8" height="9.5" fill="#CCCAE6"/><rect x="433.1" y="204.8" width="9.8" height="9.5" fill="#E4E4F2"/><rect x="442.8" y="204.8" width="9.8" height="9.5" fill="#E4E4F2"/><rect x="452.4" y="204.8" width="9.8" height="9.5" fill="#CCCAE6"/><rect x="462" y="204.8" width="9.8" height="9.5" fill="#E4E4F2"/><rect x="57.1" y="214.1" width="9.8" height="9.5" fill="#EC4C58"/><rect x="66.7" y="214.1" width="9.8" height="9.5" fill="#D84844"/><rect x="76.4" y="214.1" width="9.8" height="9.5" fill="#E4E4F2"/><rect x="86" y="214.1" width="9.8" height="9.5" fill="#3A6AB8"/><rect x="95.7" y="214.1" width="9.8" height="9.5" fill="#27581F"/><rect x="105.3" y="214.1" width="9.8" height="9.5" fill="#95D944"/><rect x="114.9" y="214.1" width="9.8" height="9.5" fill="#7CC946"/><rect x="124.6" y="214.1" width="9.8" height="9.5" fill="#36782E"/><rect x="134.2" y="214.1" width="9.8" height="9.5" fill="#36782E"/><rect x="143.9" y="214.1" width="9.8" height="9.5" fill="#27581F"/><rect x="153.5" y="214.1" width="9.8" height="9.5" fill="#1F189A"/><rect x="163.2" y="214.1" width="9.8" height="9.5" fill="#CCCAE6"/><rect x="172.8" y="214.1" width="9.8" height="9.5" fill="#EC4C58"/><rect x="192.1" y="214.1" width="9.8" height="9.5" fill="#9C98D0"/><rect x="201.7" y="214.1" width="9.8" height="9.5" fill="#EC4C58"/><rect x="211.4" y="214.1" width="9.8" height="9.5" fill="#EC4C58"/><rect x="221" y="214.1" width="9.8" height="9.5" fill="#66C2D4"/><rect x="230.6" y="214.1" width="9.8" height="9.5" fill="#66C2D4"/><rect x="240.3" y="214.1" width="9.8" height="9.5" fill="#CCCAE6"/><rect x="249.9" y="214.1" width="9.8" height="9.5" fill="#CCCAE6"/><rect x="259.6" y="214.1" width="9.8" height="9.5" fill="#BCB8E0"/><rect x="269.2" y="214.1" width="9.8" height="9.5" fill="#EE9098"/><rect x="278.9" y="214.1" width="9.8" height="9.5" fill="#E04848"/><rect x="288.5" y="214.1" width="9.8" height="9.5" fill="#D84C30"/><rect x="298.1" y="214.1" width="9.8" height="9.5" fill="#D0443C"/><rect x="317.4" y="214.1" width="9.8" height="9.5" fill="#4A95C4"/><rect x="327.1" y="214.1" width="9.8" height="9.5" fill="#4A95C4"/><rect x="336.7" y="214.1" width="9.8" height="9.5" fill="#4A95C4"/><rect x="346.3" y="214.1" width="9.8" height="9.5" fill="#66C2D4"/><rect x="375.3" y="214.1" width="9.8" height="9.5" fill="#8CA4D0"/><rect x="384.9" y="214.1" width="9.8" height="9.5" fill="#55A8C8"/><rect x="394.6" y="214.1" width="9.8" height="9.5" fill="#4A95C4"/><rect x="404.2" y="214.1" width="9.8" height="9.5" fill="#66C2D4"/><rect x="413.8" y="214.1" width="9.8" height="9.5" fill="#7CB4D2"/><rect x="423.5" y="214.1" width="9.8" height="9.5" fill="#66C2D4"/><rect x="433.1" y="214.1" width="9.8" height="9.5" fill="#66C2D4"/><rect x="442.8" y="214.1" width="9.8" height="9.5" fill="#8CA4D0"/><rect x="452.4" y="214.1" width="9.8" height="9.5" fill="#7CB4D2"/><rect x="462" y="214.1" width="9.8" height="9.5" fill="#9C98D0"/><rect x="471.7" y="214.1" width="9.8" height="9.5" fill="#CCCAE6"/><rect x="481.3" y="214.1" width="9.8" height="9.5" fill="#E4E4F2"/><rect x="625.9" y="214.1" width="9.8" height="9.5" fill="#E4E4F2"/><rect x="635.6" y="214.1" width="9.8" height="9.5" fill="#E4E4F2"/><rect x="57.1" y="223.4" width="9.8" height="9.5" fill="#EC4C58"/><rect x="66.7" y="223.4" width="9.8" height="9.5" fill="#EC4C58"/><rect x="76.4" y="223.4" width="9.8" height="9.5" fill="#7CB4D2"/><rect x="86" y="223.4" width="9.8" height="9.5" fill="#55A8C8"/><rect x="95.7" y="223.4" width="9.8" height="9.5" fill="#3F7FBE"/><rect x="105.3" y="223.4" width="9.8" height="9.5" fill="#2B3AB0"/><rect x="114.9" y="223.4" width="9.8" height="9.5" fill="#2F50AE"/><rect x="124.6" y="223.4" width="9.8" height="9.5" fill="#2F50AE"/><rect x="134.2" y="223.4" width="9.8" height="9.5" fill="#2F50AE"/><rect x="143.9" y="223.4" width="9.8" height="9.5" fill="#3F7FBE"/><rect x="153.5" y="223.4" width="9.8" height="9.5" fill="#66C2D4"/><rect x="172.8" y="223.4" width="9.8" height="9.5" fill="#F0A4AC"/><rect x="182.4" y="223.4" width="9.8" height="9.5" fill="#F4CCD0"/><rect x="192.1" y="223.4" width="9.8" height="9.5" fill="#F2B8BE"/><rect x="201.7" y="223.4" width="9.8" height="9.5" fill="#EC4C58"/><rect x="211.4" y="223.4" width="9.8" height="9.5" fill="#EC4C58"/><rect x="221" y="223.4" width="9.8" height="9.5" fill="#EC5866"/><rect x="278.9" y="223.4" width="9.8" height="9.5" fill="#F2B8BE"/><rect x="288.5" y="223.4" width="9.8" height="9.5" fill="#E04848"/><rect x="298.1" y="223.4" width="9.8" height="9.5" fill="#E04848"/><rect x="307.8" y="223.4" width="9.8" height="9.5" fill="#EC4C58"/><rect x="327.1" y="223.4" width="9.8" height="9.5" fill="#E4E4F2"/><rect x="336.7" y="223.4" width="9.8" height="9.5" fill="#E4E4F2"/><rect x="346.3" y="223.4" width="9.8" height="9.5" fill="#E4E4F2"/><rect x="356" y="223.4" width="9.8" height="9.5" fill="#F2B8BE"/><rect x="365.6" y="223.4" width="9.8" height="9.5" fill="#F4CCD0"/><rect x="375.3" y="223.4" width="9.8" height="9.5" fill="#F4CCD0"/><rect x="384.9" y="223.4" width="9.8" height="9.5" fill="#E4E4F2"/><rect x="394.6" y="223.4" width="9.8" height="9.5" fill="#66C2D4"/><rect x="404.2" y="223.4" width="9.8" height="9.5" fill="#7CB4D2"/><rect x="413.8" y="223.4" width="9.8" height="9.5" fill="#70C4D4"/><rect x="423.5" y="223.4" width="9.8" height="9.5" fill="#4A95C4"/><rect x="433.1" y="223.4" width="9.8" height="9.5" fill="#55A8C8"/><rect x="442.8" y="223.4" width="9.8" height="9.5" fill="#66C2D4"/><rect x="452.4" y="223.4" width="9.8" height="9.5" fill="#66C2D4"/><rect x="462" y="223.4" width="9.8" height="9.5" fill="#8CA4D0"/><rect x="471.7" y="223.4" width="9.8" height="9.5" fill="#A8A4D4"/><rect x="481.3" y="223.4" width="9.8" height="9.5" fill="#CCCAE6"/><rect x="625.9" y="223.4" width="9.8" height="9.5" fill="#E4E4F2"/><rect x="635.6" y="223.4" width="9.8" height="9.5" fill="#CCCAE6"/><rect x="645.2" y="223.4" width="9.8" height="9.5" fill="#E4E4F2"/><rect x="66.7" y="232.7" width="9.8" height="9.5" fill="#9C98D0"/><rect x="76.4" y="232.7" width="9.8" height="9.5" fill="#7CB4D2"/><rect x="95.7" y="232.7" width="9.8" height="9.5" fill="#F6E0E2"/><rect x="105.3" y="232.7" width="9.8" height="9.5" fill="#BCB8E0"/><rect x="114.9" y="232.7" width="9.8" height="9.5" fill="#A8A4D4"/><rect x="124.6" y="232.7" width="9.8" height="9.5" fill="#8CA4D0"/><rect x="134.2" y="232.7" width="9.8" height="9.5" fill="#7CB4D2"/><rect x="143.9" y="232.7" width="9.8" height="9.5" fill="#A8A4D4"/><rect x="153.5" y="232.7" width="9.8" height="9.5" fill="#CCCAE6"/><rect x="201.7" y="232.7" width="9.8" height="9.5" fill="#F6E0E2"/><rect x="211.4" y="232.7" width="9.8" height="9.5" fill="#F2B8BE"/><rect x="221" y="232.7" width="9.8" height="9.5" fill="#F6E0E2"/><rect x="298.1" y="232.7" width="9.8" height="9.5" fill="#EE7C86"/><rect x="307.8" y="232.7" width="9.8" height="9.5" fill="#EC4C58"/><rect x="317.4" y="232.7" width="9.8" height="9.5" fill="#EE7C86"/><rect x="327.1" y="232.7" width="9.8" height="9.5" fill="#F2B8BE"/><rect x="336.7" y="232.7" width="9.8" height="9.5" fill="#F4CCD0"/><rect x="356" y="232.7" width="9.8" height="9.5" fill="#CCCAE6"/><rect x="365.6" y="232.7" width="9.8" height="9.5" fill="#E4E4F2"/><rect x="375.3" y="232.7" width="9.8" height="9.5" fill="#F0A4AC"/><rect x="384.9" y="232.7" width="9.8" height="9.5" fill="#F0A4AC"/><rect x="404.2" y="232.7" width="9.8" height="9.5" fill="#E4E4F2"/><rect x="413.8" y="232.7" width="9.8" height="9.5" fill="#BCB8E0"/><rect x="423.5" y="232.7" width="9.8" height="9.5" fill="#70C4D4"/><rect x="433.1" y="232.7" width="9.8" height="9.5" fill="#66C2D4"/><rect x="442.8" y="232.7" width="9.8" height="9.5" fill="#A8A4D4"/><rect x="452.4" y="232.7" width="9.8" height="9.5" fill="#BCB8E0"/><rect x="462" y="232.7" width="9.8" height="9.5" fill="#BCB8E0"/><rect x="471.7" y="232.7" width="9.8" height="9.5" fill="#CCCAE6"/><rect x="481.3" y="232.7" width="9.8" height="9.5" fill="#E4E4F2"/><rect x="616.3" y="232.7" width="9.8" height="9.5" fill="#F6E0E2"/><rect x="635.6" y="232.7" width="9.8" height="9.5" fill="#E4E4F2"/><rect x="66.7" y="242" width="9.8" height="9.5" fill="#CCCAE6"/><rect x="76.4" y="242" width="9.8" height="9.5" fill="#E4E4F2"/><rect x="86" y="242" width="9.8" height="9.5" fill="#F6E0E2"/><rect x="95.7" y="242" width="9.8" height="9.5" fill="#F6E0E2"/><rect x="124.6" y="242" width="9.8" height="9.5" fill="#F6E0E2"/><rect x="134.2" y="242" width="9.8" height="9.5" fill="#F6E0E2"/><rect x="298.1" y="242" width="9.8" height="9.5" fill="#F6E0E2"/><rect x="307.8" y="242" width="9.8" height="9.5" fill="#F0A4AC"/><rect x="317.4" y="242" width="9.8" height="9.5" fill="#F2B8BE"/><rect x="327.1" y="242" width="9.8" height="9.5" fill="#F6E0E2"/><rect x="336.7" y="242" width="9.8" height="9.5" fill="#F6E0E2"/><rect x="375.3" y="242" width="9.8" height="9.5" fill="#F6E0E2"/><rect x="384.9" y="242" width="9.8" height="9.5" fill="#F6E0E2"/><rect x="616.3" y="242" width="9.8" height="9.5" fill="#F6E0E2"/><rect x="625.9" y="242" width="9.8" height="9.5" fill="#F6E0E2"/></g>
<g fill="#fff"><circle cx="611.5" cy="78.9" r="1.25"/><circle cx="621.1" cy="78.9" r="1.25"/><circle cx="630.8" cy="78.9" r="1.25"/><circle cx="293.3" cy="88.3" r="1.25"/><circle cx="360.8" cy="88.3" r="1.25"/><circle cx="370.4" cy="88.3" r="1.25"/><circle cx="380.1" cy="88.3" r="1.25"/><circle cx="611.5" cy="88.3" r="1.25"/><circle cx="621.1" cy="88.3" r="1.25"/><circle cx="303" cy="97.6" r="1.25"/><circle cx="312.6" cy="97.6" r="1.25"/><circle cx="331.9" cy="97.6" r="1.25"/><circle cx="341.5" cy="97.6" r="1.25"/><circle cx="351.2" cy="97.6" r="1.25"/><circle cx="360.8" cy="97.6" r="1.25"/><circle cx="370.4" cy="97.6" r="1.25"/><circle cx="380.1" cy="97.6" r="1.25"/><circle cx="611.5" cy="97.6" r="1.25"/><circle cx="621.1" cy="97.6" r="1.25"/><circle cx="322.2" cy="106.9" r="1.25"/><circle cx="331.9" cy="106.9" r="1.25"/><circle cx="341.5" cy="106.9" r="1.25"/><circle cx="351.2" cy="106.9" r="1.25"/><circle cx="360.8" cy="106.9" r="1.25"/><circle cx="370.4" cy="106.9" r="1.25"/><circle cx="380.1" cy="106.9" r="1.25"/><circle cx="389.7" cy="106.9" r="1.25"/><circle cx="399.4" cy="106.9" r="1.25"/><circle cx="601.8" cy="106.9" r="1.25"/><circle cx="611.5" cy="106.9" r="1.25"/><circle cx="621.1" cy="106.9" r="1.25"/><circle cx="630.8" cy="106.9" r="1.25"/><circle cx="640.4" cy="106.9" r="1.25"/><circle cx="322.2" cy="116.2" r="1.25"/><circle cx="331.9" cy="116.2" r="1.25"/><circle cx="341.5" cy="116.2" r="1.25"/><circle cx="351.2" cy="116.2" r="1.25"/><circle cx="360.8" cy="116.2" r="1.25"/><circle cx="370.4" cy="116.2" r="1.25"/><circle cx="380.1" cy="116.2" r="1.25"/><circle cx="389.7" cy="116.2" r="1.25"/><circle cx="399.4" cy="116.2" r="1.25"/><circle cx="409" cy="116.2" r="1.25"/><circle cx="601.8" cy="116.2" r="1.25"/><circle cx="611.5" cy="116.2" r="1.25"/><circle cx="621.1" cy="116.2" r="1.25"/><circle cx="630.8" cy="116.2" r="1.25"/><circle cx="640.4" cy="116.2" r="1.25"/><circle cx="254.8" cy="125.5" r="1.25"/><circle cx="312.6" cy="125.5" r="1.25"/><circle cx="322.2" cy="125.5" r="1.25"/><circle cx="331.9" cy="125.5" r="1.25"/><circle cx="341.5" cy="125.5" r="1.25"/><circle cx="351.2" cy="125.5" r="1.25"/><circle cx="360.8" cy="125.5" r="1.25"/><circle cx="370.4" cy="125.5" r="1.25"/><circle cx="380.1" cy="125.5" r="1.25"/><circle cx="389.7" cy="125.5" r="1.25"/><circle cx="399.4" cy="125.5" r="1.25"/><circle cx="409" cy="125.5" r="1.25"/><circle cx="466.9" cy="125.5" r="1.25"/><circle cx="611.5" cy="125.5" r="1.25"/><circle cx="621.1" cy="125.5" r="1.25"/><circle cx="630.8" cy="125.5" r="1.25"/><circle cx="206.5" cy="134.9" r="1.25"/><circle cx="216.2" cy="134.9" r="1.25"/><circle cx="225.8" cy="134.9" r="1.25"/><circle cx="245.1" cy="134.9" r="1.25"/><circle cx="254.8" cy="134.9" r="1.25"/><circle cx="264.4" cy="134.9" r="1.25"/><circle cx="312.6" cy="134.9" r="1.25"/><circle cx="322.2" cy="134.9" r="1.25"/><circle cx="331.9" cy="134.9" r="1.25"/><circle cx="341.5" cy="134.9" r="1.25"/><circle cx="351.2" cy="134.9" r="1.25"/><circle cx="360.8" cy="134.9" r="1.25"/><circle cx="370.4" cy="134.9" r="1.25"/><circle cx="380.1" cy="134.9" r="1.25"/><circle cx="389.7" cy="134.9" r="1.25"/><circle cx="399.4" cy="134.9" r="1.25"/><circle cx="409" cy="134.9" r="1.25"/><circle cx="418.7" cy="134.9" r="1.25"/><circle cx="428.3" cy="134.9" r="1.25"/><circle cx="437.9" cy="134.9" r="1.25"/><circle cx="447.6" cy="134.9" r="1.25"/><circle cx="457.2" cy="134.9" r="1.25"/><circle cx="466.9" cy="134.9" r="1.25"/><circle cx="476.5" cy="134.9" r="1.25"/><circle cx="621.1" cy="134.9" r="1.25"/><circle cx="630.8" cy="134.9" r="1.25"/><circle cx="650.1" cy="134.9" r="1.25"/><circle cx="659.7" cy="134.9" r="1.25"/><circle cx="196.9" cy="144.2" r="1.25"/><circle cx="206.5" cy="144.2" r="1.25"/><circle cx="216.2" cy="144.2" r="1.25"/><circle cx="225.8" cy="144.2" r="1.25"/><circle cx="245.1" cy="144.2" r="1.25"/><circle cx="254.8" cy="144.2" r="1.25"/><circle cx="264.4" cy="144.2" r="1.25"/><circle cx="331.9" cy="144.2" r="1.25"/><circle cx="341.5" cy="144.2" r="1.25"/><circle cx="351.2" cy="144.2" r="1.25"/><circle cx="360.8" cy="144.2" r="1.25"/><circle cx="370.4" cy="144.2" r="1.25"/><circle cx="380.1" cy="144.2" r="1.25"/><circle cx="389.7" cy="144.2" r="1.25"/><circle cx="399.4" cy="144.2" r="1.25"/><circle cx="409" cy="144.2" r="1.25"/><circle cx="418.7" cy="144.2" r="1.25"/><circle cx="428.3" cy="144.2" r="1.25"/><circle cx="437.9" cy="144.2" r="1.25"/><circle cx="447.6" cy="144.2" r="1.25"/><circle cx="457.2" cy="144.2" r="1.25"/><circle cx="466.9" cy="144.2" r="1.25"/><circle cx="621.1" cy="144.2" r="1.25"/><circle cx="630.8" cy="144.2" r="1.25"/><circle cx="640.4" cy="144.2" r="1.25"/><circle cx="650.1" cy="144.2" r="1.25"/><circle cx="659.7" cy="144.2" r="1.25"/><circle cx="669.3" cy="144.2" r="1.25"/><circle cx="196.9" cy="153.5" r="1.25"/><circle cx="206.5" cy="153.5" r="1.25"/><circle cx="216.2" cy="153.5" r="1.25"/><circle cx="225.8" cy="153.5" r="1.25"/><circle cx="245.1" cy="153.5" r="1.25"/><circle cx="254.8" cy="153.5" r="1.25"/><circle cx="380.1" cy="153.5" r="1.25"/><circle cx="389.7" cy="153.5" r="1.25"/><circle cx="399.4" cy="153.5" r="1.25"/><circle cx="409" cy="153.5" r="1.25"/><circle cx="418.7" cy="153.5" r="1.25"/><circle cx="428.3" cy="153.5" r="1.25"/><circle cx="437.9" cy="153.5" r="1.25"/><circle cx="447.6" cy="153.5" r="1.25"/><circle cx="457.2" cy="153.5" r="1.25"/><circle cx="630.8" cy="153.5" r="1.25"/><circle cx="640.4" cy="153.5" r="1.25"/><circle cx="650.1" cy="153.5" r="1.25"/><circle cx="659.7" cy="153.5" r="1.25"/><circle cx="196.9" cy="162.8" r="1.25"/><circle cx="206.5" cy="162.8" r="1.25"/><circle cx="216.2" cy="162.8" r="1.25"/><circle cx="245.1" cy="162.8" r="1.25"/><circle cx="293.3" cy="162.8" r="1.25"/><circle cx="447.6" cy="162.8" r="1.25"/><circle cx="457.2" cy="162.8" r="1.25"/><circle cx="206.5" cy="172.1" r="1.25"/><circle cx="216.2" cy="172.1" r="1.25"/><circle cx="283.7" cy="172.1" r="1.25"/><circle cx="293.3" cy="172.1" r="1.25"/><circle cx="71.6" cy="190.8" r="1.25"/><circle cx="119.8" cy="190.8" r="1.25"/><circle cx="139.1" cy="190.8" r="1.25"/><circle cx="148.7" cy="190.8" r="1.25"/><circle cx="158.3" cy="190.8" r="1.25"/><circle cx="168" cy="190.8" r="1.25"/><circle cx="119.8" cy="200.1" r="1.25"/><circle cx="139.1" cy="200.1" r="1.25"/><circle cx="148.7" cy="200.1" r="1.25"/><circle cx="158.3" cy="200.1" r="1.25"/><circle cx="225.8" cy="200.1" r="1.25"/><circle cx="235.5" cy="200.1" r="1.25"/><circle cx="341.5" cy="200.1" r="1.25"/><circle cx="351.2" cy="200.1" r="1.25"/><circle cx="360.8" cy="200.1" r="1.25"/><circle cx="139.1" cy="209.4" r="1.25"/><circle cx="148.7" cy="209.4" r="1.25"/><circle cx="158.3" cy="209.4" r="1.25"/><circle cx="119.8" cy="218.7" r="1.25"/><circle cx="139.1" cy="218.7" r="1.25"/><circle cx="148.7" cy="218.7" r="1.25"/><circle cx="158.3" cy="218.7" r="1.25"/><circle cx="139.1" cy="228.1" r="1.25"/><circle cx="148.7" cy="228.1" r="1.25"/><circle cx="158.3" cy="228.1" r="1.25"/></g>
<path d="M310.3 86l4.6 4.6M310.3 90.6l4.6 -4.6M319.9 86l4.6 4.6M319.9 90.6l4.6 -4.6M329.6 86l4.6 4.6M329.6 90.6l4.6 -4.6M628.5 86l4.6 4.6M628.5 90.6l4.6 -4.6M233.2 95.3l4.6 4.6M233.2 99.9l4.6 -4.6M242.8 95.3l4.6 4.6M242.8 99.9l4.6 -4.6M291 95.3l4.6 4.6M291 99.9l4.6 -4.6M319.9 95.3l4.6 4.6M319.9 99.9l4.6 -4.6M387.4 95.3l4.6 4.6M387.4 99.9l4.6 -4.6M406.7 95.3l4.6 4.6M406.7 99.9l4.6 -4.6M599.5 95.3l4.6 4.6M599.5 99.9l4.6 -4.6M628.5 95.3l4.6 4.6M628.5 99.9l4.6 -4.6M638.1 95.3l4.6 4.6M638.1 99.9l4.6 -4.6M647.8 95.3l4.6 4.6M647.8 99.9l4.6 -4.6M310.3 104.6l4.6 4.6M310.3 109.2l4.6 -4.6M406.7 104.6l4.6 4.6M406.7 109.2l4.6 -4.6M647.8 104.6l4.6 4.6M647.8 109.2l4.6 -4.6M310.3 113.9l4.6 4.6M310.3 118.5l4.6 -4.6M416.4 113.9l4.6 4.6M416.4 118.5l4.6 -4.6M474.2 113.9l4.6 4.6M474.2 118.5l4.6 -4.6M570.6 113.9l4.6 4.6M570.6 118.5l4.6 -4.6M262.1 123.2l4.6 4.6M262.1 127.8l4.6 -4.6M300.7 123.2l4.6 4.6M300.7 127.8l4.6 -4.6M416.4 123.2l4.6 4.6M416.4 127.8l4.6 -4.6M599.5 123.2l4.6 4.6M599.5 127.8l4.6 -4.6M638.1 123.2l4.6 4.6M638.1 127.8l4.6 -4.6M59.6 132.6l4.6 4.6M59.6 137.2l4.6 -4.6M233.2 132.6l4.6 4.6M233.2 137.2l4.6 -4.6M271.7 132.6l4.6 4.6M271.7 137.2l4.6 -4.6M609.2 132.6l4.6 4.6M609.2 137.2l4.6 -4.6M638.1 132.6l4.6 4.6M638.1 137.2l4.6 -4.6M667 132.6l4.6 4.6M667 137.2l4.6 -4.6M271.7 141.9l4.6 4.6M271.7 146.5l4.6 -4.6M319.9 141.9l4.6 4.6M319.9 146.5l4.6 -4.6M474.2 141.9l4.6 4.6M474.2 146.5l4.6 -4.6M262.1 151.2l4.6 4.6M262.1 155.8l4.6 -4.6M281.4 151.2l4.6 4.6M281.4 155.8l4.6 -4.6M291 151.2l4.6 4.6M291 155.8l4.6 -4.6M358.5 151.2l4.6 4.6M358.5 155.8l4.6 -4.6M464.6 151.2l4.6 4.6M464.6 155.8l4.6 -4.6M541.7 151.2l4.6 4.6M541.7 155.8l4.6 -4.6M551.3 151.2l4.6 4.6M551.3 155.8l4.6 -4.6M561 151.2l4.6 4.6M561 155.8l4.6 -4.6M667 151.2l4.6 4.6M667 155.8l4.6 -4.6M88.5 160.5l4.6 4.6M88.5 165.1l4.6 -4.6M223.5 160.5l4.6 4.6M223.5 165.1l4.6 -4.6M252.5 160.5l4.6 4.6M252.5 165.1l4.6 -4.6M281.4 160.5l4.6 4.6M281.4 165.1l4.6 -4.6M300.7 160.5l4.6 4.6M300.7 165.1l4.6 -4.6M310.3 160.5l4.6 4.6M310.3 165.1l4.6 -4.6M406.7 160.5l4.6 4.6M406.7 165.1l4.6 -4.6M310.3 169.8l4.6 4.6M310.3 174.4l4.6 -4.6M319.9 169.8l4.6 4.6M319.9 174.4l4.6 -4.6M329.6 169.8l4.6 4.6M329.6 174.4l4.6 -4.6M78.9 188.5l4.6 4.6M78.9 193.1l4.6 -4.6M127.1 188.5l4.6 4.6M127.1 193.1l4.6 -4.6M223.5 188.5l4.6 4.6M223.5 193.1l4.6 -4.6M233.2 188.5l4.6 4.6M233.2 193.1l4.6 -4.6M339.2 188.5l4.6 4.6M339.2 193.1l4.6 -4.6M348.9 188.5l4.6 4.6M348.9 193.1l4.6 -4.6M358.5 188.5l4.6 4.6M358.5 193.1l4.6 -4.6M69.3 197.8l4.6 4.6M69.3 202.4l4.6 -4.6M78.9 197.8l4.6 4.6M78.9 202.4l4.6 -4.6M107.8 197.8l4.6 4.6M107.8 202.4l4.6 -4.6M127.1 197.8l4.6 4.6M127.1 202.4l4.6 -4.6M165.7 197.8l4.6 4.6M165.7 202.4l4.6 -4.6M387.4 197.8l4.6 4.6M387.4 202.4l4.6 -4.6M107.8 207.1l4.6 4.6M107.8 211.7l4.6 -4.6M117.5 207.1l4.6 4.6M117.5 211.7l4.6 -4.6M223.5 207.1l4.6 4.6M223.5 211.7l4.6 -4.6M233.2 207.1l4.6 4.6M233.2 211.7l4.6 -4.6M339.2 207.1l4.6 4.6M339.2 211.7l4.6 -4.6M348.9 207.1l4.6 4.6M348.9 211.7l4.6 -4.6M387.4 207.1l4.6 4.6M387.4 211.7l4.6 -4.6M397.1 207.1l4.6 4.6M397.1 211.7l4.6 -4.6M107.8 216.4l4.6 4.6M107.8 221l4.6 -4.6M310.3 235.1l4.6 4.6M310.3 239.7l4.6 -4.6M319.9 235.1l4.6 4.6M319.9 239.7l4.6 -4.6M69.3 244.4l4.6 4.6M69.3 249l4.6 -4.6M319.9 244.4l4.6 4.6M319.9 249l4.6 -4.6" stroke="#fff" stroke-width="0.7" fill="none" opacity="0.85"/>
<use href="#coast"/>
<path d="M54.85 176.6H674.8" stroke="#333" stroke-width="1.35" stroke-dasharray="10.3 5.15" fill="none"/>
</g>
<rect x="56.5" y="27.5" width="618.3" height="279.6" fill="none" stroke="#222" stroke-width="1"/>
<path d="M57.1 27.5v-7M57.1 307.1v7M114.9 27.5v-7M114.9 307.1v7M172.8 27.5v-7M172.8 307.1v7M230.6 27.5v-7M230.6 307.1v7M288.5 27.5v-7M288.5 307.1v7M346.3 27.5v-7M346.3 307.1v7M404.2 27.5v-7M404.2 307.1v7M462 27.5v-7M462 307.1v7M519.9 27.5v-7M519.9 307.1v7M577.7 27.5v-7M577.7 307.1v7M635.6 27.5v-7M635.6 307.1v7M56.5 288.6h-7M674.8 288.6h7M56.5 251.4h-7M674.8 251.4h7M56.5 214.1h-7M674.8 214.1h7M56.5 176.8h-7M674.8 176.8h7M56.5 139.5h-7M674.8 139.5h7M56.5 102.2h-7M674.8 102.2h7M56.5 65h-7M674.8 65h7M56.5 27.7h-7M674.8 27.7h7" stroke="#222" stroke-width="1" fill="none"/>
<g font-size="9.6" text-anchor="middle" fill="#222">
<text x="57.1" y="327.3">30°E</text>
<text x="172.8" y="327.3">90°E</text>
<text x="288.5" y="327.3">150°E</text>
<text x="404.2" y="327.3">150°W</text>
<text x="519.9" y="327.3">90°W</text>
<text x="635.6" y="327.3">30°W</text>
<text x="33.7" y="31.1">80°N</text>
<text x="33.7" y="105.6">40°N</text>
<text x="33.7" y="180.2">0°</text>
<text x="33.7" y="254.8">40°S</text>
</g>
<text x="365.5" y="335.7" font-size="13.6" text-anchor="middle" fill="#222" textLength="64" lengthAdjust="spacing">Longitude</text>
<text transform="translate(12.6,167.5) rotate(-90)" font-size="14.2" text-anchor="middle" fill="#222" textLength="53.4" lengthAdjust="spacing">Latitude</text>
<text x="365.7" y="12.9" font-size="12.6" text-anchor="middle" fill="#222" textLength="553" lengthAdjust="spacingAndGlyphs">(b) Future Change in Major TC Density (MRI−AGCM3.2S, 2061−2099 − 1981−2020)</text>
<g stroke="#1a1a1a" stroke-width="1.1" stroke-linejoin="round">
<path d="M79.7 345L49.5 352.5L79.7 360Z" fill="#B5EA4D"/>
<rect x="79.7" y="345" width="10.3" height="15" fill="#95D944"/>
<rect x="90" y="345" width="10.3" height="15" fill="#7CC946"/>
<rect x="100.4" y="345" width="10.3" height="15" fill="#62B646"/>
<rect x="110.7" y="345" width="10.3" height="15" fill="#4FA240"/>
<rect x="121" y="345" width="10.3" height="15" fill="#3F8B3A"/>
<rect x="131.4" y="345" width="10.3" height="15" fill="#36782E"/>
<rect x="141.7" y="345" width="10.3" height="15" fill="#27581F"/>
<rect x="152" y="345" width="10.3" height="15" fill="#1F4432"/>
<rect x="162.4" y="345" width="10.3" height="15" fill="#1B3350"/>
<rect x="172.7" y="345" width="10.3" height="15" fill="#1B2672"/>
<rect x="183.1" y="345" width="10.3" height="15" fill="#1F189A"/>
<rect x="193.4" y="345" width="10.3" height="15" fill="#2B3AB0"/>
<rect x="203.7" y="345" width="10.3" height="15" fill="#2F50AE"/>
<rect x="214.1" y="345" width="10.3" height="15" fill="#3A6AB8"/>
<rect x="224.4" y="345" width="10.3" height="15" fill="#3F7FBE"/>
<rect x="234.7" y="345" width="10.3" height="15" fill="#4A95C4"/>
<rect x="245.1" y="345" width="10.3" height="15" fill="#55A8C8"/>
<rect x="255.4" y="345" width="10.3" height="15" fill="#66C2D4"/>
<rect x="265.7" y="345" width="10.3" height="15" fill="#70C4D4"/>
<rect x="276.1" y="345" width="10.3" height="15" fill="#7CB4D2"/>
<rect x="286.4" y="345" width="10.3" height="15" fill="#8CA4D0"/>
<rect x="296.7" y="345" width="10.3" height="15" fill="#9C98D0"/>
<rect x="307.1" y="345" width="10.3" height="15" fill="#A8A4D4"/>
<rect x="317.4" y="345" width="10.3" height="15" fill="#BCB8E0"/>
<rect x="327.7" y="345" width="10.3" height="15" fill="#CCCAE6"/>
<rect x="338.1" y="345" width="10.3" height="15" fill="#E4E4F2"/>
<rect x="348.4" y="345" width="10.3" height="15" fill="#FFFFFF"/>
<rect x="358.7" y="345" width="10.3" height="15" fill="#FFFFFF"/>
<rect x="369.1" y="345" width="10.3" height="15" fill="#F6E0E2"/>
<rect x="379.4" y="345" width="10.3" height="15" fill="#F4CCD0"/>
<rect x="389.8" y="345" width="10.3" height="15" fill="#F2B8BE"/>
<rect x="400.1" y="345" width="10.3" height="15" fill="#F0A4AC"/>
<rect x="410.4" y="345" width="10.3" height="15" fill="#EE9098"/>
<rect x="420.8" y="345" width="10.3" height="15" fill="#EE7C86"/>
<rect x="431.1" y="345" width="10.3" height="15" fill="#EC6C78"/>
<rect x="441.4" y="345" width="10.3" height="15" fill="#EC5866"/>
<rect x="451.8" y="345" width="10.3" height="15" fill="#EC4C58"/>
<rect x="462.1" y="345" width="10.3" height="15" fill="#E04848"/>
<rect x="472.4" y="345" width="10.3" height="15" fill="#D84844"/>
<rect x="482.8" y="345" width="10.3" height="15" fill="#D0443C"/>
<rect x="493.1" y="345" width="10.3" height="15" fill="#D84C30"/>
<rect x="503.4" y="345" width="10.3" height="15" fill="#E05A30"/>
<rect x="513.8" y="345" width="10.3" height="15" fill="#E86830"/>
<rect x="524.1" y="345" width="10.3" height="15" fill="#F07830"/>
<rect x="534.4" y="345" width="10.3" height="15" fill="#F08830"/>
<rect x="544.8" y="345" width="10.3" height="15" fill="#EE9430"/>
<rect x="555.1" y="345" width="10.3" height="15" fill="#F0A030"/>
<rect x="565.5" y="345" width="10.3" height="15" fill="#EEAC30"/>
<rect x="575.8" y="345" width="10.3" height="15" fill="#EEBC34"/>
<rect x="586.1" y="345" width="10.3" height="15" fill="#ECC434"/>
<rect x="596.5" y="345" width="10.3" height="15" fill="#ECD038"/>
<rect x="606.8" y="345" width="10.3" height="15" fill="#ECDC3C"/>
<rect x="617.1" y="345" width="10.3" height="15" fill="#ECE840"/>
<rect x="627.5" y="345" width="10.3" height="15" fill="#ECF444"/>
<path d="M637.8 345L667.9 352.5L637.8 360Z" fill="#E8FC44"/>
</g>
<g font-size="10" text-anchor="middle" fill="#222">
<text x="79.3" y="371.6">−1.00</text>
<text x="120.6" y="371.6">−0.80</text>
<text x="162" y="371.6">−0.60</text>
<text x="203.3" y="371.6">−0.40</text>
<text x="244.7" y="371.6">−0.20</text>
<text x="286" y="371.6">−0.07</text>
<text x="327.3" y="371.6">−0.03</text>
<text x="367" y="371.6">0.01</text>
<text x="408.3" y="371.6">0.05</text>
<text x="449.7" y="371.6">0.10</text>
<text x="491" y="371.6">0.30</text>
<text x="532.3" y="371.6">0.50</text>
<text x="573.7" y="371.6">0.70</text>
<text x="615" y="371.6">0.90</text>
</g>
</g>
</svg></body></html>
